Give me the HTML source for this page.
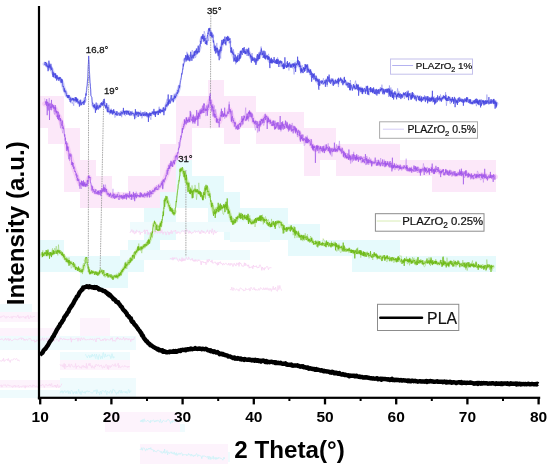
<!DOCTYPE html>
<html><head><meta charset="utf-8"><style>html,body{margin:0;padding:0;background:#fff;width:550px;height:468px;overflow:hidden}svg{display:block}</style></head>
<body><svg width="550" height="468" viewBox="0 0 550 468" font-family="'Liberation Sans', Arial, sans-serif">
<g fill="#fce8f9" opacity="1.0"><rect x="40" y="96" width="8" height="16"/><rect x="40" y="112" width="8" height="16"/><rect x="48" y="96" width="16" height="16"/><rect x="48" y="112" width="16" height="16"/><rect x="48" y="128" width="16" height="16"/><rect x="64" y="128" width="16" height="16"/><rect x="64" y="144" width="16" height="16"/><rect x="64" y="160" width="16" height="16"/><rect x="64" y="176" width="16" height="16"/><rect x="80" y="160" width="16" height="16"/><rect x="80" y="176" width="16" height="16"/><rect x="80" y="192" width="16" height="16"/><rect x="96" y="176" width="16" height="16"/><rect x="96" y="192" width="16" height="16"/><rect x="112" y="192" width="16" height="16"/><rect x="128" y="176" width="16" height="16"/><rect x="128" y="192" width="16" height="16"/><rect x="144" y="176" width="16" height="16"/><rect x="144" y="192" width="16" height="16"/><rect x="160" y="144" width="16" height="16"/><rect x="160" y="160" width="16" height="16"/><rect x="160" y="176" width="16" height="16"/><rect x="176" y="96" width="16" height="16"/><rect x="176" y="112" width="16" height="16"/><rect x="176" y="128" width="16" height="16"/><rect x="176" y="144" width="16" height="16"/><rect x="192" y="96" width="16" height="16"/><rect x="192" y="112" width="16" height="16"/><rect x="208" y="80" width="16" height="16"/><rect x="208" y="96" width="16" height="16"/><rect x="208" y="112" width="16" height="16"/><rect x="224" y="96" width="16" height="16"/><rect x="224" y="112" width="16" height="16"/><rect x="224" y="128" width="16" height="16"/><rect x="240" y="96" width="16" height="16"/><rect x="240" y="112" width="16" height="16"/><rect x="256" y="112" width="16" height="16"/><rect x="256" y="128" width="16" height="16"/><rect x="272" y="112" width="16" height="16"/><rect x="272" y="128" width="16" height="16"/><rect x="288" y="112" width="16" height="16"/><rect x="288" y="128" width="16" height="16"/><rect x="304" y="128" width="16" height="16"/><rect x="304" y="144" width="16" height="16"/><rect x="304" y="160" width="16" height="16"/><rect x="320" y="128" width="16" height="16"/><rect x="320" y="144" width="16" height="16"/><rect x="336" y="144" width="16" height="16"/><rect x="336" y="160" width="16" height="16"/><rect x="352" y="144" width="16" height="16"/><rect x="352" y="160" width="16" height="16"/><rect x="368" y="144" width="16" height="16"/><rect x="368" y="160" width="16" height="16"/><rect x="384" y="144" width="16" height="16"/><rect x="384" y="160" width="16" height="16"/><rect x="400" y="160" width="16" height="16"/><rect x="416" y="160" width="16" height="16"/><rect x="432" y="160" width="16" height="16"/><rect x="432" y="176" width="16" height="16"/><rect x="448" y="160" width="16" height="16"/><rect x="448" y="176" width="16" height="16"/><rect x="464" y="160" width="16" height="16"/><rect x="464" y="176" width="16" height="16"/><rect x="480" y="160" width="16" height="16"/><rect x="480" y="176" width="16" height="16"/></g>
<g fill="#e6fafc" opacity="1.0"><rect x="40" y="240" width="8" height="16"/><rect x="40" y="256" width="8" height="16"/><rect x="48" y="240" width="16" height="16"/><rect x="48" y="256" width="16" height="16"/><rect x="64" y="256" width="16" height="16"/><rect x="80" y="256" width="16" height="16"/><rect x="80" y="272" width="16" height="16"/><rect x="96" y="256" width="16" height="16"/><rect x="96" y="272" width="16" height="16"/><rect x="112" y="256" width="16" height="16"/><rect x="112" y="272" width="16" height="16"/><rect x="128" y="240" width="16" height="16"/><rect x="128" y="256" width="16" height="16"/><rect x="144" y="208" width="16" height="16"/><rect x="144" y="224" width="16" height="16"/><rect x="144" y="240" width="16" height="16"/><rect x="160" y="192" width="16" height="16"/><rect x="160" y="208" width="16" height="16"/><rect x="160" y="224" width="16" height="16"/><rect x="176" y="160" width="16" height="16"/><rect x="176" y="176" width="16" height="16"/><rect x="176" y="192" width="16" height="16"/><rect x="192" y="176" width="16" height="16"/><rect x="192" y="192" width="16" height="16"/><rect x="208" y="176" width="16" height="16"/><rect x="208" y="192" width="16" height="16"/><rect x="208" y="208" width="16" height="16"/><rect x="224" y="192" width="16" height="16"/><rect x="224" y="208" width="16" height="16"/><rect x="224" y="224" width="16" height="16"/><rect x="240" y="208" width="16" height="16"/><rect x="240" y="224" width="16" height="16"/><rect x="256" y="208" width="16" height="16"/><rect x="256" y="224" width="16" height="16"/><rect x="272" y="208" width="16" height="16"/><rect x="272" y="224" width="16" height="16"/><rect x="288" y="224" width="16" height="16"/><rect x="288" y="240" width="16" height="16"/><rect x="304" y="224" width="16" height="16"/><rect x="304" y="240" width="16" height="16"/><rect x="320" y="240" width="16" height="16"/><rect x="336" y="240" width="16" height="16"/><rect x="352" y="240" width="16" height="16"/><rect x="352" y="256" width="16" height="16"/><rect x="368" y="240" width="16" height="16"/><rect x="368" y="256" width="16" height="16"/><rect x="384" y="240" width="16" height="16"/><rect x="384" y="256" width="16" height="16"/><rect x="400" y="256" width="16" height="16"/><rect x="416" y="256" width="16" height="16"/><rect x="432" y="256" width="16" height="16"/><rect x="448" y="256" width="16" height="16"/><rect x="464" y="256" width="16" height="16"/><rect x="480" y="256" width="16" height="16"/></g>
<g fill="#effbfd">
<rect x="0" y="304" width="32" height="14"/>
<rect x="0" y="336" width="136" height="14"/>
<rect x="60" y="352" width="70" height="18"/>
<rect x="60" y="378" width="76" height="20"/>
<rect x="0" y="390" width="60" height="8"/>
<rect x="140" y="424" width="45" height="8"/>
<rect x="140" y="452" width="90" height="10"/>
<rect x="290" y="60" width="8" height="8"/>
</g>
<g fill="#fdf3fc">
<rect x="0" y="312" width="40" height="10"/>
<rect x="0" y="328" width="60" height="8"/>
<rect x="80" y="318" width="30" height="18"/>
<rect x="0" y="380" width="60" height="8"/>
<rect x="105" y="412" width="75" height="20"/>
<rect x="140" y="444" width="88" height="20"/>
<rect x="60" y="360" width="70" height="10"/>
</g>
<path d="M0.0 316.1L0.6 317.6 1.2 317.5 1.8 316.2 2.4 316.3 3.0 316.6 3.6 315.7 4.2 316.2 4.8 316.2 5.4 317.7 6.0 318.3 6.6 316.6 7.2 316.8 7.8 317.2 8.4 316.5 9.0 316.8 9.6 317.8 10.2 317.2 10.8 316.9 11.4 316.5 12.0 318.3 12.6 316.5 13.2 317.1 13.8 316.1 14.4 316.5 15.0 317.1 15.6 316.7 16.2 317.5 16.8 317.1 17.4 315.8 18.0 314.9 18.6 317.9 19.2 316.5 19.8 318.3 20.4 317.0 21.0 316.3 21.6 317.5 22.2 316.8 22.8 317.0 23.4 316.2 24.0 317.6 24.6 318.0 25.2 316.5 25.8 318.6 26.4 316.5 27.0 317.2 27.6 315.5 28.2 315.3 28.8 318.9 29.4 318.3 30.0 318.0 30.6 315.5 31.2 317.2 31.8 317.4 32.4 317.1 33.0 317.3 33.6 316.2 34.2 316.9 34.8 316.0" fill="none" stroke="#f8d8f3" stroke-width="0.8"/>
<path d="M0.0 339.2L0.6 339.9 1.2 338.7 1.8 339.2 2.4 339.1 3.0 339.5 3.6 340.4 4.2 339.7 4.8 339.9 5.4 338.1 6.0 339.1 6.6 340.3 7.2 338.7 7.8 339.1 8.4 338.5 9.0 340.8 9.6 339.1 10.2 338.8 10.8 340.1 11.4 340.6 12.0 340.0 12.6 340.5 13.2 339.7 13.8 339.4 14.4 339.1 15.0 339.0 15.6 338.9 16.2 339.9 16.8 339.4 17.4 339.6 18.0 340.1 18.6 339.5 19.2 338.1 19.8 338.7 20.4 338.4 21.0 337.6 21.6 339.6 22.2 338.3 22.8 338.2 23.4 338.4 24.0 340.4 24.6 339.2 25.2 340.5 25.8 339.4 26.4 339.1 27.0 340.1 27.6 340.1 28.2 339.6 28.8 338.5 29.4 339.0 30.0 338.3 30.6 339.2 31.2 339.6 31.8 341.0 32.4 340.9 33.0 340.2 33.6 340.5 34.2 339.7 34.8 342.3 35.4 341.0 36.0 342.1 36.6 339.9 37.2 339.9 37.8 340.6 38.4 339.7 39.0 339.8 39.6 338.5 40.2 340.4 40.8 339.6 41.4 340.3 42.0 339.3 42.6 337.7 43.2 340.0 43.8 340.7 44.4 338.2 45.0 338.5 45.6 339.2 46.2 339.3 46.8 337.8 47.4 341.3 48.0 340.5 48.6 338.9 49.2 337.7 49.8 339.9 50.4 341.5 51.0 340.3 51.6 340.7 52.2 338.6 52.8 339.7 53.4 338.0 54.0 341.5 54.6 340.1 55.2 337.4 55.8 337.7 56.4 340.0 57.0 339.6 57.6 339.2 58.2 340.1 58.8 341.5 59.4 339.9 60.0 337.7 60.6 339.3 61.2 338.2 61.8 338.7 62.4 339.8 63.0 339.3 63.6 338.4 64.2 339.5 64.8 338.7 65.4 340.0 66.0 339.3 66.6 339.9 67.2 339.2 67.8 340.2 68.4 339.4 69.0 339.5 69.6 338.9 70.2 339.6 70.8 337.7 71.4 342.2 72.0 338.8 72.6 339.6 73.2 339.0 73.8 339.0 74.4 339.9 75.0 339.0 75.6 339.1 76.2 338.1 76.8 338.6 77.4 338.3 78.0 341.3 78.6 338.2 79.2 338.4 79.8 339.7 80.4 340.9 81.0 337.8 81.6 337.9 82.2 339.6 82.8 339.8 83.4 338.1 84.0 337.7 84.6 338.5 85.2 340.2 85.8 339.4 86.4 340.2 87.0 339.4 87.6 339.5 88.2 340.1 88.8 339.4 89.4 339.7 90.0 338.6 90.6 338.9 91.2 340.0 91.8 339.2 92.4 338.7 93.0 340.1 93.6 340.0 94.2 339.5 94.8 338.7 95.4 340.4 96.0 342.0 96.6 338.7 97.2 337.9 97.8 338.7 98.4 338.5 99.0 338.2 99.6 338.3 100.2 340.3 100.8 340.3 101.4 341.0 102.0 340.2 102.6 339.0 103.2 340.6 103.8 338.9 104.4 339.1 105.0 338.3 105.6 340.7 106.2 340.5 106.8 339.0 107.4 339.2 108.0 339.5 108.6 339.7 109.2 340.3 109.8 339.5 110.4 339.9 111.0 338.0 111.6 339.2 112.2 337.7 112.8 341.3 113.4 340.9 114.0 340.2 114.6 340.6 115.2 341.5 115.8 340.4 116.4 337.9 117.0 339.3 117.6 337.1 118.2 338.7 118.8 338.2 119.4 339.5 120.0 339.9 120.6 338.5 121.2 339.2 121.8 339.7 122.4 339.3 123.0 339.3 123.6 337.1 124.2 339.0 124.8 340.3 125.4 339.7 126.0 338.0 126.6 339.2 127.2 339.7 127.8 338.5 128.4 340.1 129.0 338.7 129.6 339.1 130.2 339.4 130.8 341.7 131.4 339.1 132.0 338.9 132.6 340.2 133.2 339.0 133.8 339.7 134.4 337.2" fill="none" stroke="#f7d2f1" stroke-width="0.8"/>
<path d="M0.0 386.2L0.6 385.9 1.2 384.8 1.8 387.2 2.4 385.8 3.0 385.8 3.6 384.8 4.2 384.5 4.8 385.5 5.4 384.6 6.0 386.4 6.6 386.7 7.2 385.4 7.8 384.5 8.4 385.6 9.0 385.0 9.6 386.1 10.2 386.1 10.8 385.6 11.4 386.0 12.0 386.9 12.6 387.5 13.2 385.5 13.8 386.6 14.4 385.8 15.0 385.0 15.6 387.1 16.2 386.3 16.8 386.1 17.4 386.3 18.0 385.8 18.6 385.0 19.2 387.6 19.8 386.8 20.4 386.2 21.0 386.8 21.6 387.1 22.2 385.8 22.8 386.5 23.4 385.7 24.0 386.5 24.6 385.7 25.2 388.2 25.8 385.6 26.4 386.4 27.0 386.4 27.6 385.7 28.2 386.8 28.8 385.9 29.4 385.6 30.0 386.0 30.6 385.3 31.2 387.0 31.8 386.5 32.4 386.8 33.0 384.7 33.6 386.2 34.2 385.3 34.8 386.0 35.4 387.1 36.0 386.2 36.6 385.8 37.2 387.0 37.8 386.9 38.4 387.6 39.0 384.3 39.6 386.3 40.2 385.6 40.8 385.2 41.4 386.1 42.0 384.9 42.6 384.0 43.2 385.2 43.8 385.7 44.4 387.6 45.0 385.3 45.6 384.9 46.2 384.2 46.8 385.6 47.4 385.7 48.0 386.1 48.6 384.7 49.2 385.3 49.8 383.9 50.4 386.1 51.0 384.6 51.6 383.5 52.2 387.0 52.8 386.4 53.4 386.3 54.0 386.3 54.6 385.0 55.2 386.9 55.8 385.0 56.4 387.7 57.0 386.2 57.6 384.3 58.2 386.7 58.8 387.7 59.4 385.7 60.0 386.9 60.6 385.8 61.2 385.4 61.8 383.6" fill="none" stroke="#f8d8f3" stroke-width="0.8"/>
<path d="M60.0 393.4L60.6 391.4 61.2 392.4 61.8 390.6 62.4 390.9 63.0 393.3 63.6 391.5 64.2 391.5 64.8 390.4 65.4 392.2 66.0 392.9 66.6 391.4 67.2 391.7 67.8 390.5 68.4 393.6 69.0 391.2 69.6 391.8 70.2 394.0 70.8 391.7 71.4 390.1 72.0 390.8 72.6 391.5 73.2 394.1 73.8 392.2 74.4 391.7 75.0 393.0 75.6 393.5 76.2 391.0 76.8 393.7 77.4 393.0 78.0 392.5 78.6 389.1 79.2 392.2 79.8 393.6 80.4 391.6 81.0 394.7 81.6 392.1 82.2 390.7 82.8 392.7 83.4 392.3 84.0 393.0 84.6 391.7 85.2 393.5 85.8 391.3 86.4 392.1 87.0 390.5 87.6 391.0 88.2 392.2 88.8 391.2 89.4 391.4 90.0 391.7 90.6 392.3 91.2 392.9 91.8 392.9 92.4 393.2 93.0 392.2 93.6 391.3 94.2 390.1 94.8 391.6 95.4 391.0 96.0 389.8 96.6 394.0 97.2 389.7 97.8 392.4 98.4 392.6 99.0 391.7 99.6 395.1 100.2 392.0 100.8 391.0 101.4 394.1 102.0 391.0 102.6 390.2 103.2 390.8 103.8 391.2 104.4 392.0 105.0 392.4 105.6 390.1 106.2 392.4 106.8 394.7 107.4 391.1 108.0 391.8 108.6 392.8 109.2 393.4 109.8 391.2 110.4 390.8 111.0 390.7 111.6 393.3 112.2 393.1 112.8 389.3 113.4 389.4 114.0 390.5 114.6 390.1 115.2 392.5 115.8 392.2 116.4 394.4 117.0 392.9 117.6 392.1 118.2 393.4 118.8 390.9 119.4 390.3 120.0 392.0 120.6 393.1 121.2 390.0 121.8 393.1 122.4 393.0 123.0 391.4 123.6 392.2 124.2 391.6 124.8 392.1 125.4 393.0 126.0 391.0 126.6 393.2 127.2 393.0 127.8 393.1 128.4 389.6 129.0 389.7 129.6 392.8 130.2 391.3 130.8 391.1 131.4 391.0" fill="none" stroke="#cbf2f7" stroke-width="0.8"/>
<path d="M60.0 364.3L60.6 365.6 61.2 365.1 61.8 365.2 62.4 366.6 63.0 364.5 63.6 367.3 64.2 363.3 64.8 369.0 65.4 364.3 66.0 366.7 66.6 367.1 67.2 366.0 67.8 366.9 68.4 365.8 69.0 363.8 69.6 366.4 70.2 367.4 70.8 365.3 71.4 363.9 72.0 365.2 72.6 366.4 73.2 366.3 73.8 367.3 74.4 366.7 75.0 366.6 75.6 363.5 76.2 368.7 76.8 366.0 77.4 367.0 78.0 365.5 78.6 365.8 79.2 366.0 79.8 367.9 80.4 367.8 81.0 366.7 81.6 368.4 82.2 365.5 82.8 366.6 83.4 365.4 84.0 367.6 84.6 366.0 85.2 367.2 85.8 368.1 86.4 363.4 87.0 368.6 87.6 366.4 88.2 365.6 88.8 363.6 89.4 365.6 90.0 363.2 90.6 366.1 91.2 365.8 91.8 368.2 92.4 365.6 93.0 367.3 93.6 367.4 94.2 368.5 94.8 365.7 95.4 366.9 96.0 364.1 96.6 364.6 97.2 365.7 97.8 366.0 98.4 364.5 99.0 365.5 99.6 366.8 100.2 365.4 100.8 365.8 101.4 364.9 102.0 367.7 102.6 368.2 103.2 366.2 103.8 365.8 104.4 368.0 105.0 366.6 105.6 365.2 106.2 364.3 106.8 365.3 107.4 368.7 108.0 365.3 108.6 369.5 109.2 366.0 109.8 365.7 110.4 367.6 111.0 365.7 111.6 366.5 112.2 364.7 112.8 364.5 113.4 365.1 114.0 366.3 114.6 365.2 115.2 363.6 115.8 366.6 116.4 365.8 117.0 365.7 117.6 365.2 118.2 363.2 118.8 368.0 119.4 365.4 120.0 366.6 120.6 367.7 121.2 367.4 121.8 366.2 122.4 366.0 123.0 366.4 123.6 367.1 124.2 366.7 124.8 365.4 125.4 366.6 126.0 366.5 126.6 366.9 127.2 366.3 127.8 367.7 128.4 366.2 129.0 367.1 129.6 366.1" fill="none" stroke="#f8d8f3" stroke-width="0.8"/>
<path d="M85.0 355.1L85.6 354.5 86.2 355.8 86.8 356.8 87.4 357.9 88.0 355.9 88.6 355.2 89.2 355.2 89.8 358.0 90.4 356.2 91.0 355.2 91.6 357.1 92.2 354.0 92.8 356.2 93.4 355.9 94.0 355.8 94.6 354.2 95.2 357.5 95.8 358.6 96.4 354.0 97.0 356.2 97.6 357.0 98.2 359.5 98.8 355.4 99.4 354.5 100.0 356.0 100.6 359.1 101.2 356.1 101.8 356.4 102.4 358.7 103.0 352.7 103.6 352.7 104.2 357.4 104.8 357.2 105.4 353.9 106.0 356.8 106.6 356.1 107.2 356.3 107.8 354.8 108.4 355.3 109.0 354.7 109.6 356.1 110.2 355.6 110.8 358.6 111.4 357.0 112.0 353.6 112.6 356.6 113.2 358.2 113.8 356.4 114.4 357.7" fill="none" stroke="#cbf2f7" stroke-width="0.8"/>
<path d="M140.0 421.0L140.6 421.7 141.2 420.0 141.8 421.8 142.4 419.6 143.0 422.3 143.6 419.4 144.2 418.8 144.8 421.5 145.4 420.8 146.0 421.1 146.6 421.4 147.2 421.0 147.8 420.1 148.4 421.2 149.0 421.4 149.6 421.5 150.2 423.0 150.8 420.2 151.4 421.1 152.0 421.6 152.6 420.5 153.2 419.8 153.8 420.4 154.4 422.1 155.0 420.7 155.6 421.6 156.2 420.2 156.8 421.5 157.4 420.3 158.0 420.1 158.6 421.1 159.2 421.1 159.8 422.5 160.4 419.3 161.0 421.5 161.6 422.7 162.2 422.4 162.8 420.6 163.4 420.3 164.0 420.5 164.6 421.3 165.2 421.2 165.8 421.4 166.4 421.6 167.0 419.9 167.6 419.8 168.2 419.7 168.8 419.6 169.4 420.9 170.0 421.3 170.6 423.6 171.2 421.5 171.8 421.0 172.4 422.5 173.0 420.2 173.6 421.3 174.2 422.0 174.8 421.8 175.4 421.4 176.0 420.6 176.6 419.7 177.2 420.8 177.8 420.4" fill="none" stroke="#cbf2f7" stroke-width="0.8"/>
<path d="M140.0 449.7L140.6 448.9 141.2 449.7 141.8 447.6 142.4 450.3 143.0 448.5 143.6 447.8 144.2 448.1 144.8 448.9 145.4 450.8 146.0 450.5 146.6 448.6 147.2 450.0 147.8 449.8 148.4 448.4 149.0 449.1 149.6 448.1 150.2 449.3 150.8 447.6 151.4 449.6 152.0 449.5 152.6 449.7 153.2 449.7 153.8 451.8 154.4 450.4 155.0 451.0 155.6 451.6 156.2 451.9 156.8 451.7 157.4 450.5 158.0 450.0 158.6 450.4 159.2 450.8 159.8 451.4 160.4 451.4 161.0 452.6 161.6 451.5 162.2 453.5 162.8 452.8 163.4 451.3 164.0 452.8 164.6 449.0 165.2 453.4 165.8 452.5 166.4 452.6 167.0 450.5 167.6 454.9 168.2 452.1 168.8 452.3 169.4 453.7 170.0 452.4 170.6 451.8 171.2 453.4 171.8 451.8 172.4 453.6 173.0 453.1 173.6 454.2 174.2 451.9 174.8 454.4 175.4 453.5 176.0 455.3 176.6 452.7 177.2 455.4 177.8 454.3 178.4 454.4 179.0 452.9 179.6 454.3 180.2 454.5 180.8 453.0 181.4 452.8 182.0 453.2 182.6 455.6 183.2 454.3 183.8 455.2 184.4 454.6 185.0 454.5 185.6 454.7 186.2 454.1 186.8 455.9 187.4 454.9 188.0 455.0 188.6 453.4 189.2 455.2 189.8 454.3 190.4 454.5 191.0 456.2 191.6 454.1 192.2 455.1 192.8 456.0 193.4 456.6 194.0 454.9 194.6 455.9 195.2 455.9 195.8 454.5 196.4 453.6 197.0 453.9 197.6 456.5 198.2 456.1 198.8 454.7 199.4 455.5 200.0 455.8 200.6 455.9 201.2 456.3 201.8 458.7 202.4 455.7 203.0 456.7 203.6 455.8 204.2 456.1 204.8 455.9 205.4 456.6 206.0 456.4 206.6 457.3 207.2 457.3 207.8 456.2 208.4 459.2 209.0 456.1 209.6 457.7 210.2 459.6 210.8 456.8 211.4 458.9 212.0 459.1 212.6 458.1 213.2 455.9 213.8 459.3 214.4 458.0 215.0 457.4 215.6 459.4 216.2 457.4 216.8 459.3 217.4 457.7 218.0 458.9 218.6 457.3 219.2 458.1 219.8 457.6 220.4 457.9 221.0 458.9 221.6 458.6 222.2 459.1 222.8 460.2 223.4 458.9 224.0 457.2 224.6 458.9" fill="none" stroke="#cbf2f7" stroke-width="0.8"/>
<path d="M0.0 360.1L0.6 361.2 1.2 361.3 1.8 361.2 2.4 359.7 3.0 360.8 3.6 358.2 4.2 361.6 4.8 360.5 5.4 360.6 6.0 359.5 6.6 360.1 7.2 359.2 7.8 360.7 8.4 358.4 9.0 361.2 9.6 360.7 10.2 362.5 10.8 360.0 11.4 359.9 12.0 360.2 12.6 360.0 13.2 359.9 13.8 358.6 14.4 358.6 15.0 359.3 15.6 359.6 16.2 358.5 16.8 358.6 17.4 359.7 18.0 360.9 18.6 359.8 19.2 360.8 19.8 361.2" fill="none" stroke="#f8d8f3" stroke-width="0.8"/>
<g fill="#effbfd"><rect x="130" y="222" width="130" height="10"/><rect x="120" y="250" width="130" height="10"/><rect x="230" y="230" width="40" height="12"/></g>
<path d="M130.0 233.0L130.6 231.4 131.2 231.5 131.8 229.5 132.4 231.1 133.0 232.6 133.6 230.6 134.2 233.8 134.8 233.9 135.4 231.5 136.0 233.2 136.6 230.1 137.2 230.6 137.8 231.5 138.4 232.0 139.0 231.8 139.6 230.9 140.2 234.6 140.8 232.4 141.4 232.4 142.0 232.9 142.6 232.2 143.2 231.7 143.8 231.3 144.4 229.8 145.0 234.0 145.6 230.8 146.2 229.8 146.8 230.9 147.4 229.9 148.0 234.6 148.6 232.5 149.2 233.9 149.8 233.9 150.4 232.8 151.0 232.8 151.6 231.0 152.2 231.9 152.8 231.2 153.4 232.1 154.0 231.1 154.6 233.7 155.2 233.0 155.8 231.9 156.4 229.8 157.0 232.9 157.6 233.2 158.2 231.9 158.8 230.3 159.4 232.6 160.0 233.4 160.6 229.5 161.2 232.8 161.8 229.6 162.4 232.1 163.0 234.3 163.6 232.1 164.2 232.6 164.8 231.6 165.4 232.0 166.0 235.1 166.6 233.8 167.2 231.6 167.8 231.5 168.4 232.0 169.0 234.9 169.6 232.3 170.2 233.5 170.8 231.5 171.4 230.3 172.0 233.8 172.6 231.9 173.2 231.0 173.8 231.1 174.4 231.1 175.0 231.2 175.6 230.0 176.2 233.6 176.8 232.5 177.4 233.3 178.0 231.5 178.6 232.5 179.2 232.2 179.8 233.6 180.4 233.1 181.0 232.5 181.6 231.1 182.2 230.4 182.8 230.9 183.4 231.2 184.0 231.3 184.6 230.4 185.2 234.2 185.8 232.4 186.4 229.3 187.0 230.6 187.6 230.2 188.2 232.3 188.8 233.4 189.4 230.7 190.0 232.8 190.6 231.6 191.2 233.5 191.8 233.8 192.4 232.4 193.0 232.9 193.6 232.0 194.2 231.5 194.8 230.5 195.4 232.4 196.0 231.9 196.6 231.5 197.2 231.9 197.8 231.8 198.4 230.6 199.0 231.3 199.6 233.5 200.2 231.7 200.8 233.8 201.4 230.5 202.0 230.2 202.6 232.2 203.2 233.0 203.8 231.1 204.4 232.8 205.0 233.2 205.6 233.4 206.2 231.9 206.8 231.9 207.4 229.8 208.0 232.0 208.6 232.4 209.2 233.9 209.8 230.3 210.4 230.9 211.0 230.7 211.6 233.2 212.2 228.7 212.8 230.6 213.4 234.7 214.0 232.9 214.6 230.3 215.2 231.9 215.8 233.1 216.4 232.7 217.0 231.7 217.6 231.0" fill="none" stroke="#f8d2f2" stroke-width="0.8"/>
<path d="M170.0 259.1L170.6 258.1 171.2 259.2 171.8 258.7 172.4 257.6 173.0 260.2 173.6 257.7 174.2 259.0 174.8 257.6 175.4 258.2 176.0 258.3 176.6 257.8 177.2 259.0 177.8 260.5 178.4 261.3 179.0 260.8 179.6 258.7 180.2 260.9 180.8 259.6 181.4 261.5 182.0 257.5 182.6 261.2 183.2 258.5 183.8 260.9 184.4 258.8 185.0 260.7 185.6 259.2 186.2 257.2 186.8 258.4 187.4 259.4 188.0 259.8 188.6 256.9 189.2 258.3 189.8 259.0 190.4 259.8 191.0 260.4 191.6 259.1 192.2 258.2 192.8 260.7 193.4 259.9 194.0 261.6 194.6 259.8 195.2 261.4 195.8 259.4 196.4 261.0 197.0 260.8 197.6 261.3 198.2 259.6 198.8 260.7 199.4 259.8 200.0 260.8 200.6 261.9 201.2 265.0 201.8 261.2 202.4 262.2 203.0 261.4 203.6 262.8 204.2 262.0 204.8 262.8 205.4 262.0 206.0 264.7 206.6 263.5 207.2 259.5 207.8 262.2 208.4 261.9 209.0 259.0 209.6 260.8 210.2 261.4 210.8 261.1 211.4 262.3 212.0 259.9 212.6 263.2 213.2 263.3 213.8 262.8 214.4 262.0 215.0 262.5 215.6 262.0 216.2 264.1 216.8 263.3 217.4 265.3 218.0 262.3 218.6 264.8 219.2 262.2 219.8 262.8 220.4 261.7 221.0 263.8 221.6 263.1 222.2 264.0 222.8 265.2 223.4 263.3 224.0 263.9 224.6 264.6 225.2 263.5 225.8 262.9 226.4 264.1 227.0 264.4 227.6 264.8 228.2 264.9 228.8 263.0 229.4 264.5 230.0 265.6 230.6 263.5 231.2 264.6 231.8 263.4 232.4 264.5 233.0 266.6 233.6 264.6 234.2 263.2 234.8 264.9 235.4 264.8 236.0 266.1 236.6 262.9 237.2 263.5 237.8 264.7 238.4 262.8 239.0 266.4 239.6 262.3 240.2 263.9 240.8 263.2 241.4 264.3 242.0 266.3 242.6 266.1 243.2 266.5 243.8 266.2 244.4 262.8 245.0 265.9 245.6 263.2 246.2 265.0 246.8 265.2 247.4 265.0 248.0 266.5 248.6 264.8 249.2 268.2 249.8 266.8 250.4 267.6 251.0 267.1 251.6 267.3 252.2 266.2 252.8 268.8 253.4 265.0 254.0 267.0 254.6 266.5 255.2 266.2 255.8 267.0 256.4 265.7 257.0 267.8 257.6 267.8 258.2 267.0 258.8 267.9 259.4 265.6 260.0 264.7 260.6 266.3 261.2 266.8 261.8 270.4 262.4 267.0 263.0 268.7 263.6 268.5 264.2 270.2 264.8 267.6 265.4 268.4 266.0 267.4 266.6 266.5 267.2 266.4 267.8 266.8 268.4 269.7 269.0 268.3 269.6 267.8 270.2 268.1 270.8 267.4 271.4 268.1" fill="none" stroke="#f8d2f2" stroke-width="0.8"/>
<path d="M230.0 289.0L230.6 289.8 231.2 290.1 231.8 287.0 232.4 289.3 233.0 290.7 233.6 287.8 234.2 288.7 234.8 289.2 235.4 290.3 236.0 289.7 236.6 288.7 237.2 289.6 237.8 290.3 238.4 289.5 239.0 291.2 239.6 289.5 240.2 287.8 240.8 288.1 241.4 288.9 242.0 288.8 242.6 289.8 243.2 289.4 243.8 291.1 244.4 290.0 245.0 290.8 245.6 288.1 246.2 288.5 246.8 289.8 247.4 289.1 248.0 289.8 248.6 289.3 249.2 288.3 249.8 291.1 250.4 290.4 251.0 287.1 251.6 288.3 252.2 289.0 252.8 289.8 253.4 288.9 254.0 287.4 254.6 290.0 255.2 288.8 255.8 290.5 256.4 289.4 257.0 290.2 257.6 290.0 258.2 290.1 258.8 288.4 259.4 290.3 260.0 289.3 260.6 287.5 261.2 288.5 261.8 288.6 262.4 289.6 263.0 289.8 263.6 287.7 264.2 289.9 264.8 288.9 265.4 287.8 266.0 290.0 266.6 288.1 267.2 287.6 267.8 289.9 268.4 290.1 269.0 288.2 269.6 290.3 270.2 290.2 270.8 288.4 271.4 291.4 272.0 289.0 272.6 289.3 273.2 286.2 273.8 289.8 274.4 288.3 275.0 289.6 275.6 287.0 276.2 290.4 276.8 290.8 277.4 291.3 278.0 285.5 278.6 289.7 279.2 289.4 279.8 285.4 280.4 288.2 281.0 288.9 281.6 290.7" fill="none" stroke="#f8d8f3" stroke-width="0.8"/>
<g stroke="#9c9c9c" stroke-width="0.85" stroke-dasharray="1.6 0.8" fill="none">
<line x1="88.6" y1="60" x2="88.3" y2="272"/>
<line x1="103.7" y1="99" x2="100.1" y2="272"/>
<line x1="210.8" y1="15.5" x2="210.4" y2="128.5"/>
<line x1="185.9" y1="170" x2="185.9" y2="256.5"/>
</g>
<path d="M44.4 64.1L45.1 63.9 45.9 63.6 46.6 64.7 47.4 66.2 48.1 66.5 48.9 66.3 49.6 66.3 50.4 67.0 51.1 68.1 51.9 69.6 52.6 72.0 53.4 73.6 54.1 74.4 54.9 75.2 55.6 76.3 56.4 77.1 57.1 77.7 57.9 78.3 58.6 78.6 59.4 78.5 60.1 79.1 60.9 80.0 61.6 81.2 62.4 83.0 63.1 85.7 63.9 88.4 64.7 90.2 65.4 92.1 66.2 94.0 66.9 95.6 67.7 96.5 68.4 96.5 69.2 97.4 69.9 97.8 70.7 98.9 71.4 99.0 72.2 99.3 72.9 99.6 73.7 99.7 74.4 99.5 75.2 99.4 75.9 99.3 76.7 99.9 77.4 100.9 78.2 101.6 78.9 102.9 79.7 102.6 80.4 103.5 81.2 103.1 81.9 103.4 82.7 102.5 83.4 102.2 84.2 101.5 84.9 99.5 M93.2 105.0L93.9 106.3 94.7 107.7 95.4 107.6 96.2 108.1 96.9 106.9 97.7 107.5 98.4 107.1 99.2 106.9 99.9 106.1 100.7 105.1 101.4 104.5 102.2 103.8 102.9 103.6 103.7 103.1 104.4 103.9 105.2 105.1 105.9 106.0 106.7 107.4 107.4 108.3 108.2 110.2 108.9 110.8 109.7 111.6 110.4 111.6 111.2 111.4 111.9 112.0 112.7 112.2 113.4 112.7 114.2 112.3 114.9 112.9 115.7 113.2 116.4 113.7 117.2 113.9 117.9 113.9 118.7 114.2 119.4 113.8 120.2 114.0 120.9 113.4 121.7 113.3 122.4 112.2 123.2 112.2 123.9 112.1 124.7 112.3 125.4 112.0 126.2 112.0 126.9 112.0 127.7 112.1 128.4 112.6 129.2 113.4 129.9 113.5 130.7 113.5 131.4 113.2 132.2 113.7 132.9 113.6 133.7 114.5 134.4 114.1 135.2 113.7 135.9 113.3 136.7 113.4 137.4 114.3 138.2 113.8 138.9 114.0 139.7 113.8 140.4 114.5 141.2 114.5 141.9 114.2 142.7 114.1 143.4 114.0 144.2 114.5 144.9 114.2 145.7 114.4 146.4 114.9 147.2 114.9 147.9 116.0 148.7 115.2 149.4 115.4 150.2 114.4 150.9 114.3 151.7 113.7 152.4 113.0 153.2 112.4 153.9 112.6 154.7 113.0 155.4 113.0 156.2 112.9 156.9 112.3 157.7 112.5 158.4 112.1 159.2 111.5 159.9 111.0 160.7 110.7 161.4 111.0 162.2 110.4 162.9 110.3 163.7 109.7 164.4 109.7 165.2 108.0 165.9 106.9 166.7 104.8 167.4 103.5 168.2 102.2 168.9 101.3 169.7 101.5 170.4 100.4 171.2 100.3 171.9 99.4 172.7 100.3 173.4 99.5 174.2 98.5 174.9 97.1 175.7 95.9 176.4 94.8 177.2 93.0 177.9 91.2 178.7 89.1 179.4 86.6 M184.7 59.9L185.4 58.8 186.2 58.6 186.9 58.5 187.7 57.2 188.4 57.4 189.2 58.3 189.9 57.8 190.7 57.3 191.4 56.4 192.2 57.3 192.9 56.8 193.7 55.5 194.4 54.1 195.2 52.9 195.9 52.4 196.7 52.0 197.4 51.2 198.2 51.2 198.9 49.8 199.7 47.3 M201.2 40.4L201.9 38.3 202.7 37.2 203.4 37.5 204.2 38.6 204.9 40.4 205.7 41.7 206.4 41.5 M208.7 31.3L209.4 30.9 210.2 32.1 210.9 33.8 211.7 34.7 212.4 36.2 M214.7 46.7L215.4 49.2 216.2 50.0 216.9 50.2 217.7 51.1 218.4 52.2 219.2 52.9 219.9 51.6 220.7 49.3 221.4 46.4 222.2 44.5 222.9 42.3 223.7 41.7 224.4 40.9 225.2 41.7 225.9 40.7 226.7 39.9 227.4 38.7 228.2 39.3 228.9 39.4 229.7 41.8 M231.9 51.4L232.7 53.1 233.4 55.5 234.2 57.4 234.9 59.3 235.7 59.5 236.4 60.0 237.2 58.9 237.9 59.1 238.7 58.1 239.4 57.6 240.2 54.7 240.9 53.4 241.7 52.0 242.4 51.1 243.2 50.1 243.9 50.3 244.7 51.4 245.4 52.5 246.2 52.2 246.9 51.8 247.7 51.5 248.4 52.0 249.2 53.1 249.9 54.4 250.7 56.9 251.4 58.1 252.2 59.0 252.9 58.9 253.7 59.3 254.4 59.8 255.2 60.9 255.9 61.2 256.6 59.6 257.4 58.5 258.1 56.9 258.9 56.9 259.6 54.8 260.4 53.4 261.1 52.0 261.9 52.5 262.6 53.6 263.4 54.6 264.1 54.9 264.9 55.8 265.6 56.4 266.4 56.9 267.1 57.1 267.9 57.6 268.6 59.0 269.4 60.8 270.1 61.7 270.9 61.6 271.6 61.0 272.4 61.1 273.1 60.9 273.9 61.2 274.6 61.3 275.4 61.9 276.1 61.5 276.9 61.5 277.6 61.4 278.4 62.3 279.1 62.6 279.9 62.7 280.6 62.4 281.4 62.9 282.1 64.4 282.9 65.8 283.6 66.8 284.4 65.5 285.1 65.3 285.9 65.0 286.6 65.9 287.4 65.5 288.1 64.8 288.9 64.4 289.6 64.9 290.4 65.4 291.1 66.1 291.9 65.6 292.6 65.2 293.4 64.9 294.1 65.3 294.9 66.2 295.6 65.9 296.4 65.3 297.1 62.8 297.9 62.9 298.6 63.0 299.4 64.9 300.1 66.8 300.9 68.7 301.6 70.2 302.4 70.5 303.1 69.8 303.9 69.8 304.6 68.4 305.4 67.7 306.1 67.2 306.9 67.5 307.6 68.7 308.4 69.7 309.1 70.6 309.9 71.3 310.6 72.8 311.4 74.8 312.1 76.0 312.9 76.2 313.6 75.9 314.4 76.9 315.1 77.4 315.9 78.8 316.6 79.2 317.4 80.1 318.1 82.1 318.9 83.4 319.6 83.7 320.4 82.5 321.1 81.8 321.9 81.8 322.6 82.4 323.4 82.8 324.1 82.7 324.9 82.4 325.6 81.7 326.4 81.5 327.1 79.6 327.9 79.7 328.6 78.8 329.4 80.1 330.1 80.5 330.9 81.1 331.6 80.8 332.4 81.1 333.1 81.5 333.9 82.6 334.6 81.9 335.4 82.1 336.1 81.9 336.9 81.8 337.6 81.2 338.4 80.6 339.1 80.6 339.9 80.2 340.6 79.9 341.4 80.3 342.1 81.6 342.9 82.3 343.6 82.0 344.4 81.2 345.1 81.7 345.9 82.8 346.6 83.8 347.4 84.8 348.1 84.5 348.9 85.3 349.6 85.5 350.4 86.2 351.1 86.4 351.9 87.2 352.6 87.5 353.4 87.5 354.1 86.8 354.9 87.6 355.6 87.5 356.4 87.2 357.1 87.3 357.9 88.1 358.6 88.9 359.4 89.0 360.1 89.1 360.9 89.3 361.6 90.3 362.4 90.3 363.1 90.8 363.9 89.7 364.6 90.1 365.4 90.1 366.1 89.4 366.9 89.1 367.6 89.7 368.4 90.4 369.1 90.0 369.9 89.3 370.6 89.8 371.4 90.2 372.1 90.8 372.9 90.6 373.6 91.3 374.4 91.3 375.1 92.2 375.9 92.1 376.6 92.5 377.4 92.0 378.1 91.9 378.9 91.3 379.6 91.1 380.4 90.2 381.1 89.3 381.9 90.1 382.6 90.4 383.4 91.5 384.1 90.6 384.9 90.8 385.6 90.7 386.4 91.2 387.1 91.1 387.9 90.6 388.6 90.9 389.4 91.9 390.1 93.8 390.9 93.9 391.6 94.1 392.4 94.0 393.1 95.4 393.9 94.9 394.6 94.3 395.4 93.9 396.1 95.3 396.9 95.9 397.6 95.3 398.4 94.9 399.1 94.8 399.9 95.7 400.6 95.7 401.4 96.2 402.1 95.8 402.9 95.2 403.6 94.4 404.4 94.1 405.1 94.1 405.9 94.8 406.6 95.1 407.4 95.3 408.1 95.5 408.9 95.1 409.6 95.4 410.4 96.1 411.1 96.2 411.9 95.9 412.6 95.2 413.4 95.7 414.1 96.7 414.9 96.9 415.6 98.2 416.4 97.9 417.1 97.8 417.9 97.1 418.6 97.5 419.4 98.5 420.1 99.0 420.9 99.5 421.6 99.5 422.4 99.4 423.1 98.7 423.9 98.4 424.6 98.6 425.4 99.1 426.1 98.9 426.9 99.0 427.6 99.3 428.4 99.5 429.1 99.4 429.9 99.5 430.6 99.3 431.4 98.4 432.1 98.0 432.9 98.1 433.6 99.8 434.4 100.0 435.1 100.7 435.9 99.6 436.6 99.6 437.4 98.9 438.1 98.9 438.9 98.5 439.6 98.5 440.4 98.9 441.1 99.4 441.9 99.0 442.6 98.1 443.4 97.6 444.1 97.6 444.9 97.6 445.6 98.2 446.4 98.4 447.1 99.3 447.9 98.8 448.6 98.2 449.4 98.2 450.1 99.0 450.9 100.1 451.6 99.9 452.4 100.0 453.1 100.2 453.9 99.9 454.6 100.6 455.4 100.4 456.1 101.4 456.9 101.5 457.6 101.2 458.4 100.6 459.1 99.8 459.9 99.9 460.6 100.2 461.4 100.0 462.1 100.4 462.9 101.1 463.6 101.2 464.4 101.0 465.1 100.0 465.9 100.0 466.6 99.7 467.4 100.3 468.1 100.7 468.9 101.2 469.6 101.2 470.4 101.7 471.1 102.5 471.9 103.1 472.6 102.7 473.4 102.2 474.1 102.0 474.9 101.9 475.6 101.5 476.4 101.4 477.1 101.6 477.9 102.1 478.6 101.9 479.4 102.0 480.1 102.2 480.9 102.9 481.6 103.0 482.4 102.4 483.1 102.0 483.9 102.3 484.6 102.5 485.4 102.3 486.1 102.0 486.9 101.9 487.6 102.2 488.4 101.8 489.1 102.1 489.9 101.7 490.6 101.8 491.4 101.2 492.1 101.4 492.9 101.2 493.6 101.7 494.4 102.3 495.1 103.7 495.9 104.1 496.6 103.6" fill="none" stroke="#a09ef4" stroke-width="3.8" stroke-linejoin="round" stroke-linecap="round" opacity="0.45"/>
<path d="M44.7 103.9L45.5 103.6 46.2 104.1 47.0 104.2 47.7 105.3 48.5 106.5 49.2 106.9 50.0 107.4 50.7 105.9 51.5 106.3 52.2 105.8 53.0 106.7 53.7 107.3 54.5 108.0 55.2 108.9 56.0 110.2 56.7 113.0 57.5 114.5 58.2 116.1 59.0 116.2 59.7 118.0 60.5 120.1 61.2 122.7 62.0 124.4 62.7 126.4 M66.5 144.3L67.2 146.7 68.0 149.5 68.7 152.4 69.5 154.7 70.2 155.6 71.0 158.2 71.7 161.0 72.5 163.8 73.2 165.6 74.0 168.4 74.7 170.6 75.5 172.7 76.2 174.7 77.0 177.3 77.7 179.2 78.5 180.5 79.2 182.2 80.0 183.4 80.7 183.9 81.5 183.2 82.2 183.8 83.0 184.0 83.7 184.4 84.5 184.3 85.2 184.7 86.0 184.7 86.7 184.0 87.5 181.7 88.2 179.3 89.0 177.5 89.7 178.3 M92.0 188.2L92.7 189.8 93.5 190.2 94.2 191.3 95.0 192.1 95.7 192.3 96.5 192.7 97.2 192.6 98.0 192.4 98.7 192.5 99.5 192.5 100.2 192.8 101.0 191.9 101.7 191.4 102.5 190.5 103.2 189.7 104.0 189.6 104.7 189.4 105.5 190.4 106.2 191.0 107.0 192.4 107.7 193.4 108.5 194.4 109.2 194.7 110.0 194.9 110.7 195.6 111.5 195.7 112.2 196.3 113.0 195.3 113.7 195.5 114.5 195.5 115.2 196.4 116.0 196.6 116.7 196.1 117.5 195.9 118.2 196.6 119.0 197.0 119.7 197.0 120.5 196.3 121.2 196.7 122.0 196.8 122.7 196.9 123.5 196.5 124.2 196.8 125.0 196.5 125.7 196.6 126.5 196.0 127.2 196.1 128.0 195.9 128.7 195.6 129.4 195.3 130.2 195.5 130.9 196.3 131.7 196.2 132.4 195.8 133.2 195.1 133.9 195.7 134.7 196.0 135.4 196.1 136.2 195.7 136.9 195.6 137.7 195.6 138.4 195.7 139.2 195.4 139.9 195.5 140.7 194.9 141.4 195.0 142.2 194.9 142.9 195.4 143.7 195.1 144.4 195.0 145.2 194.8 145.9 195.1 146.7 194.9 147.4 194.3 148.2 194.2 148.9 194.4 149.7 193.8 150.4 193.7 151.2 192.8 151.9 192.3 152.7 191.5 153.4 190.9 154.2 190.2 154.9 189.5 155.7 188.5 156.4 188.8 157.2 188.5 157.9 187.9 158.7 187.1 159.4 186.2 160.2 185.9 160.9 185.0 161.7 184.5 162.4 183.2 163.2 182.0 163.9 180.5 164.7 179.4 165.4 177.8 166.2 175.5 166.9 174.1 167.7 171.8 168.4 169.7 169.2 167.4 169.9 165.8 170.7 165.2 171.4 164.6 172.2 164.5 172.9 163.4 173.7 162.6 174.4 161.1 175.2 159.2 175.9 157.2 176.7 156.1 177.4 154.6 M183.4 126.6L184.2 123.8 184.9 122.5 185.7 121.1 186.4 120.8 187.2 120.4 187.9 120.6 188.7 120.3 189.4 118.7 190.2 118.2 190.9 118.0 191.7 118.3 192.4 118.8 193.2 118.8 193.9 119.9 194.7 119.7 195.4 119.3 196.2 117.5 196.9 117.8 197.7 116.6 198.4 116.4 199.2 113.5 199.9 112.8 200.7 111.6 201.4 111.6 202.2 110.3 202.9 109.1 203.7 107.1 204.4 107.4 205.2 108.2 205.9 109.5 206.7 109.9 207.4 108.5 208.2 106.9 208.9 102.7 209.7 101.0 210.4 101.1 211.2 104.2 211.9 106.5 212.7 109.3 213.4 111.1 214.2 113.7 214.9 114.8 215.7 117.1 216.4 118.8 217.2 120.2 217.9 121.0 218.7 121.8 219.4 121.9 220.2 119.9 220.9 116.7 221.7 114.6 222.4 114.0 223.2 114.5 223.9 113.9 224.7 114.1 225.4 114.4 226.2 115.1 226.9 114.2 227.7 113.4 228.4 111.2 229.2 110.5 229.9 109.8 230.7 112.9 231.4 115.1 232.2 118.2 232.9 119.5 233.7 122.2 234.4 123.1 235.2 125.2 235.9 125.9 236.7 126.7 237.4 126.7 238.2 126.4 238.9 125.9 239.7 124.9 240.4 123.6 241.2 122.2 241.9 121.1 242.7 120.0 243.4 118.9 244.2 117.8 244.9 118.3 245.7 118.9 246.4 118.2 247.2 117.5 247.9 116.1 248.7 114.8 249.4 113.7 250.2 113.7 250.9 114.9 251.7 116.3 252.4 118.5 253.2 120.6 253.9 121.9 254.7 122.3 255.4 122.5 256.2 123.6 256.9 124.5 257.7 125.5 258.4 125.8 259.2 125.4 259.9 124.6 260.7 122.2 261.4 121.5 262.2 120.6 262.9 120.6 263.7 119.2 264.4 117.9 265.2 116.8 265.9 116.6 266.7 119.0 267.4 119.6 268.2 121.2 268.9 120.1 269.7 121.3 270.4 121.9 271.2 123.2 271.9 123.9 272.7 123.8 273.4 123.9 274.2 124.4 274.9 126.1 275.7 125.7 276.4 125.9 277.2 124.7 277.9 125.9 278.7 126.2 279.4 125.8 280.2 125.5 280.9 125.2 281.7 125.5 282.4 125.5 283.2 125.8 283.9 126.8 284.7 125.6 285.4 125.5 286.2 124.9 286.9 126.3 287.7 126.9 288.4 127.4 289.2 127.3 289.9 127.0 290.7 128.0 291.4 128.5 292.2 129.8 292.9 129.3 293.7 129.4 294.4 129.1 295.2 129.5 295.9 130.2 296.7 131.0 297.4 131.5 298.2 132.2 298.9 132.5 299.7 134.4 300.4 135.7 301.2 136.8 301.9 137.8 302.7 138.5 303.4 139.5 304.2 139.5 304.9 140.2 305.7 140.3 306.4 140.4 307.2 140.2 307.9 140.2 308.7 140.6 309.4 141.1 310.2 142.0 310.9 143.4 311.7 144.9 312.4 146.4 313.2 147.3 313.9 147.3 314.7 149.5 315.4 149.6 316.2 149.5 316.9 147.8 317.7 147.5 318.4 147.9 319.2 147.8 319.9 148.1 320.7 148.7 321.4 149.4 322.2 149.4 322.9 149.1 323.7 149.1 324.4 149.7 325.2 149.8 325.9 148.5 326.7 147.8 327.4 148.1 328.2 148.8 328.9 149.7 329.7 149.8 330.4 150.1 331.2 149.6 331.9 149.7 332.7 149.8 333.4 149.4 334.2 149.3 334.9 149.2 335.7 150.0 336.4 150.0 337.2 149.6 337.9 149.1 338.7 148.3 339.4 148.5 340.2 149.1 340.9 150.3 341.7 150.6 342.4 152.1 343.2 152.8 343.9 154.0 344.7 154.2 345.4 155.3 346.2 156.5 346.9 156.7 347.7 157.3 348.4 156.5 349.2 156.9 349.9 156.7 350.7 158.0 351.4 157.6 352.2 157.9 352.9 157.0 353.7 157.7 354.4 157.2 355.2 157.8 355.9 157.5 356.7 157.9 357.4 158.3 358.2 158.5 358.9 158.5 359.7 158.5 360.4 158.5 361.2 158.2 361.9 158.7 362.7 159.6 363.4 160.9 364.2 160.7 364.9 159.6 365.7 159.0 366.4 159.9 367.2 161.2 367.9 161.6 368.7 161.3 369.4 161.8 370.2 161.9 370.9 162.4 371.7 162.4 372.4 162.6 373.2 162.5 373.9 162.8 374.7 162.1 375.4 162.3 376.2 162.2 376.9 163.3 377.7 163.1 378.4 163.1 379.2 163.2 379.9 163.9 380.7 164.0 381.4 163.7 382.2 162.9 382.9 163.1 383.7 163.2 384.4 164.0 385.2 163.9 385.9 164.2 386.7 163.4 387.4 163.8 388.2 164.3 388.9 164.1 389.7 164.4 390.4 164.2 391.2 165.7 391.9 165.3 392.7 165.7 393.4 165.2 394.2 166.2 394.9 166.4 395.7 167.0 396.4 166.8 397.2 166.8 397.9 166.6 398.7 167.0 399.4 167.0 400.2 167.5 400.9 167.5 401.7 167.7 402.4 167.6 403.2 167.5 403.9 167.6 404.7 167.4 405.4 167.7 406.2 168.0 406.9 168.2 407.7 168.6 408.4 169.2 409.2 169.7 409.9 169.8 410.7 169.9 411.4 169.8 412.2 170.2 412.9 169.9 413.7 169.7 414.4 169.3 415.2 169.3 415.9 169.3 416.7 169.7 417.4 169.2 418.2 169.7 418.9 169.8 419.7 170.9 420.4 171.2 421.2 170.7 421.9 170.2 422.7 169.7 423.4 169.8 424.2 169.7 424.9 169.9 425.7 169.9 426.4 170.5 427.2 170.9 427.9 170.9 428.7 171.0 429.4 170.5 430.2 170.6 430.9 170.1 431.7 168.9 432.4 169.1 433.2 169.8 433.9 171.4 434.7 171.4 435.4 170.2 436.2 169.5 436.9 169.4 437.7 169.8 438.4 170.4 439.2 170.9 439.9 172.5 440.7 172.6 441.4 172.5 442.2 171.3 442.9 171.7 443.7 172.4 444.4 173.4 445.2 172.9 445.9 172.1 446.7 171.9 447.4 172.5 448.2 173.1 448.9 172.5 449.7 172.8 450.4 173.0 451.2 173.4 451.9 173.7 452.7 173.3 453.4 173.8 454.2 173.5 454.9 173.8 455.7 174.1 456.4 174.5 457.2 174.3 457.9 173.8 458.7 173.3 459.4 173.4 460.2 173.6 460.9 173.3 461.7 173.4 462.4 174.3 463.2 174.5 463.9 174.6 464.7 173.5 465.4 173.2 466.2 173.5 466.9 174.2 467.7 175.3 468.4 175.2 469.2 175.1 469.9 175.2 470.7 175.6 471.4 175.9 472.2 176.4 472.9 176.2 473.7 175.7 474.4 175.8 475.2 176.2 475.9 176.7 476.7 176.1 477.4 175.8 478.2 176.0 478.9 175.7 479.7 175.6 480.4 175.0 481.2 175.3 481.9 175.9 482.7 176.1 483.4 176.4 484.2 174.9 484.9 175.2 485.7 175.4 486.4 177.3 487.2 177.6 487.9 177.1 488.7 176.8 489.4 176.4 490.2 176.3 490.9 176.4 491.7 176.5 492.4 177.0 493.2 176.5 493.9 177.2 494.7 176.7 495.4 176.7" fill="none" stroke="#f0a4f0" stroke-width="5.0" stroke-linejoin="round" stroke-linecap="round" opacity="0.4"/>
<path d="M42.0 254.8L42.8 254.8 43.5 254.6 44.2 254.0 45.0 253.5 45.8 253.4 46.5 253.4 47.2 253.2 48.0 253.3 48.8 254.2 49.5 254.3 50.2 254.2 51.0 253.6 51.8 253.7 52.5 253.3 53.2 252.8 54.0 252.2 54.8 252.2 55.5 252.2 56.2 252.1 57.0 251.9 57.8 251.3 58.5 251.3 59.2 251.7 60.0 252.1 60.8 252.8 61.5 253.3 62.2 254.2 63.0 255.1 63.8 256.5 64.5 257.8 65.2 258.6 66.0 259.4 66.8 260.2 67.5 260.9 68.2 261.8 69.0 262.3 69.8 262.6 70.5 262.7 71.2 262.9 72.0 263.7 72.8 263.9 73.5 264.7 74.2 265.5 75.0 267.0 75.8 267.9 76.5 268.4 77.2 268.8 78.0 268.9 78.8 269.0 79.5 269.6 80.2 270.6 81.0 271.0 81.8 271.0 82.5 270.2 83.2 268.6 84.0 266.3 M85.5 260.2L86.2 259.1 87.0 261.2 M89.2 270.7L90.0 272.3 90.8 272.5 91.5 272.0 92.2 271.9 93.0 272.2 93.8 272.8 94.5 272.9 95.2 273.1 96.0 273.2 96.8 273.5 97.5 273.8 98.2 273.5 99.0 273.0 99.8 272.4 100.5 271.9 101.2 271.6 102.0 272.0 102.8 272.0 103.5 273.3 104.2 273.7 105.0 274.8 105.8 274.6 106.5 274.6 107.2 274.9 108.0 275.2 108.8 275.7 109.5 276.0 110.2 276.0 111.0 276.4 111.8 276.6 112.5 277.4 113.2 277.2 114.0 276.7 114.8 276.4 115.5 276.5 116.2 276.7 117.0 276.4 117.8 276.2 118.5 275.8 119.2 275.1 120.0 274.4 120.8 273.1 121.5 272.1 122.2 270.6 123.0 269.7 123.8 268.4 124.5 267.4 125.2 266.2 126.0 265.5 126.8 264.9 127.5 264.0 128.2 263.3 129.0 262.2 129.8 261.4 130.5 260.3 131.2 259.7 132.0 258.3 132.8 257.1 133.5 256.1 134.2 255.2 135.0 254.2 135.8 252.6 136.5 251.5 137.2 250.2 138.0 249.1 138.8 248.9 139.5 248.3 140.2 248.5 141.0 248.1 141.8 248.4 142.5 247.5 143.2 247.0 144.0 246.0 144.8 245.5 145.5 245.2 146.2 244.6 147.0 243.8 147.8 242.6 148.5 241.9 149.2 240.9 150.0 239.5 150.8 237.4 151.5 235.0 M153.8 224.7L154.5 223.3 155.2 224.2 156.0 225.2 156.8 227.5 157.5 228.5 158.2 229.3 159.0 228.9 159.8 226.8 160.5 225.5 161.2 223.0 M165.8 199.0L166.5 198.5 167.2 200.3 168.0 202.8 168.8 204.7 169.5 206.9 170.2 208.0 171.0 209.3 171.8 210.1 172.5 211.5 173.2 212.9 174.0 213.5 174.8 211.6 M180.8 170.5L181.5 169.1 182.2 169.5 183.0 170.7 183.8 173.0 184.5 175.1 185.2 176.9 186.0 178.8 186.8 181.3 187.5 184.4 188.2 186.8 189.0 189.1 189.8 190.0 190.5 191.4 191.2 192.5 192.0 193.5 192.8 193.1 193.5 191.9 194.2 190.4 195.0 190.4 195.8 190.5 196.5 190.8 197.2 191.1 198.0 191.5 198.8 192.3 199.5 193.0 200.2 193.6 201.0 194.3 201.8 195.4 202.5 196.8 203.2 196.3 204.0 195.0 204.8 192.1 205.5 190.0 206.2 187.8 207.0 188.1 207.8 189.4 208.5 192.4 209.2 194.1 M211.5 203.5L212.2 206.3 213.0 208.9 213.8 211.5 214.5 212.8 215.2 212.6 216.0 211.9 216.8 210.5 217.5 208.4 218.2 207.9 219.0 207.8 219.8 208.4 220.5 207.5 221.2 207.5 222.0 207.4 222.8 207.4 223.5 206.9 224.2 206.8 225.0 207.1 225.8 206.5 226.5 205.8 227.2 206.6 228.0 208.7 228.8 211.2 229.5 213.7 230.2 215.7 231.0 218.7 231.8 220.6 232.5 221.8 233.2 222.2 234.0 221.7 234.8 221.8 235.5 220.5 236.2 219.5 237.0 218.1 237.8 217.5 238.5 216.7 239.2 216.4 240.0 215.9 240.8 216.6 241.5 216.4 242.2 217.2 243.0 216.7 243.8 216.9 244.5 216.9 245.2 217.5 246.0 217.9 246.8 217.9 247.5 218.4 248.2 219.3 249.0 220.1 249.8 220.8 250.5 221.6 251.2 222.7 252.0 222.9 252.8 222.8 253.5 222.2 254.2 221.9 255.0 220.8 255.8 220.5 256.5 219.6 257.2 219.3 258.0 218.7 258.8 218.6 259.5 218.3 260.2 218.1 261.0 218.0 261.8 218.0 262.5 218.4 263.2 219.4 264.0 220.2 264.8 220.5 265.5 220.1 266.2 221.0 267.0 222.2 267.8 223.7 268.5 223.7 269.2 224.2 270.0 224.5 270.8 225.4 271.5 225.0 272.2 224.2 273.0 223.7 273.8 224.0 274.5 224.5 275.2 224.1 276.0 223.4 276.8 222.8 277.5 222.5 278.2 222.3 279.0 222.0 279.8 222.2 280.5 222.6 281.2 223.6 282.0 224.5 282.8 226.5 283.5 227.4 284.2 228.5 285.0 228.5 285.8 229.0 286.5 229.2 287.2 228.7 288.0 228.5 288.8 228.1 289.5 228.5 290.2 228.3 291.0 228.5 291.8 228.3 292.5 228.9 293.2 229.5 294.0 230.0 294.8 231.0 295.5 231.7 296.2 232.9 297.0 233.3 297.8 233.7 298.5 234.4 299.2 235.2 300.0 236.4 300.8 236.5 301.5 236.7 302.2 236.9 303.0 237.4 303.8 237.6 304.5 237.3 305.2 238.0 306.0 238.2 306.8 238.5 307.5 238.9 308.2 239.3 309.0 240.1 309.8 240.5 310.5 240.3 311.2 240.4 312.0 240.6 312.8 241.9 313.5 242.7 314.2 243.2 315.0 242.9 315.8 242.9 316.5 243.1 317.2 243.7 318.0 244.1 318.8 243.7 319.5 243.7 320.2 243.6 321.0 244.3 321.8 244.2 322.5 244.0 323.2 243.9 324.0 244.5 324.8 244.9 325.5 244.5 326.2 243.8 327.0 243.4 327.8 244.1 328.5 244.6 329.2 244.5 330.0 245.0 330.8 244.8 331.5 245.1 332.2 244.7 333.0 244.7 333.8 244.8 334.5 245.1 335.2 245.1 336.0 245.4 336.8 245.6 337.5 246.5 338.2 246.6 339.0 247.1 339.8 247.3 340.5 247.5 341.2 247.7 342.0 248.4 342.8 248.3 343.5 248.3 344.2 248.4 345.0 249.7 345.8 250.3 346.5 250.2 347.2 249.9 348.0 249.8 348.8 249.8 349.5 250.1 350.2 250.4 351.0 251.0 351.8 251.2 352.5 251.3 353.2 251.4 354.0 252.5 354.8 252.4 355.5 252.7 356.2 251.3 357.0 252.1 357.8 252.0 358.5 252.6 359.2 252.3 360.0 252.6 360.8 252.8 361.5 253.5 362.2 253.7 363.0 253.8 363.8 253.6 364.5 253.5 365.2 254.5 366.0 254.7 366.8 255.0 367.5 254.1 368.2 254.5 369.0 254.7 369.8 254.9 370.5 255.1 371.2 255.6 372.0 255.9 372.8 256.1 373.5 255.4 374.2 255.3 375.0 254.8 375.8 255.3 376.5 256.0 377.2 256.8 378.0 257.0 378.8 257.2 379.5 256.7 380.2 256.8 381.0 257.2 381.8 257.8 382.5 257.8 383.2 257.0 384.0 257.3 384.8 257.7 385.5 258.2 386.2 257.8 387.0 257.6 387.8 257.9 388.5 258.1 389.2 258.9 390.0 259.1 390.8 259.4 391.5 258.8 392.2 258.8 393.0 258.8 393.8 259.2 394.5 259.3 395.2 259.7 396.0 259.7 396.8 259.8 397.5 259.5 398.2 259.1 399.0 259.1 399.8 259.8 400.5 260.4 401.2 261.4 402.0 261.5 402.8 261.7 403.5 261.4 404.2 260.7 405.0 260.6 405.8 260.1 406.5 260.3 407.2 260.3 408.0 260.7 408.8 260.4 409.5 260.5 410.2 260.7 411.0 261.7 411.8 261.9 412.5 261.8 413.2 261.2 414.0 261.3 414.8 261.6 415.5 262.5 416.2 262.5 417.0 262.0 417.8 261.7 418.5 261.8 419.2 261.9 420.0 261.7 420.8 261.4 421.5 262.1 422.2 262.3 423.0 263.0 423.8 263.1 424.5 262.9 425.2 262.6 426.0 261.8 426.8 262.1 427.5 262.2 428.2 262.2 429.0 262.2 429.8 261.8 430.5 261.5 431.2 261.6 432.0 261.9 432.8 262.8 433.5 262.6 434.2 262.5 435.0 262.3 435.8 262.2 436.5 262.9 437.2 263.2 438.0 263.7 438.8 263.6 439.5 263.5 440.2 263.0 441.0 263.1 441.8 263.7 442.5 263.6 443.2 262.9 444.0 262.3 444.8 262.8 445.5 263.7 446.2 263.9 447.0 264.3 447.8 264.3 448.5 264.3 449.2 263.7 450.0 262.8 450.8 262.8 451.5 263.0 452.2 263.8 453.0 264.4 453.8 264.5 454.5 263.8 455.2 263.2 456.0 263.1 456.8 263.7 457.5 263.2 458.2 263.5 459.0 263.8 459.8 264.4 460.5 264.6 461.2 264.6 462.0 264.8 462.8 264.6 463.5 264.7 464.2 264.8 465.0 265.5 465.8 265.1 466.5 265.4 467.2 264.7 468.0 264.8 468.8 264.9 469.5 265.5 470.2 265.6 471.0 265.1 471.8 265.0 472.5 264.7 473.2 265.2 474.0 265.3 474.8 265.8 475.5 265.0 476.2 265.2 477.0 265.4 477.8 266.6 478.5 266.4 479.2 266.5 480.0 266.2 480.8 266.2 481.5 266.7 482.2 267.0 483.0 267.2 483.8 267.0 484.5 266.7 485.2 266.6 486.0 266.7 486.8 267.0 487.5 266.6 488.2 266.3 489.0 266.3 489.8 266.5 490.5 267.3 491.2 267.5 492.0 267.3 492.8 266.8" fill="none" stroke="#b8e47c" stroke-width="3.8" stroke-linejoin="round" stroke-linecap="round" opacity="0.5"/>
<path d="M44.4 61.6L45.1 64.8 45.9 64.3 46.6 66.4 47.4 64.3 48.1 68.8 48.9 69.9 49.6 62.7 50.4 70.6 51.1 66.4 51.9 69.5 52.6 75.0 53.4 73.4 54.1 76.3 54.9 77.9 55.6 78.0 56.4 75.5 57.1 75.2 57.9 80.2 58.6 80.5 59.4 80.1 60.1 79.0 60.9 82.5 61.6 81.7 62.4 80.1 63.1 86.5 63.9 89.2 64.7 92.4 65.4 90.0 66.2 91.9 66.9 96.1 67.7 95.0 68.4 96.9 69.2 99.9 69.9 99.0 70.7 103.1 71.4 99.9 72.2 103.6 72.9 102.3 73.7 105.8 74.4 99.6 75.2 99.5 75.9 102.9 76.7 99.1 77.4 99.9 78.2 102.5 78.9 103.2 79.7 99.9 80.4 103.9 81.2 102.7 81.9 102.9 82.7 103.5 83.4 101.8 84.2 103.4 84.9 100.0 85.7 94.9 86.4 89.6 87.2 84.1 87.9 78.3 88.7 78.1 89.4 75.8 90.2 81.6 90.9 95.2 91.7 96.9 92.4 105.4 93.2 105.9 93.9 105.6 94.7 104.1 95.4 109.1 96.2 106.1 96.9 106.4 97.7 103.4 98.4 110.0 99.2 107.0 99.9 106.3 100.7 106.4 101.4 105.4 102.2 104.5 102.9 104.9 103.7 103.4 104.4 98.6 105.2 106.7 105.9 107.4 106.7 107.8 107.4 112.3 108.2 106.7 108.9 104.8 109.7 114.5 110.4 112.6 111.2 108.6 111.9 111.3 112.7 113.7 113.4 110.0 114.2 114.2 114.9 117.6 115.7 116.4 116.4 113.7 117.2 114.7 117.9 112.2 118.7 114.4 119.4 113.5 120.2 111.8 120.9 110.9 121.7 117.2 122.4 113.1 123.2 110.4 123.9 111.5 124.7 115.4 125.4 116.0 126.2 110.9 126.9 112.6 127.7 114.6 128.4 112.4 129.2 110.5 129.9 111.5 130.7 113.8 131.4 112.1 132.2 110.9 132.9 113.9 133.7 116.0 134.4 115.4 135.2 113.7 135.9 118.0 136.7 112.2 137.4 113.8 138.2 111.3 138.9 115.8 139.7 114.3 140.4 110.7 141.2 112.6 141.9 118.4 142.7 115.9 143.4 114.6 144.2 116.2 144.9 111.2 145.7 113.1 146.4 112.2 147.2 113.7 147.9 114.7 148.7 116.6 149.4 117.3 150.2 117.2 150.9 119.8 151.7 112.8 152.4 113.3 153.2 114.1 153.9 111.2 154.7 112.4 155.4 113.9 156.2 111.1 156.9 113.9 157.7 115.1 158.4 109.6 159.2 106.7 159.9 111.7 160.7 108.9 161.4 111.1 162.2 109.8 162.9 111.1 163.7 112.6 164.4 110.8 165.2 107.5 165.9 104.1 166.7 99.6 167.4 98.7 168.2 100.9 168.9 102.3 169.7 99.5 170.4 99.4 171.2 96.5 171.9 96.5 172.7 95.4 173.4 100.7 174.2 93.7 174.9 99.2 175.7 93.7 176.4 96.0 177.2 93.8 177.9 93.1 178.7 92.2 179.4 84.2 180.2 80.3 180.9 78.2 181.7 73.1 182.4 73.2 183.2 66.7 183.9 63.5 184.7 62.6 185.4 58.1 186.2 62.0 186.9 51.8 187.7 58.9 188.4 59.8 189.2 54.9 189.9 55.1 190.7 60.7 191.4 56.3 192.2 50.1 192.9 51.7 193.7 58.8 194.4 51.4 195.2 57.8 195.9 57.2 196.7 51.1 197.4 53.4 198.2 47.8 198.9 47.4 199.7 44.2 200.4 46.3 201.2 36.3 201.9 38.6 202.7 38.4 203.4 39.8 204.2 31.2 204.9 33.6 205.7 37.1 206.4 38.8 207.2 38.3 207.9 35.7 208.7 41.0 209.4 34.7 210.2 34.4 210.9 31.5 211.7 38.1 212.4 39.6 213.2 42.5 213.9 42.4 214.7 47.9 215.4 53.7 216.2 46.7 216.9 42.9 217.7 54.4 218.4 54.3 219.2 50.5 219.9 49.5 220.7 58.6 221.4 45.1 222.2 40.3 222.9 41.3 223.7 43.5 224.4 39.6 225.2 39.3 225.9 41.4 226.7 38.4 227.4 40.2 228.2 38.7 228.9 36.7 229.7 43.1 230.4 41.1 231.2 51.2 231.9 47.8 232.7 52.7 233.4 49.2 234.2 55.5 234.9 54.3 235.7 64.4 236.4 58.6 237.2 61.1 237.9 53.0 238.7 53.8 239.4 55.7 240.2 50.9 240.9 57.5 241.7 50.6 242.4 51.4 243.2 52.0 243.9 50.3 244.7 53.9 245.4 49.3 246.2 53.1 246.9 56.0 247.7 52.7 248.4 52.6 249.2 52.1 249.9 55.2 250.7 58.4 251.4 56.7 252.2 53.0 252.9 59.6 253.7 58.7 254.4 61.7 255.2 60.5 255.9 64.8 256.6 55.7 257.4 55.5 258.1 59.5 258.9 52.4 259.6 56.0 260.4 53.4 261.1 46.5 261.9 55.1 262.6 58.0 263.4 54.8 264.1 50.4 264.9 58.3 265.6 52.6 266.4 56.2 267.1 58.7 267.9 55.4 268.6 53.8 269.4 59.7 270.1 60.6 270.9 58.6 271.6 59.0 272.4 63.2 273.1 60.7 273.9 59.8 274.6 59.4 275.4 61.7 276.1 61.9 276.9 60.9 277.6 57.4 278.4 60.8 279.1 60.1 279.9 62.5 280.6 66.6 281.4 66.4 282.1 66.3 282.9 65.7 283.6 64.3 284.4 66.7 285.1 64.3 285.9 64.3 286.6 62.3 287.4 65.1 288.1 64.6 288.9 70.5 289.6 66.7 290.4 64.0 291.1 67.7 291.9 64.0 292.6 68.3 293.4 67.6 294.1 74.5 294.9 62.0 295.6 65.0 296.4 64.0 297.1 64.9 297.9 65.6 298.6 60.7 299.4 62.6 300.1 67.8 300.9 71.0 301.6 66.0 302.4 65.2 303.1 73.3 303.9 71.7 304.6 71.6 305.4 65.0 306.1 67.2 306.9 68.4 307.6 70.0 308.4 69.2 309.1 70.0 309.9 74.8 310.6 71.9 311.4 72.4 312.1 74.0 312.9 74.5 313.6 76.8 314.4 76.2 315.1 76.3 315.9 82.2 316.6 80.1 317.4 79.8 318.1 85.2 318.9 80.8 319.6 82.8 320.4 82.6 321.1 80.5 321.9 81.1 322.6 82.5 323.4 78.3 324.1 81.5 324.9 82.9 325.6 82.4 326.4 81.4 327.1 86.8 327.9 81.3 328.6 79.2 329.4 79.5 330.1 80.4 330.9 81.4 331.6 80.4 332.4 85.4 333.1 78.5 333.9 83.3 334.6 83.4 335.4 78.9 336.1 83.4 336.9 82.8 337.6 79.5 338.4 87.1 339.1 82.2 339.9 79.2 340.6 79.0 341.4 78.8 342.1 81.8 342.9 81.6 343.6 77.8 344.4 79.2 345.1 80.2 345.9 81.5 346.6 82.7 347.4 82.3 348.1 86.4 348.9 87.7 349.6 85.7 350.4 80.0 351.1 86.5 351.9 88.3 352.6 86.7 353.4 88.0 354.1 87.7 354.9 83.2 355.6 80.6 356.4 88.9 357.1 86.5 357.9 88.9 358.6 87.5 359.4 88.5 360.1 92.5 360.9 86.6 361.6 89.8 362.4 87.4 363.1 90.1 363.9 91.5 364.6 91.6 365.4 89.7 366.1 85.8 366.9 90.6 367.6 91.8 368.4 91.8 369.1 95.3 369.9 91.4 370.6 87.0 371.4 88.9 372.1 90.5 372.9 93.4 373.6 88.2 374.4 93.7 375.1 93.2 375.9 90.1 376.6 93.4 377.4 90.1 378.1 91.7 378.9 90.5 379.6 91.2 380.4 87.2 381.1 91.5 381.9 84.6 382.6 89.4 383.4 89.0 384.1 94.9 384.9 92.1 385.6 89.7 386.4 88.5 387.1 90.8 387.9 89.4 388.6 97.0 389.4 85.4 390.1 92.8 390.9 87.5 391.6 96.7 392.4 92.8 393.1 98.1 393.9 93.0 394.6 97.3 395.4 95.5 396.1 97.5 396.9 94.9 397.6 88.3 398.4 93.4 399.1 91.4 399.9 97.5 400.6 97.0 401.4 95.6 402.1 96.6 402.9 95.4 403.6 93.3 404.4 99.0 405.1 94.9 405.9 94.2 406.6 91.2 407.4 93.6 408.1 95.3 408.9 94.7 409.6 94.6 410.4 95.7 411.1 92.7 411.9 95.8 412.6 92.2 413.4 93.8 414.1 94.4 414.9 99.4 415.6 98.6 416.4 97.7 417.1 94.9 417.9 96.9 418.6 99.6 419.4 101.1 420.1 95.4 420.9 98.1 421.6 99.6 422.4 99.7 423.1 98.8 423.9 100.3 424.6 95.2 425.4 102.2 426.1 96.3 426.9 99.3 427.6 100.3 428.4 101.9 429.1 101.6 429.9 101.3 430.6 101.6 431.4 98.2 432.1 100.2 432.9 102.5 433.6 97.2 434.4 96.6 435.1 97.6 435.9 103.1 436.6 102.2 437.4 98.4 438.1 99.1 438.9 99.8 439.6 101.3 440.4 94.4 441.1 97.4 441.9 98.0 442.6 99.0 443.4 98.1 444.1 96.8 444.9 98.4 445.6 92.1 446.4 105.8 447.1 100.4 447.9 100.6 448.6 97.1 449.4 99.8 450.1 103.8 450.9 103.6 451.6 100.0 452.4 97.3 453.1 100.3 453.9 99.5 454.6 102.4 455.4 97.8 456.1 100.6 456.9 101.8 457.6 99.7 458.4 103.0 459.1 97.7 459.9 97.1 460.6 99.1 461.4 102.1 462.1 100.0 462.9 99.4 463.6 102.5 464.4 101.2 465.1 99.3 465.9 100.1 466.6 99.6 467.4 101.8 468.1 100.8 468.9 99.0 469.6 100.5 470.4 100.9 471.1 103.1 471.9 103.3 472.6 100.6 473.4 102.0 474.1 102.8 474.9 104.0 475.6 102.2 476.4 106.2 477.1 101.6 477.9 103.4 478.6 101.2 479.4 99.8 480.1 102.8 480.9 103.6 481.6 103.1 482.4 102.8 483.1 101.8 483.9 100.2 484.6 101.4 485.4 103.4 486.1 104.2 486.9 94.5 487.6 103.3 488.4 104.4 489.1 104.8 489.9 102.7 490.6 102.9 491.4 100.6 492.1 101.0 492.9 102.6 493.6 99.4 494.4 100.9 495.1 103.5 495.9 100.4 496.6 103.5" fill="none" stroke="#4444e0" stroke-width="0.6" stroke-linejoin="round" opacity="0.5"/>
<path d="M44.7 98.3L45.5 104.8 46.2 104.0 47.0 102.3 47.7 102.2 48.5 104.1 49.2 98.1 50.0 105.3 50.7 106.9 51.5 110.4 52.2 104.7 53.0 105.8 53.7 112.3 54.5 114.5 55.2 107.3 56.0 114.8 56.7 116.7 57.5 115.8 58.2 111.9 59.0 113.8 59.7 120.2 60.5 128.3 61.2 121.5 62.0 129.5 62.7 133.2 63.5 125.8 64.2 131.1 65.0 141.8 65.7 143.6 66.5 145.1 67.2 147.0 68.0 151.6 68.7 149.8 69.5 160.8 70.2 153.5 71.0 153.6 71.7 161.0 72.5 167.0 73.2 164.9 74.0 167.9 74.7 167.7 75.5 172.5 76.2 172.7 77.0 174.4 77.7 175.2 78.5 179.5 79.2 186.2 80.0 182.5 80.7 183.6 81.5 189.0 82.2 182.2 83.0 181.6 83.7 185.4 84.5 181.8 85.2 185.1 86.0 186.8 86.7 180.5 87.5 180.1 88.2 183.8 89.0 176.7 89.7 178.1 90.5 182.7 91.2 183.8 92.0 185.2 92.7 192.8 93.5 189.3 94.2 191.7 95.0 190.9 95.7 191.8 96.5 189.5 97.2 194.4 98.0 191.6 98.7 195.2 99.5 190.1 100.2 191.1 101.0 192.9 101.7 191.6 102.5 189.0 103.2 189.7 104.0 187.0 104.7 190.0 105.5 184.6 106.2 191.8 107.0 195.0 107.7 195.1 108.5 195.8 109.2 193.6 110.0 196.2 110.7 194.5 111.5 195.4 112.2 195.3 113.0 188.8 113.7 197.5 114.5 196.9 115.2 197.7 116.0 194.1 116.7 197.6 117.5 197.5 118.2 191.9 119.0 192.8 119.7 196.8 120.5 195.6 121.2 196.5 122.0 195.3 122.7 199.7 123.5 192.9 124.2 193.7 125.0 194.5 125.7 193.5 126.5 195.1 127.2 195.9 128.0 193.0 128.7 196.3 129.4 198.3 130.2 198.1 130.9 199.8 131.7 198.1 132.4 195.7 133.2 199.5 133.9 197.0 134.7 199.5 135.4 195.4 136.2 191.6 136.9 193.2 137.7 196.0 138.4 196.6 139.2 195.1 139.9 197.3 140.7 192.7 141.4 193.6 142.2 197.3 142.9 195.0 143.7 195.2 144.4 198.1 145.2 197.2 145.9 193.1 146.7 195.2 147.4 191.0 148.2 194.4 148.9 194.8 149.7 190.2 150.4 196.8 151.2 197.1 151.9 193.1 152.7 193.7 153.4 193.9 154.2 189.8 154.9 191.7 155.7 189.9 156.4 185.4 157.2 186.2 157.9 186.4 158.7 189.7 159.4 186.6 160.2 187.7 160.9 184.2 161.7 181.2 162.4 187.7 163.2 188.3 163.9 181.6 164.7 178.5 165.4 180.2 166.2 173.3 166.9 173.2 167.7 168.0 168.4 171.0 169.2 168.6 169.9 165.2 170.7 163.8 171.4 160.9 172.2 161.7 172.9 166.8 173.7 161.4 174.4 164.0 175.2 156.8 175.9 157.7 176.7 154.5 177.4 152.9 178.2 153.6 178.9 142.0 179.7 146.3 180.4 142.3 181.2 136.5 181.9 133.1 182.7 128.8 183.4 129.0 184.2 125.0 184.9 119.7 185.7 122.0 186.4 124.4 187.2 121.8 187.9 120.3 188.7 120.5 189.4 117.3 190.2 117.1 190.9 111.9 191.7 117.5 192.4 122.2 193.2 118.1 193.9 116.0 194.7 122.4 195.4 119.2 196.2 119.1 196.9 119.0 197.7 119.1 198.4 114.9 199.2 111.6 199.9 119.1 200.7 112.3 201.4 108.1 202.2 111.0 202.9 113.0 203.7 103.3 204.4 113.0 205.2 107.7 205.9 116.1 206.7 111.5 207.4 107.5 208.2 110.2 208.9 108.7 209.7 101.3 210.4 103.8 211.2 101.8 211.9 110.0 212.7 104.0 213.4 110.6 214.2 105.4 214.9 117.5 215.7 109.3 216.4 114.8 217.2 120.7 217.9 120.0 218.7 119.8 219.4 117.2 220.2 117.4 220.9 111.4 221.7 116.9 222.4 117.4 223.2 116.5 223.9 114.1 224.7 118.8 225.4 116.2 226.2 117.5 226.9 115.6 227.7 112.9 228.4 109.1 229.2 101.6 229.9 114.3 230.7 112.4 231.4 122.1 232.2 110.5 232.9 123.1 233.7 118.1 234.4 123.4 235.2 121.9 235.9 126.8 236.7 126.0 237.4 129.6 238.2 126.5 238.9 127.2 239.7 129.1 240.4 125.1 241.2 122.0 241.9 125.6 242.7 119.3 243.4 120.4 244.2 117.9 244.9 116.1 245.7 107.6 246.4 120.6 247.2 113.4 247.9 118.3 248.7 121.4 249.4 110.0 250.2 117.3 250.9 114.8 251.7 118.4 252.4 114.2 253.2 120.2 253.9 121.9 254.7 126.9 255.4 130.3 256.2 124.8 256.9 123.0 257.7 132.6 258.4 125.1 259.2 124.7 259.9 124.2 260.7 124.6 261.4 124.1 262.2 119.0 262.9 119.4 263.7 125.6 264.4 123.6 265.2 119.0 265.9 119.2 266.7 117.6 267.4 122.9 268.2 118.5 268.9 121.7 269.7 119.5 270.4 120.3 271.2 123.0 271.9 123.3 272.7 122.0 273.4 124.2 274.2 125.3 274.9 123.5 275.7 123.5 276.4 125.0 277.2 128.3 277.9 129.3 278.7 126.1 279.4 124.9 280.2 125.9 280.9 131.5 281.7 128.4 282.4 123.0 283.2 125.8 283.9 123.8 284.7 124.9 285.4 120.1 286.2 125.9 286.9 121.7 287.7 124.8 288.4 131.9 289.2 130.6 289.9 125.0 290.7 124.6 291.4 125.8 292.2 122.9 292.9 126.2 293.7 128.6 294.4 126.2 295.2 132.0 295.9 130.3 296.7 129.2 297.4 137.1 298.2 134.5 298.9 133.6 299.7 140.1 300.4 139.5 301.2 134.6 301.9 138.9 302.7 137.1 303.4 134.6 304.2 145.7 304.9 144.6 305.7 136.3 306.4 141.9 307.2 135.5 307.9 143.6 308.7 140.7 309.4 140.6 310.2 146.0 310.9 143.7 311.7 144.2 312.4 148.6 313.2 146.0 313.9 151.1 314.7 148.8 315.4 151.1 316.2 150.7 316.9 151.1 317.7 144.8 318.4 153.3 319.2 147.6 319.9 153.4 320.7 147.2 321.4 148.1 322.2 148.3 322.9 152.9 323.7 148.3 324.4 150.5 325.2 144.5 325.9 147.3 326.7 149.3 327.4 148.2 328.2 143.3 328.9 150.9 329.7 147.1 330.4 155.2 331.2 149.5 331.9 156.5 332.7 151.3 333.4 150.9 334.2 148.4 334.9 149.2 335.7 151.0 336.4 144.3 337.2 152.2 337.9 145.7 338.7 148.3 339.4 140.9 340.2 150.8 340.9 152.1 341.7 151.9 342.4 153.0 343.2 151.8 343.9 153.9 344.7 158.3 345.4 154.3 346.2 157.2 346.9 158.9 347.7 156.1 348.4 157.5 349.2 157.6 349.9 156.2 350.7 163.7 351.4 156.7 352.2 162.3 352.9 160.5 353.7 151.8 354.4 158.4 355.2 160.2 355.9 160.2 356.7 155.6 357.4 158.8 358.2 155.1 358.9 155.8 359.7 157.8 360.4 158.8 361.2 163.2 361.9 160.1 362.7 162.6 363.4 156.9 364.2 156.8 364.9 158.6 365.7 165.1 366.4 156.5 367.2 156.2 367.9 161.1 368.7 165.0 369.4 157.3 370.2 161.4 370.9 158.7 371.7 166.3 372.4 164.3 373.2 163.6 373.9 162.1 374.7 161.8 375.4 163.0 376.2 161.0 376.9 160.2 377.7 160.2 378.4 163.3 379.2 161.5 379.9 165.9 380.7 158.0 381.4 165.1 382.2 165.0 382.9 166.4 383.7 162.9 384.4 159.6 385.2 161.5 385.9 166.8 386.7 163.2 387.4 163.0 388.2 162.4 388.9 163.9 389.7 163.9 390.4 161.0 391.2 163.1 391.9 168.1 392.7 169.4 393.4 165.6 394.2 164.5 394.9 170.1 395.7 166.1 396.4 163.7 397.2 166.5 397.9 168.7 398.7 170.9 399.4 165.9 400.2 168.8 400.9 166.6 401.7 170.5 402.4 168.4 403.2 168.2 403.9 165.0 404.7 166.9 405.4 166.9 406.2 158.6 406.9 170.5 407.7 168.8 408.4 168.6 409.2 168.5 409.9 169.9 410.7 170.5 411.4 166.7 412.2 170.3 412.9 170.1 413.7 169.7 414.4 165.8 415.2 168.9 415.9 166.2 416.7 170.3 417.4 172.9 418.2 172.1 418.9 169.4 419.7 169.1 420.4 169.3 421.2 171.5 421.9 168.7 422.7 168.7 423.4 163.4 424.2 167.7 424.9 167.9 425.7 168.8 426.4 173.6 427.2 167.2 427.9 167.5 428.7 172.4 429.4 168.2 430.2 169.9 430.9 170.1 431.7 169.6 432.4 167.9 433.2 172.4 433.9 174.2 434.7 168.1 435.4 169.7 436.2 172.6 436.9 169.2 437.7 167.2 438.4 169.5 439.2 173.6 439.9 169.2 440.7 172.8 441.4 173.0 442.2 170.6 442.9 173.5 443.7 174.2 444.4 174.9 445.2 174.9 445.9 168.9 446.7 174.7 447.4 173.8 448.2 174.9 448.9 170.7 449.7 175.3 450.4 173.9 451.2 170.4 451.9 176.7 452.7 171.7 453.4 171.0 454.2 174.7 454.9 172.4 455.7 175.1 456.4 173.5 457.2 174.8 457.9 176.0 458.7 173.5 459.4 175.7 460.2 175.5 460.9 171.3 461.7 176.2 462.4 175.6 463.2 174.3 463.9 177.0 464.7 178.0 465.4 175.4 466.2 170.5 466.9 175.4 467.7 174.2 468.4 174.6 469.2 176.2 469.9 174.5 470.7 179.5 471.4 176.7 472.2 176.1 472.9 177.7 473.7 178.1 474.4 179.1 475.2 177.6 475.9 176.0 476.7 176.6 477.4 170.9 478.2 172.3 478.9 178.2 479.7 174.7 480.4 180.0 481.2 180.0 481.9 172.7 482.7 176.8 483.4 182.5 484.2 173.7 484.9 176.7 485.7 175.7 486.4 175.7 487.2 176.4 487.9 177.2 488.7 178.7 489.4 174.5 490.2 177.8 490.9 174.8 491.7 177.9 492.4 177.4 493.2 175.2 493.9 177.1 494.7 175.0 495.4 174.4" fill="none" stroke="#9a4ee8" stroke-width="0.6" stroke-linejoin="round" opacity="0.5"/>
<path d="M42.0 257.8L42.8 250.3 43.5 255.7 44.2 255.9 45.0 252.4 45.8 256.1 46.5 255.5 47.2 250.3 48.0 255.2 48.8 255.0 49.5 252.1 50.2 255.5 51.0 256.0 51.8 251.6 52.5 248.4 53.2 253.9 54.0 250.7 54.8 248.1 55.5 251.3 56.2 246.1 57.0 250.9 57.8 255.4 58.5 244.6 59.2 252.9 60.0 250.0 60.8 251.8 61.5 251.3 62.2 255.8 63.0 255.4 63.8 254.6 64.5 254.4 65.2 257.6 66.0 262.2 66.8 257.4 67.5 261.9 68.2 262.5 69.0 257.5 69.8 265.0 70.5 262.8 71.2 268.3 72.0 267.4 72.8 263.6 73.5 264.6 74.2 263.7 75.0 263.6 75.8 269.4 76.5 267.8 77.2 267.8 78.0 268.5 78.8 270.9 79.5 272.0 80.2 270.2 81.0 270.3 81.8 270.9 82.5 274.1 83.2 263.6 84.0 263.3 84.8 264.2 85.5 261.8 86.2 264.2 87.0 265.1 87.8 269.0 88.5 265.9 89.2 271.4 90.0 270.8 90.8 274.2 91.5 272.8 92.2 274.1 93.0 270.8 93.8 273.0 94.5 271.8 95.2 272.6 96.0 272.4 96.8 271.2 97.5 276.0 98.2 274.0 99.0 275.3 99.8 270.5 100.5 267.9 101.2 270.6 102.0 271.7 102.8 274.3 103.5 275.4 104.2 276.5 105.0 277.4 105.8 276.2 106.5 275.1 107.2 273.5 108.0 276.7 108.8 274.6 109.5 274.2 110.2 277.4 111.0 277.0 111.8 278.7 112.5 275.4 113.2 279.3 114.0 277.7 114.8 276.4 115.5 275.0 116.2 274.3 117.0 273.7 117.8 279.1 118.5 272.7 119.2 276.4 120.0 273.6 120.8 272.0 121.5 271.0 122.2 270.7 123.0 271.6 123.8 269.8 124.5 267.4 125.2 263.5 126.0 261.7 126.8 269.0 127.5 261.8 128.2 259.7 129.0 264.9 129.8 257.8 130.5 262.4 131.2 261.5 132.0 258.8 132.8 259.8 133.5 253.0 134.2 252.0 135.0 253.6 135.8 252.9 136.5 251.2 137.2 251.6 138.0 247.9 138.8 243.5 139.5 249.7 140.2 247.9 141.0 250.4 141.8 253.2 142.5 247.9 143.2 248.3 144.0 244.0 144.8 248.1 145.5 246.0 146.2 245.1 147.0 246.1 147.8 240.0 148.5 243.3 149.2 241.9 150.0 243.3 150.8 232.4 151.5 234.2 152.2 237.5 153.0 227.2 153.8 224.7 154.5 230.1 155.2 231.9 156.0 226.0 156.8 225.1 157.5 226.4 158.2 227.4 159.0 225.8 159.8 224.6 160.5 225.7 161.2 223.0 162.0 221.0 162.8 215.7 163.5 207.5 164.2 208.8 165.0 203.5 165.8 198.5 166.5 199.1 167.2 201.8 168.0 202.9 168.8 204.3 169.5 208.9 170.2 211.5 171.0 208.1 171.8 210.4 172.5 208.2 173.2 211.9 174.0 213.4 174.8 212.9 175.5 207.4 176.2 201.5 177.0 193.6 177.8 191.2 178.5 180.5 179.2 179.5 180.0 175.2 180.8 168.4 181.5 171.4 182.2 169.5 183.0 173.7 183.8 171.0 184.5 176.8 185.2 182.8 186.0 179.9 186.8 184.7 187.5 181.8 188.2 185.3 189.0 181.9 189.8 189.6 190.5 187.5 191.2 193.0 192.0 185.4 192.8 189.6 193.5 192.3 194.2 192.6 195.0 184.9 195.8 189.2 196.5 199.7 197.2 194.1 198.0 192.4 198.8 182.8 199.5 189.8 200.2 195.5 201.0 195.5 201.8 197.2 202.5 198.9 203.2 195.9 204.0 197.3 204.8 186.2 205.5 198.8 206.2 188.4 207.0 186.7 207.8 195.5 208.5 194.0 209.2 198.0 210.0 195.6 210.8 201.3 211.5 205.4 212.2 202.9 213.0 208.2 213.8 209.7 214.5 211.1 215.2 210.0 216.0 207.4 216.8 211.5 217.5 210.1 218.2 212.2 219.0 207.8 219.8 205.3 220.5 203.4 221.2 208.0 222.0 206.2 222.8 213.6 223.5 214.6 224.2 212.0 225.0 203.7 225.8 201.9 226.5 206.1 227.2 204.9 228.0 213.3 228.8 211.5 229.5 212.4 230.2 216.0 231.0 222.0 231.8 217.2 232.5 222.6 233.2 217.9 234.0 221.3 234.8 219.1 235.5 221.4 236.2 219.9 237.0 222.2 237.8 219.5 238.5 215.1 239.2 212.4 240.0 214.0 240.8 215.0 241.5 216.1 242.2 214.4 243.0 220.2 243.8 219.8 244.5 216.5 245.2 215.8 246.0 216.9 246.8 218.1 247.5 218.7 248.2 214.3 249.0 218.7 249.8 215.4 250.5 221.9 251.2 224.2 252.0 219.5 252.8 223.1 253.5 220.5 254.2 219.4 255.0 227.0 255.8 223.1 256.5 221.2 257.2 218.0 258.0 220.3 258.8 217.8 259.5 219.7 260.2 215.6 261.0 217.8 261.8 217.0 262.5 214.7 263.2 224.4 264.0 222.2 264.8 217.8 265.5 216.5 266.2 219.3 267.0 219.8 267.8 221.0 268.5 219.5 269.2 222.0 270.0 224.9 270.8 225.9 271.5 218.9 272.2 224.4 273.0 221.5 273.8 221.1 274.5 222.9 275.2 221.8 276.0 225.6 276.8 225.0 277.5 221.7 278.2 220.4 279.0 227.6 279.8 228.0 280.5 224.2 281.2 223.1 282.0 228.0 282.8 230.3 283.5 225.6 284.2 233.2 285.0 228.4 285.8 231.9 286.5 227.3 287.2 229.0 288.0 227.2 288.8 228.6 289.5 231.2 290.2 225.8 291.0 227.5 291.8 230.3 292.5 227.7 293.2 235.2 294.0 226.1 294.8 238.2 295.5 230.0 296.2 235.2 297.0 237.8 297.8 235.3 298.5 230.7 299.2 234.4 300.0 236.0 300.8 238.0 301.5 239.6 302.2 240.1 303.0 241.2 303.8 234.8 304.5 240.5 305.2 233.2 306.0 238.5 306.8 235.6 307.5 234.3 308.2 241.9 309.0 239.8 309.8 242.8 310.5 236.0 311.2 237.4 312.0 241.0 312.8 239.9 313.5 242.6 314.2 241.1 315.0 242.1 315.8 240.1 316.5 246.7 317.2 242.8 318.0 240.4 318.8 245.6 319.5 245.2 320.2 244.5 321.0 244.4 321.8 243.1 322.5 243.7 323.2 238.6 324.0 240.3 324.8 241.0 325.5 245.0 326.2 247.3 327.0 243.6 327.8 243.3 328.5 247.1 329.2 243.7 330.0 246.6 330.8 245.9 331.5 241.3 332.2 245.8 333.0 245.2 333.8 241.9 334.5 242.3 335.2 241.8 336.0 249.1 336.8 251.5 337.5 247.9 338.2 250.8 339.0 243.6 339.8 250.9 340.5 252.5 341.2 252.3 342.0 245.5 342.8 250.9 343.5 248.3 344.2 251.9 345.0 247.6 345.8 249.8 346.5 248.6 347.2 251.3 348.0 249.6 348.8 252.8 349.5 252.3 350.2 251.6 351.0 250.7 351.8 250.3 352.5 251.3 353.2 254.0 354.0 252.3 354.8 253.0 355.5 252.0 356.2 252.1 357.0 250.2 357.8 247.5 358.5 253.5 359.2 254.1 360.0 250.2 360.8 257.7 361.5 250.4 362.2 256.0 363.0 254.2 363.8 254.5 364.5 256.9 365.2 256.5 366.0 254.5 366.8 251.8 367.5 251.8 368.2 255.1 369.0 258.4 369.8 257.1 370.5 255.4 371.2 256.2 372.0 257.4 372.8 260.0 373.5 253.6 374.2 257.0 375.0 256.1 375.8 253.6 376.5 253.6 377.2 259.6 378.0 257.7 378.8 256.4 379.5 257.2 380.2 259.5 381.0 257.6 381.8 261.2 382.5 256.7 383.2 255.7 384.0 257.3 384.8 255.3 385.5 256.8 386.2 260.9 387.0 262.1 387.8 259.4 388.5 258.9 389.2 256.5 390.0 256.6 390.8 259.8 391.5 259.6 392.2 257.5 393.0 257.9 393.8 262.8 394.5 261.8 395.2 259.7 396.0 260.2 396.8 262.6 397.5 260.3 398.2 259.9 399.0 255.9 399.8 255.8 400.5 256.0 401.2 255.8 402.0 261.4 402.8 262.2 403.5 259.2 404.2 262.0 405.0 261.7 405.8 260.3 406.5 256.7 407.2 264.0 408.0 263.6 408.8 259.1 409.5 265.4 410.2 261.3 411.0 259.4 411.8 260.7 412.5 257.2 413.2 260.7 414.0 257.8 414.8 264.6 415.5 262.8 416.2 258.8 417.0 263.5 417.8 258.1 418.5 262.1 419.2 262.8 420.0 262.0 420.8 259.3 421.5 261.7 422.2 262.0 423.0 262.9 423.8 266.3 424.5 266.7 425.2 266.2 426.0 260.8 426.8 260.5 427.5 262.1 428.2 263.1 429.0 257.4 429.8 260.2 430.5 265.9 431.2 259.1 432.0 260.3 432.8 260.6 433.5 263.8 434.2 262.3 435.0 261.6 435.8 259.1 436.5 264.2 437.2 263.1 438.0 261.9 438.8 263.7 439.5 265.0 440.2 260.0 441.0 260.0 441.8 260.8 442.5 261.0 443.2 256.1 444.0 261.5 444.8 265.6 445.5 262.6 446.2 266.1 447.0 257.6 447.8 264.0 448.5 267.0 449.2 267.2 450.0 262.2 450.8 261.1 451.5 264.2 452.2 261.1 453.0 263.1 453.8 259.9 454.5 264.2 455.2 263.6 456.0 267.2 456.8 264.1 457.5 261.9 458.2 263.5 459.0 261.0 459.8 264.0 460.5 264.0 461.2 265.8 462.0 266.6 462.8 260.1 463.5 265.6 464.2 266.7 465.0 262.1 465.8 269.7 466.5 263.3 467.2 270.6 468.0 266.8 468.8 267.5 469.5 265.7 470.2 267.6 471.0 263.0 471.8 263.1 472.5 260.5 473.2 266.5 474.0 263.8 474.8 266.7 475.5 266.9 476.2 262.5 477.0 267.4 477.8 266.5 478.5 266.9 479.2 267.3 480.0 266.3 480.8 266.6 481.5 269.0 482.2 264.6 483.0 264.3 483.8 265.1 484.5 269.1 485.2 266.1 486.0 271.1 486.8 259.5 487.5 265.0 488.2 265.5 489.0 267.1 489.8 269.9 490.5 266.6 491.2 264.7 492.0 269.1 492.8 270.7" fill="none" stroke="#6ab812" stroke-width="0.6" stroke-linejoin="round" opacity="0.5"/>
<path d="M44.4 64.6L44.6 64.9 44.9 63.6 45.1 62.3 45.4 63.0 45.6 62.0 45.9 63.9 46.1 66.3 46.4 62.9 46.6 63.0 46.9 65.7 47.1 66.3 47.4 66.9 47.6 65.6 47.9 68.0 48.1 71.2 48.4 66.0 48.6 67.6 48.9 60.7 49.1 65.8 49.4 64.7 49.6 67.5 49.9 65.5 50.1 68.3 50.4 68.5 50.6 67.7 50.9 63.8 51.1 67.8 51.4 69.2 51.6 70.0 51.9 67.7 52.1 70.2 52.4 69.9 52.6 70.8 52.9 76.9 53.1 71.8 53.4 73.5 53.6 77.3 53.9 73.2 54.1 74.3 54.4 75.0 54.6 75.2 54.9 73.3 55.1 75.8 55.4 78.3 55.6 73.5 55.9 77.9 56.1 76.8 56.4 75.7 56.6 80.5 56.9 78.5 57.1 75.3 57.4 77.8 57.6 78.6 57.9 77.4 58.1 79.0 58.4 77.9 58.6 79.2 58.9 80.6 59.1 77.1 59.4 79.2 59.6 77.8 59.9 79.0 60.1 77.0 60.4 78.4 60.6 79.4 60.9 81.6 61.1 82.5 61.4 78.8 61.6 80.2 61.9 83.1 62.1 79.3 62.4 82.4 62.6 83.5 62.9 86.7 63.1 86.7 63.4 86.0 63.6 86.8 63.9 87.9 64.2 91.6 64.4 88.4 64.7 90.1 64.9 91.8 65.2 91.7 65.4 92.2 65.7 91.3 65.9 93.5 66.2 93.3 66.4 96.2 66.7 95.8 66.9 95.2 67.2 96.6 67.4 95.4 67.7 97.9 67.9 96.6 68.2 97.8 68.4 95.3 68.7 98.0 68.9 95.3 69.2 95.0 69.4 97.2 69.7 97.1 69.9 98.8 70.2 102.0 70.4 97.6 70.7 98.0 70.9 99.7 71.2 99.8 71.4 98.9 71.7 98.6 71.9 100.4 72.2 100.2 72.4 98.0 72.7 99.5 72.9 99.7 73.2 98.2 73.4 100.2 73.7 98.6 73.9 101.3 74.2 100.2 74.4 100.1 74.7 99.2 74.9 99.7 75.2 97.2 75.4 98.5 75.7 100.7 75.9 97.1 76.2 101.5 76.4 97.8 76.7 101.5 76.9 99.2 77.2 101.6 77.4 100.8 77.7 98.7 77.9 102.9 78.2 103.5 78.4 101.7 78.7 101.8 78.9 102.3 79.2 101.5 79.4 106.6 79.7 102.6 79.9 103.5 80.2 102.6 80.4 102.8 80.7 99.7 80.9 105.4 81.2 103.4 81.4 105.0 81.7 103.6 81.9 102.5 82.2 103.0 82.4 102.6 82.7 103.3 82.9 102.1 83.2 102.7 83.4 101.1 83.7 101.8 83.9 105.0 84.2 101.3 84.4 100.2 84.7 101.5 84.9 102.3 85.2 97.3 85.4 97.9 85.7 96.6 85.9 93.5 86.2 95.5 86.4 92.4 86.7 90.6 86.9 86.8 87.2 86.1 87.4 81.2 87.7 78.2 87.9 72.1 88.2 65.2 88.4 63.2 88.7 55.9 88.9 59.2 89.2 64.5 89.4 70.8 89.7 74.9 89.9 83.0 90.2 83.6 90.4 86.7 90.7 89.5 90.9 95.8 91.2 96.3 91.4 96.6 91.7 97.1 91.9 97.6 92.2 102.3 92.4 103.4 92.7 102.7 92.9 104.3 93.2 106.6 93.4 105.9 93.7 106.6 93.9 105.1 94.2 108.1 94.4 104.6 94.7 107.7 94.9 107.4 95.2 108.1 95.4 112.8 95.7 109.3 95.9 105.9 96.2 102.6 96.4 110.2 96.7 106.5 96.9 108.0 97.2 109.2 97.4 105.9 97.7 105.3 97.9 108.5 98.2 108.3 98.4 107.8 98.7 108.2 98.9 106.7 99.2 105.7 99.4 107.3 99.7 106.0 99.9 104.9 100.2 107.5 100.4 106.5 100.7 106.9 100.9 103.1 101.2 104.9 101.4 104.1 101.7 102.3 101.9 105.2 102.2 103.0 102.4 104.1 102.7 103.7 102.9 105.8 103.2 100.7 103.4 103.9 103.7 102.6 103.9 103.1 104.2 99.1 104.4 103.5 104.7 105.8 104.9 105.2 105.2 105.9 105.4 105.9 105.7 108.4 105.9 107.4 106.2 105.0 106.4 107.6 106.7 103.2 106.9 105.1 107.2 108.2 107.4 111.8 107.7 110.2 107.9 106.9 108.2 109.3 108.4 112.2 108.7 111.3 108.9 111.0 109.2 111.0 109.4 111.2 109.7 112.4 109.9 112.1 110.2 111.8 110.4 110.2 110.7 113.2 110.9 109.8 111.2 113.3 111.4 110.3 111.7 111.8 111.9 112.1 112.2 110.4 112.4 114.5 112.7 114.2 112.9 111.7 113.2 113.4 113.4 113.0 113.7 109.2 113.9 112.9 114.2 112.5 114.4 113.0 114.7 111.4 114.9 112.6 115.2 112.7 115.4 114.6 115.7 113.5 115.9 113.1 116.2 115.2 116.4 112.6 116.7 112.8 116.9 111.0 117.2 115.5 117.4 114.7 117.7 114.7 117.9 114.4 118.2 113.7 118.4 113.9 118.7 113.3 118.9 113.4 119.2 113.8 119.4 115.6 119.7 114.4 119.9 113.6 120.2 112.9 120.4 112.8 120.7 115.6 120.9 114.1 121.2 113.5 121.4 112.9 121.7 111.8 121.9 113.0 122.2 114.1 122.4 112.4 122.7 112.5 122.9 112.4 123.2 112.7 123.4 107.9 123.7 112.1 123.9 111.2 124.2 114.7 124.4 111.1 124.7 112.8 124.9 114.0 125.2 111.1 125.4 111.2 125.7 112.3 125.9 112.0 126.2 110.7 126.4 112.7 126.7 114.7 126.9 111.4 127.2 111.6 127.4 110.9 127.7 112.7 127.9 110.8 128.2 111.0 128.4 114.2 128.7 111.4 128.9 114.1 129.2 114.8 129.4 113.2 129.7 113.7 129.9 115.6 130.2 112.8 130.4 112.4 130.7 111.5 130.9 113.4 131.2 115.3 131.4 114.7 131.7 112.3 131.9 112.5 132.2 113.0 132.4 114.0 132.7 113.4 132.9 114.0 133.2 114.1 133.4 113.4 133.7 113.7 133.9 114.4 134.2 113.7 134.4 114.5 134.7 119.2 134.9 114.7 135.2 114.0 135.4 109.2 135.7 114.5 135.9 111.5 136.2 112.2 136.4 115.1 136.7 114.9 136.9 113.9 137.2 111.9 137.4 113.6 137.7 113.2 137.9 114.9 138.2 117.0 138.4 114.4 138.7 112.0 138.9 112.7 139.2 114.1 139.4 114.0 139.7 112.7 139.9 114.4 140.2 112.8 140.4 115.7 140.7 115.6 140.9 115.7 141.2 113.7 141.4 115.8 141.7 114.2 141.9 113.9 142.2 113.4 142.4 112.7 142.7 112.6 142.9 115.5 143.2 114.2 143.4 114.8 143.7 115.8 143.9 112.3 144.2 113.6 144.4 114.8 144.7 115.1 144.9 114.1 145.2 115.9 145.4 114.9 145.7 113.1 145.9 113.5 146.2 115.7 146.4 115.3 146.7 112.3 146.9 116.5 147.2 116.4 147.4 116.5 147.7 113.7 147.9 114.4 148.2 113.4 148.4 121.9 148.7 114.6 148.9 116.8 149.2 114.0 149.4 115.2 149.7 112.6 149.9 114.2 150.2 115.9 150.4 113.0 150.7 115.9 150.9 115.4 151.2 113.1 151.4 113.7 151.7 113.6 151.9 114.1 152.2 112.5 152.4 111.6 152.7 113.4 152.9 112.4 153.2 111.9 153.4 113.4 153.7 114.5 153.9 108.9 154.2 113.2 154.4 112.2 154.7 111.7 154.9 115.3 155.2 112.1 155.4 117.0 155.7 111.7 155.9 113.1 156.2 112.3 156.4 111.6 156.7 113.3 156.9 112.2 157.2 113.2 157.4 112.3 157.7 110.9 157.9 112.2 158.2 112.3 158.4 115.0 158.7 111.0 158.9 112.1 159.2 109.9 159.4 112.9 159.7 108.9 159.9 109.6 160.2 111.8 160.4 113.3 160.7 109.8 160.9 110.3 161.2 110.7 161.4 110.1 161.7 112.0 161.9 110.3 162.2 110.3 162.4 111.8 162.7 109.9 162.9 111.3 163.2 107.6 163.4 108.6 163.7 107.5 163.9 115.2 164.2 109.0 164.4 109.5 164.7 108.9 164.9 109.1 165.2 108.4 165.4 110.5 165.7 106.1 165.9 105.0 166.2 105.3 166.4 104.4 166.7 106.8 166.9 106.4 167.2 103.5 167.4 102.5 167.7 103.5 167.9 105.6 168.2 94.5 168.4 104.6 168.7 101.1 168.9 103.9 169.2 100.7 169.4 101.6 169.7 99.7 169.9 100.3 170.2 103.5 170.4 102.5 170.7 100.6 170.9 99.8 171.2 95.0 171.4 100.3 171.7 100.6 171.9 100.4 172.2 100.3 172.4 98.6 172.7 99.9 172.9 99.8 173.2 101.6 173.4 102.2 173.7 99.1 173.9 97.9 174.2 98.6 174.4 97.5 174.7 95.7 174.9 97.7 175.2 95.9 175.4 97.9 175.7 96.3 175.9 96.6 176.2 95.5 176.4 94.2 176.7 93.4 176.9 93.6 177.2 92.0 177.4 93.7 177.7 92.8 177.9 90.1 178.2 91.7 178.4 88.8 178.7 89.2 178.9 89.0 179.2 85.3 179.4 87.9 179.7 87.0 179.9 85.5 180.2 84.0 180.4 82.9 180.7 80.5 180.9 80.1 181.2 78.0 181.4 77.4 181.7 73.5 181.9 74.5 182.2 73.2 182.4 70.9 182.7 68.8 182.9 69.2 183.2 63.7 183.4 66.4 183.7 64.7 183.9 63.3 184.2 62.1 184.4 58.7 184.7 58.4 184.9 59.4 185.2 58.8 185.4 58.4 185.7 55.1 185.9 59.2 186.2 60.5 186.4 60.3 186.7 58.9 186.9 55.5 187.2 60.4 187.4 58.3 187.7 53.7 187.9 59.3 188.2 55.6 188.4 55.9 188.7 57.1 188.9 60.7 189.2 57.4 189.4 58.5 189.7 61.3 189.9 60.8 190.2 57.4 190.4 56.9 190.7 51.8 190.9 55.7 191.2 57.7 191.4 57.5 191.7 56.8 191.9 60.8 192.2 54.8 192.4 56.0 192.7 57.4 192.9 57.0 193.2 57.7 193.4 57.2 193.7 54.7 193.9 55.8 194.2 52.9 194.4 51.4 194.7 55.7 194.9 54.2 195.2 54.7 195.4 50.5 195.7 52.9 195.9 52.3 196.2 51.5 196.4 48.5 196.7 52.1 196.9 54.4 197.2 53.2 197.4 51.0 197.7 51.9 197.9 53.2 198.2 45.7 198.4 50.7 198.7 51.6 198.9 51.1 199.2 52.3 199.4 50.0 199.7 47.1 199.9 46.5 200.2 45.4 200.4 41.2 200.7 40.9 200.9 44.0 201.2 42.8 201.4 37.2 201.7 36.6 201.9 36.5 202.2 38.7 202.4 35.6 202.7 39.1 202.9 34.0 203.2 36.2 203.4 36.7 203.7 41.5 203.9 40.6 204.2 35.7 204.4 37.7 204.7 41.0 204.9 39.5 205.2 38.1 205.4 44.1 205.7 43.2 205.9 43.3 206.2 41.2 206.4 44.0 206.7 40.5 206.9 45.1 207.2 36.6 207.4 35.3 207.7 36.2 207.9 32.7 208.2 34.4 208.4 32.2 208.7 28.4 208.9 29.9 209.2 28.5 209.4 31.3 209.7 27.9 209.9 28.6 210.2 36.1 210.4 35.6 210.7 35.7 210.9 31.9 211.2 33.0 211.4 36.7 211.7 33.8 211.9 32.7 212.2 36.0 212.4 37.5 212.7 35.5 212.9 34.7 213.2 36.4 213.4 42.3 213.7 40.6 213.9 43.4 214.2 45.6 214.4 47.8 214.7 47.1 214.9 51.2 215.2 45.9 215.4 49.8 215.7 48.8 215.9 53.3 216.2 50.9 216.4 47.7 216.7 50.3 216.9 50.5 217.2 52.4 217.4 47.8 217.7 48.9 217.9 50.2 218.2 56.2 218.4 52.9 218.7 50.8 218.9 52.4 219.2 60.2 219.4 50.3 219.7 49.6 219.9 52.4 220.2 51.5 220.4 49.9 220.7 46.7 220.9 51.0 221.2 49.8 221.4 46.7 221.7 46.3 221.9 39.9 222.2 45.1 222.4 42.5 222.7 44.1 222.9 44.4 223.2 42.0 223.4 38.9 223.7 43.1 223.9 40.5 224.2 41.3 224.4 40.5 224.7 40.9 224.9 36.6 225.2 44.0 225.4 41.8 225.7 43.6 225.9 45.3 226.2 41.0 226.4 36.9 226.7 38.8 226.9 38.0 227.2 39.4 227.4 40.5 227.7 35.9 227.9 40.9 228.2 36.8 228.4 40.7 228.7 39.8 228.9 39.3 229.2 39.9 229.4 39.2 229.7 39.7 229.9 38.2 230.2 42.7 230.4 47.8 230.7 49.3 230.9 52.4 231.2 49.1 231.4 47.4 231.7 52.9 231.9 50.9 232.2 51.7 232.4 52.0 232.7 53.8 232.9 52.2 233.2 54.8 233.4 53.6 233.7 55.7 233.9 61.6 234.2 57.7 234.4 57.9 234.7 59.9 234.9 60.7 235.2 54.8 235.4 59.3 235.7 61.5 235.9 60.2 236.2 59.9 236.4 62.6 236.7 56.6 236.9 59.6 237.2 58.3 237.4 62.1 237.7 55.4 237.9 57.7 238.2 57.9 238.4 60.1 238.7 59.8 238.9 61.2 239.2 55.1 239.4 59.3 239.7 56.8 239.9 53.9 240.2 58.6 240.4 53.8 240.7 50.9 240.9 53.6 241.2 50.8 241.4 51.9 241.7 53.4 241.9 53.5 242.2 54.9 242.4 51.0 242.7 48.0 242.9 49.5 243.2 49.1 243.4 48.5 243.7 53.0 243.9 49.7 244.2 47.1 244.4 52.5 244.7 50.9 244.9 51.9 245.2 51.5 245.4 54.1 245.7 51.5 245.9 54.0 246.2 53.4 246.4 52.4 246.7 52.5 246.9 48.8 247.2 51.5 247.4 51.4 247.7 52.5 247.9 49.5 248.2 55.8 248.4 53.3 248.7 47.8 248.9 50.1 249.2 53.4 249.4 54.0 249.7 53.4 249.9 55.4 250.2 54.4 250.4 57.2 250.7 55.0 250.9 56.7 251.2 61.4 251.4 62.6 251.7 56.0 251.9 56.4 252.2 57.2 252.4 60.8 252.7 57.4 252.9 59.1 253.2 60.4 253.4 58.9 253.7 59.3 253.9 60.5 254.2 57.6 254.4 59.0 254.7 61.1 254.9 62.3 255.2 61.2 255.4 58.5 255.7 59.8 255.9 64.8 256.1 63.5 256.4 60.7 256.6 58.7 256.9 61.2 257.1 57.0 257.4 54.0 257.6 56.9 257.9 60.7 258.1 57.8 258.4 59.1 258.6 55.3 258.9 57.5 259.1 53.9 259.4 53.9 259.6 59.1 259.9 55.2 260.1 52.2 260.4 52.7 260.6 53.2 260.9 54.8 261.1 51.1 261.4 48.5 261.6 51.4 261.9 52.1 262.1 52.4 262.4 55.0 262.6 53.1 262.9 54.4 263.1 50.8 263.4 55.0 263.6 57.8 263.9 55.5 264.1 54.8 264.4 54.9 264.6 58.5 264.9 51.2 265.1 55.4 265.4 56.8 265.6 59.4 265.9 55.6 266.1 57.2 266.4 56.3 266.6 57.3 266.9 57.0 267.1 55.2 267.4 57.6 267.6 59.5 267.9 56.1 268.1 57.8 268.4 59.7 268.6 56.5 268.9 59.1 269.1 56.9 269.4 61.3 269.6 63.8 269.9 68.1 270.1 58.7 270.4 62.9 270.6 60.2 270.9 60.5 271.1 63.2 271.4 57.8 271.6 62.5 271.9 60.5 272.1 63.4 272.4 61.5 272.6 59.5 272.9 61.4 273.1 62.4 273.4 61.1 273.6 62.0 273.9 60.1 274.1 57.1 274.4 62.9 274.6 62.6 274.9 61.6 275.1 61.4 275.4 63.3 275.6 60.5 275.9 60.1 276.1 61.1 276.4 63.8 276.6 58.9 276.9 63.8 277.1 60.4 277.4 59.5 277.6 64.1 277.9 61.6 278.1 59.3 278.4 61.2 278.6 63.7 278.9 67.0 279.1 61.2 279.4 62.9 279.6 63.6 279.9 61.2 280.1 63.2 280.4 62.6 280.6 60.6 280.9 62.1 281.1 63.3 281.4 63.5 281.6 61.2 281.9 62.0 282.1 66.1 282.4 64.6 282.6 66.0 282.9 66.8 283.1 65.8 283.4 69.1 283.6 63.4 283.9 68.4 284.1 64.6 284.4 68.7 284.6 68.4 284.9 57.3 285.1 63.5 285.4 66.5 285.6 66.8 285.9 66.7 286.1 65.2 286.4 66.1 286.6 68.0 286.9 65.2 287.1 67.2 287.4 61.1 287.6 66.5 287.9 63.4 288.1 67.1 288.4 64.9 288.6 63.6 288.9 66.0 289.1 63.6 289.4 63.6 289.6 62.4 289.9 65.3 290.1 67.3 290.4 67.2 290.6 64.7 290.9 67.3 291.1 65.3 291.4 65.1 291.6 66.4 291.9 67.3 292.1 63.9 292.4 64.8 292.6 64.9 292.9 65.3 293.1 63.4 293.4 67.0 293.6 64.3 293.9 65.8 294.1 63.4 294.4 65.5 294.6 65.5 294.9 63.9 295.1 68.4 295.4 65.3 295.6 71.9 295.9 66.3 296.1 63.2 296.4 63.7 296.6 65.1 296.9 64.5 297.1 64.3 297.4 63.7 297.6 56.7 297.9 63.8 298.1 60.1 298.4 65.1 298.6 63.5 298.9 64.0 299.1 65.5 299.4 67.1 299.6 61.5 299.9 64.8 300.1 66.8 300.4 65.6 300.6 68.1 300.9 73.2 301.1 68.7 301.4 71.9 301.6 68.2 301.9 71.1 302.1 69.2 302.4 70.2 302.6 71.1 302.9 73.0 303.1 70.3 303.4 69.5 303.6 67.2 303.9 69.8 304.1 68.0 304.4 71.6 304.6 67.9 304.9 71.0 305.1 64.0 305.4 67.0 305.6 69.1 305.9 66.9 306.1 64.4 306.4 67.2 306.6 65.3 306.9 68.3 307.1 72.8 307.4 70.7 307.6 64.4 307.9 67.6 308.1 68.8 308.4 71.7 308.6 68.8 308.9 69.5 309.1 72.7 309.4 73.0 309.6 70.4 309.9 70.3 310.1 69.9 310.4 71.8 310.6 69.4 310.9 75.0 311.1 71.5 311.4 75.1 311.6 81.7 311.9 79.3 312.1 73.0 312.4 76.9 312.6 77.7 312.9 74.6 313.1 74.6 313.4 76.3 313.6 74.0 313.9 79.6 314.1 73.2 314.4 75.7 314.6 77.4 314.9 77.8 315.1 78.7 315.4 79.1 315.6 78.1 315.9 81.1 316.1 75.7 316.4 79.6 316.6 78.6 316.9 80.2 317.1 81.0 317.4 78.8 317.6 79.4 317.9 81.9 318.1 81.3 318.4 79.8 318.6 88.6 318.9 89.7 319.1 78.9 319.4 82.0 319.6 85.8 319.9 83.0 320.1 82.7 320.4 81.6 320.6 81.2 320.9 81.4 321.1 81.4 321.4 83.6 321.6 81.8 321.9 81.8 322.1 80.6 322.4 82.4 322.6 81.2 322.9 82.4 323.1 84.4 323.4 83.3 323.6 83.5 323.9 83.2 324.1 82.6 324.4 81.9 324.6 81.8 324.9 83.4 325.1 80.2 325.4 86.8 325.6 81.7 325.9 80.3 326.1 79.5 326.4 80.0 326.6 81.5 326.9 79.6 327.1 84.8 327.4 79.1 327.6 76.4 327.9 78.9 328.1 76.6 328.4 79.8 328.6 81.5 328.9 80.7 329.1 74.6 329.4 78.2 329.6 82.5 329.9 80.1 330.1 79.6 330.4 83.6 330.6 83.9 330.9 82.1 331.1 80.3 331.4 80.8 331.6 81.5 331.9 78.4 332.1 79.1 332.4 81.1 332.6 79.7 332.9 81.4 333.1 81.9 333.4 85.8 333.6 80.7 333.9 82.0 334.1 82.1 334.4 83.2 334.6 84.3 334.9 81.9 335.1 81.3 335.4 80.0 335.6 81.1 335.9 83.5 336.1 82.7 336.4 80.8 336.6 81.8 336.9 82.4 337.1 83.1 337.4 81.1 337.6 81.6 337.9 78.8 338.1 79.8 338.4 84.3 338.6 77.8 338.9 80.1 339.1 81.6 339.4 80.5 339.6 79.7 339.9 80.8 340.1 80.8 340.4 80.6 340.6 77.5 340.9 80.3 341.1 79.1 341.4 79.6 341.6 80.9 341.9 82.9 342.1 82.1 342.4 79.8 342.6 82.3 342.9 85.2 343.1 82.9 343.4 83.4 343.6 81.0 343.9 81.2 344.1 83.0 344.4 76.9 344.6 82.4 344.9 81.4 345.1 81.9 345.4 79.9 345.6 81.5 345.9 83.2 346.1 84.9 346.4 85.3 346.6 83.8 346.9 83.4 347.1 82.9 347.4 85.1 347.6 84.2 347.9 85.8 348.1 87.8 348.4 85.0 348.6 82.7 348.9 83.8 349.1 83.0 349.4 83.5 349.6 90.2 349.9 86.0 350.1 83.2 350.4 86.8 350.6 90.3 350.9 85.3 351.1 84.9 351.4 85.5 351.6 86.6 351.9 87.2 352.1 88.2 352.4 90.6 352.6 88.3 352.9 88.6 353.1 87.6 353.4 84.1 353.6 86.4 353.9 87.2 354.1 86.2 354.4 88.3 354.6 86.4 354.9 85.5 355.1 89.4 355.4 88.3 355.6 87.7 355.9 88.9 356.1 89.2 356.4 88.2 356.6 83.8 356.9 86.8 357.1 87.3 357.4 84.7 357.6 88.5 357.9 90.2 358.1 86.7 358.4 84.6 358.6 95.7 358.9 88.0 359.1 86.9 359.4 89.3 359.6 89.7 359.9 88.0 360.1 90.4 360.4 88.4 360.6 87.8 360.9 89.6 361.1 92.0 361.4 88.3 361.6 89.8 361.9 89.1 362.1 93.7 362.4 88.1 362.6 94.1 362.9 89.1 363.1 89.0 363.4 91.7 363.6 90.6 363.9 91.1 364.1 89.6 364.4 88.1 364.6 88.2 364.9 89.8 365.1 89.9 365.4 93.8 365.6 89.6 365.9 90.6 366.1 91.3 366.4 89.1 366.6 86.5 366.9 87.0 367.1 86.5 367.4 94.4 367.6 85.8 367.9 90.8 368.1 90.9 368.4 94.8 368.6 90.5 368.9 88.8 369.1 88.4 369.4 89.3 369.6 89.5 369.9 88.6 370.1 89.5 370.4 92.2 370.6 87.1 370.9 90.4 371.1 88.7 371.4 90.6 371.6 91.7 371.9 90.5 372.1 91.9 372.4 88.4 372.6 92.7 372.9 90.2 373.1 92.2 373.4 91.6 373.6 87.4 373.9 90.3 374.1 91.8 374.4 93.9 374.6 91.9 374.9 91.9 375.1 89.3 375.4 93.7 375.6 94.3 375.9 91.5 376.1 91.1 376.4 88.9 376.6 92.7 376.9 95.5 377.1 92.4 377.4 93.3 377.6 93.1 377.9 89.7 378.1 93.3 378.4 89.3 378.6 90.4 378.9 91.6 379.1 94.1 379.4 91.7 379.6 91.7 379.9 89.9 380.1 89.0 380.4 91.2 380.6 89.9 380.9 89.0 381.1 89.0 381.4 90.2 381.6 88.1 381.9 88.9 382.1 88.5 382.4 91.3 382.6 91.7 382.9 94.2 383.1 88.7 383.4 90.0 383.6 92.5 383.9 90.8 384.1 90.6 384.4 93.8 384.6 90.6 384.9 89.4 385.1 89.2 385.4 91.8 385.6 91.7 385.9 89.2 386.1 89.8 386.4 92.2 386.6 92.3 386.9 89.2 387.1 92.4 387.4 92.4 387.6 88.7 387.9 91.1 388.1 92.3 388.4 89.7 388.6 88.4 388.9 91.4 389.1 93.1 389.4 94.5 389.6 88.8 389.9 96.3 390.1 90.7 390.4 94.1 390.6 96.9 390.9 96.2 391.1 93.2 391.4 91.4 391.6 94.2 391.9 92.3 392.1 89.7 392.4 98.0 392.6 94.9 392.9 96.7 393.1 92.6 393.4 96.3 393.6 99.5 393.9 96.6 394.1 94.3 394.4 92.6 394.6 94.2 394.9 91.2 395.1 92.0 395.4 94.8 395.6 93.2 395.9 94.5 396.1 94.7 396.4 97.8 396.6 99.3 396.9 94.8 397.1 96.9 397.4 93.9 397.6 94.6 397.9 96.6 398.1 93.4 398.4 94.9 398.6 93.3 398.9 95.5 399.1 97.8 399.4 94.3 399.6 95.8 399.9 94.1 400.1 93.7 400.4 93.6 400.6 97.7 400.9 99.1 401.1 96.2 401.4 94.4 401.6 96.5 401.9 94.4 402.1 98.1 402.4 95.8 402.6 95.8 402.9 96.2 403.1 94.4 403.4 94.6 403.6 92.6 403.9 94.5 404.1 93.0 404.4 94.9 404.6 93.6 404.9 95.2 405.1 95.6 405.4 92.8 405.6 92.2 405.9 93.4 406.1 96.0 406.4 97.4 406.6 96.1 406.9 94.3 407.1 97.0 407.4 92.5 407.6 97.1 407.9 93.9 408.1 90.7 408.4 98.9 408.6 100.2 408.9 93.5 409.1 95.4 409.4 94.8 409.6 95.4 409.9 93.1 410.1 94.4 410.4 96.2 410.6 95.9 410.9 99.6 411.1 95.9 411.4 99.4 411.6 94.9 411.9 96.4 412.1 93.3 412.4 92.1 412.6 98.3 412.9 93.3 413.1 97.3 413.4 96.5 413.6 95.1 413.9 96.2 414.1 96.0 414.4 96.1 414.6 98.0 414.9 99.1 415.1 96.2 415.4 95.7 415.6 97.6 415.9 97.0 416.1 100.6 416.4 101.2 416.6 98.6 416.9 97.3 417.1 97.2 417.4 96.2 417.6 96.2 417.9 96.1 418.1 97.0 418.4 97.0 418.6 100.1 418.9 97.1 419.1 97.5 419.4 96.0 419.6 100.3 419.9 98.7 420.1 100.6 420.4 99.2 420.6 100.2 420.9 97.7 421.1 100.4 421.4 102.1 421.6 96.4 421.9 99.9 422.1 100.7 422.4 98.9 422.6 99.4 422.9 100.2 423.1 97.4 423.4 99.0 423.6 97.1 423.9 97.5 424.1 97.6 424.4 98.3 424.6 99.0 424.9 99.3 425.1 96.5 425.4 101.6 425.6 100.4 425.9 99.8 426.1 98.2 426.4 98.6 426.6 99.6 426.9 99.4 427.1 96.3 427.4 100.0 427.6 103.3 427.9 96.1 428.1 100.4 428.4 99.5 428.6 98.8 428.9 101.1 429.1 97.3 429.4 99.3 429.6 101.3 429.9 98.8 430.1 97.8 430.4 99.5 430.6 98.5 430.9 101.5 431.1 97.9 431.4 100.6 431.6 97.4 431.9 100.3 432.1 99.0 432.4 90.8 432.6 99.3 432.9 97.7 433.1 98.7 433.4 101.7 433.6 97.7 433.9 97.8 434.1 101.6 434.4 99.6 434.6 104.5 434.9 99.9 435.1 98.1 435.4 99.3 435.6 103.4 435.9 100.8 436.1 99.3 436.4 99.4 436.6 99.1 436.9 97.3 437.1 102.1 437.4 99.2 437.6 95.4 437.9 97.5 438.1 100.1 438.4 100.0 438.6 98.8 438.9 97.9 439.1 99.0 439.4 96.3 439.6 96.8 439.9 99.9 440.1 98.0 440.4 99.2 440.6 100.4 440.9 99.6 441.1 98.6 441.4 101.7 441.6 99.5 441.9 97.9 442.1 99.5 442.4 99.0 442.6 97.1 442.9 98.5 443.1 98.2 443.4 95.4 443.6 98.2 443.9 98.0 444.1 97.8 444.4 96.0 444.6 97.4 444.9 98.5 445.1 98.8 445.4 97.0 445.6 99.7 445.9 94.8 446.1 98.5 446.4 100.9 446.6 98.0 446.9 98.3 447.1 100.8 447.4 97.9 447.6 98.8 447.9 99.7 448.1 101.0 448.4 96.2 448.6 98.3 448.9 98.1 449.1 98.1 449.4 96.9 449.6 97.0 449.9 100.3 450.1 98.6 450.4 100.1 450.6 100.6 450.9 98.9 451.1 100.2 451.4 102.5 451.6 100.5 451.9 99.1 452.1 100.0 452.4 97.1 452.6 100.5 452.9 101.4 453.1 99.0 453.4 99.9 453.6 103.8 453.9 99.5 454.1 100.5 454.4 96.9 454.6 99.0 454.9 99.5 455.1 107.2 455.4 99.7 455.6 99.5 455.9 99.5 456.1 100.1 456.4 102.4 456.6 100.6 456.9 103.3 457.1 100.7 457.4 105.0 457.6 100.8 457.9 101.3 458.1 98.3 458.4 100.2 458.6 100.3 458.9 100.1 459.1 97.4 459.4 101.8 459.6 99.9 459.9 99.9 460.1 100.2 460.4 99.8 460.6 101.2 460.9 98.8 461.1 99.3 461.4 101.6 461.6 100.9 461.9 99.5 462.1 99.9 462.4 99.6 462.6 100.7 462.9 102.5 463.1 99.4 463.4 105.7 463.6 102.2 463.9 100.4 464.1 102.2 464.4 99.0 464.6 98.7 464.9 99.3 465.1 100.7 465.4 100.8 465.6 99.7 465.9 101.5 466.1 98.4 466.4 102.2 466.6 97.1 466.9 100.6 467.1 100.3 467.4 100.0 467.6 97.4 467.9 100.3 468.1 101.8 468.4 102.7 468.6 102.6 468.9 100.4 469.1 100.8 469.4 100.6 469.6 102.6 469.9 99.1 470.1 103.7 470.4 101.3 470.6 99.5 470.9 102.5 471.1 103.5 471.4 102.5 471.6 103.5 471.9 102.2 472.1 103.8 472.4 103.8 472.6 101.9 472.9 104.1 473.1 102.2 473.4 102.1 473.6 100.7 473.9 101.6 474.1 103.1 474.4 100.1 474.6 102.9 474.9 103.1 475.1 102.4 475.4 98.9 475.6 101.9 475.9 102.9 476.1 100.9 476.4 102.1 476.6 98.6 476.9 103.0 477.1 101.1 477.4 103.2 477.6 99.4 477.9 104.2 478.1 101.7 478.4 104.5 478.6 100.7 478.9 101.1 479.1 105.2 479.4 100.8 479.6 99.8 479.9 101.6 480.1 100.5 480.4 103.7 480.6 107.4 480.9 101.0 481.1 99.5 481.4 105.7 481.6 103.6 481.9 103.2 482.1 103.7 482.4 100.8 482.6 101.8 482.9 100.0 483.1 100.0 483.4 103.4 483.6 101.0 483.9 105.3 484.1 102.1 484.4 101.1 484.6 103.1 484.9 104.6 485.1 102.7 485.4 100.3 485.6 102.5 485.9 104.0 486.1 101.3 486.4 100.9 486.6 103.5 486.9 102.2 487.1 100.4 487.4 101.5 487.6 100.9 487.9 102.4 488.1 102.2 488.4 103.6 488.6 103.0 488.9 97.1 489.1 102.6 489.4 103.3 489.6 102.7 489.9 103.5 490.1 101.3 490.4 100.7 490.6 103.4 490.9 100.6 491.1 99.1 491.4 103.6 491.6 101.2 491.9 101.8 492.1 100.3 492.4 100.4 492.6 100.7 492.9 101.9 493.1 103.6 493.4 99.3 493.6 103.6 493.9 98.9 494.1 101.2 494.4 103.7 494.6 102.7 494.9 100.7 495.1 108.7 495.4 101.8 495.6 103.4 495.9 103.4 496.1 107.6 496.4 102.6 496.6 106.4 496.9 102.3" fill="none" stroke="#4444e0" stroke-width="0.8" stroke-linejoin="round" opacity="0.88"/>
<path d="M44.7 104.3L45.0 104.0 45.2 104.1 45.5 103.5 45.7 101.6 46.0 102.8 46.2 101.5 46.5 105.8 46.7 99.2 47.0 103.4 47.2 115.2 47.5 103.4 47.7 101.8 48.0 104.3 48.2 110.6 48.5 103.9 48.7 106.1 49.0 105.2 49.2 103.4 49.5 120.0 49.7 105.6 50.0 104.4 50.2 103.4 50.5 107.7 50.7 106.9 51.0 109.8 51.2 107.1 51.5 99.9 51.7 107.9 52.0 106.3 52.2 106.6 52.5 104.3 52.7 106.4 53.0 106.3 53.2 107.9 53.5 105.2 53.7 108.6 54.0 109.0 54.2 106.7 54.5 108.0 54.7 107.8 55.0 111.8 55.2 105.0 55.5 109.8 55.7 107.5 56.0 110.4 56.2 113.4 56.5 110.7 56.7 112.7 57.0 111.0 57.2 117.1 57.5 115.4 57.7 119.0 58.0 111.7 58.2 112.6 58.5 120.1 58.7 115.4 59.0 115.7 59.2 117.4 59.5 114.8 59.7 119.4 60.0 118.4 60.2 121.1 60.5 118.2 60.7 121.2 61.0 119.5 61.2 123.5 61.5 124.6 61.7 125.0 62.0 125.0 62.2 126.1 62.5 120.6 62.7 128.3 63.0 127.1 63.2 128.8 63.5 128.4 63.7 128.0 64.0 130.6 64.2 134.0 64.5 136.6 64.7 134.2 65.0 135.0 65.2 140.5 65.5 137.7 65.7 144.1 66.0 141.7 66.2 141.1 66.5 145.3 66.7 150.9 67.0 142.9 67.2 148.8 67.5 146.5 67.7 150.3 68.0 147.9 68.2 146.6 68.5 150.9 68.7 152.4 69.0 159.2 69.2 155.3 69.5 155.7 69.7 153.7 70.0 154.1 70.2 155.3 70.5 155.3 70.7 156.6 71.0 154.4 71.2 159.6 71.5 160.1 71.7 165.0 72.0 163.1 72.2 162.0 72.5 165.5 72.7 162.5 73.0 164.3 73.2 163.2 73.5 168.9 73.7 168.5 74.0 166.6 74.2 169.1 74.5 171.3 74.7 171.4 75.0 172.0 75.2 170.9 75.5 172.0 75.7 173.7 76.0 175.5 76.2 173.6 76.5 173.8 76.7 177.6 77.0 175.2 77.2 180.4 77.5 178.0 77.7 180.9 78.0 181.1 78.2 180.1 78.5 180.7 78.7 178.9 79.0 179.6 79.2 181.8 79.5 183.4 79.7 183.5 80.0 188.8 80.2 182.7 80.5 182.9 80.7 184.3 81.0 183.3 81.2 183.4 81.5 180.7 81.7 185.4 82.0 181.2 82.2 185.1 82.5 182.8 82.7 186.2 83.0 183.5 83.2 186.1 83.5 180.4 83.7 183.8 84.0 186.7 84.2 182.9 84.5 185.5 84.7 184.7 85.0 182.4 85.2 185.8 85.5 186.7 85.7 184.0 86.0 186.2 86.2 184.5 86.5 184.1 86.7 185.0 87.0 183.3 87.2 186.3 87.5 180.2 87.7 182.3 88.0 181.8 88.2 176.6 88.5 175.8 88.7 177.9 89.0 175.6 89.2 177.2 89.5 178.0 89.7 177.0 90.0 177.5 90.2 177.0 90.5 182.5 90.7 182.2 91.0 185.2 91.2 186.3 91.5 185.5 91.7 190.4 92.0 190.3 92.2 190.4 92.5 186.4 92.7 189.5 93.0 189.7 93.2 190.1 93.5 189.5 93.7 191.8 94.0 191.8 94.2 192.2 94.5 191.3 94.7 193.7 95.0 192.5 95.2 189.1 95.5 191.8 95.7 192.6 96.0 194.0 96.2 192.5 96.5 192.6 96.7 192.2 97.0 193.8 97.2 192.4 97.5 192.2 97.7 190.9 98.0 194.4 98.2 192.1 98.5 190.7 98.7 193.4 99.0 191.7 99.2 192.9 99.5 192.8 99.7 193.7 100.0 194.9 100.2 191.2 100.5 191.6 100.7 190.0 101.0 196.1 101.2 191.9 101.5 192.9 101.7 190.5 102.0 188.1 102.2 192.3 102.5 190.2 102.7 190.0 103.0 189.6 103.2 191.2 103.5 189.9 103.7 184.6 104.0 192.1 104.2 187.6 104.5 188.6 104.7 191.7 105.0 191.0 105.2 189.8 105.5 188.3 105.7 191.3 106.0 192.3 106.2 191.9 106.5 189.0 106.7 191.8 107.0 191.4 107.2 193.4 107.5 194.3 107.7 194.7 108.0 192.7 108.2 194.4 108.5 194.5 108.7 193.4 109.0 194.0 109.2 196.9 109.5 194.6 109.7 195.6 110.0 194.1 110.2 194.8 110.5 192.8 110.7 194.9 111.0 196.5 111.2 197.7 111.5 196.7 111.7 197.1 112.0 195.5 112.2 194.7 112.5 195.4 112.7 196.4 113.0 194.7 113.2 198.2 113.5 194.6 113.7 193.7 114.0 194.7 114.2 193.9 114.5 194.3 114.7 199.0 115.0 195.8 115.2 196.3 115.5 197.4 115.7 197.6 116.0 195.5 116.2 197.7 116.5 196.6 116.7 196.1 117.0 196.7 117.2 194.4 117.5 194.1 117.7 196.0 118.0 196.9 118.2 195.8 118.5 196.1 118.7 197.4 119.0 200.0 119.2 198.3 119.5 197.8 119.7 195.2 120.0 195.9 120.2 196.7 120.5 195.9 120.7 195.7 121.0 198.3 121.2 196.1 121.5 195.2 121.7 196.9 122.0 198.6 122.2 196.5 122.5 197.8 122.7 195.9 123.0 195.8 123.2 195.6 123.5 196.2 123.7 198.6 124.0 195.0 124.2 198.4 124.5 195.2 124.7 196.1 125.0 198.6 125.2 197.2 125.5 196.7 125.7 194.4 126.0 196.8 126.2 193.7 126.5 199.5 126.7 196.1 127.0 196.6 127.2 194.9 127.5 195.7 127.7 194.7 128.0 197.5 128.2 195.9 128.4 196.9 128.7 195.4 128.9 195.6 129.2 197.7 129.4 195.0 129.7 191.3 129.9 196.6 130.2 194.7 130.4 194.9 130.7 197.1 130.9 195.0 131.2 197.0 131.4 194.1 131.7 199.9 131.9 197.5 132.2 195.3 132.4 195.6 132.7 194.8 132.9 196.0 133.2 197.1 133.4 191.9 133.7 196.8 133.9 194.1 134.2 194.6 134.4 193.5 134.7 201.2 134.9 195.8 135.2 196.2 135.4 194.8 135.7 196.8 135.9 193.0 136.2 195.6 136.4 198.2 136.7 195.0 136.9 195.5 137.2 196.3 137.4 194.5 137.7 195.5 137.9 196.6 138.2 195.9 138.4 195.9 138.7 195.0 138.9 195.8 139.2 195.5 139.4 197.1 139.7 196.2 139.9 195.1 140.2 192.4 140.4 197.2 140.7 196.2 140.9 194.2 141.2 192.9 141.4 193.9 141.7 196.4 141.9 194.0 142.2 194.7 142.4 195.5 142.7 196.7 142.9 195.2 143.2 195.0 143.4 194.5 143.7 197.1 143.9 196.4 144.2 194.8 144.4 193.4 144.7 192.9 144.9 195.7 145.2 194.1 145.4 196.0 145.7 195.9 145.9 195.2 146.2 195.6 146.4 195.3 146.7 193.6 146.9 194.2 147.2 197.4 147.4 193.0 147.7 193.8 147.9 195.6 148.2 194.0 148.4 191.9 148.7 192.4 148.9 194.6 149.2 195.1 149.4 197.5 149.7 193.7 149.9 194.8 150.2 190.6 150.4 193.5 150.7 192.3 150.9 193.5 151.2 193.8 151.4 194.1 151.7 191.4 151.9 194.0 152.2 191.7 152.4 190.8 152.7 191.7 152.9 189.9 153.2 191.5 153.4 191.6 153.7 190.8 153.9 191.5 154.2 189.8 154.4 190.4 154.7 188.4 154.9 190.1 155.2 187.5 155.4 189.1 155.7 189.4 155.9 189.6 156.2 187.0 156.4 187.0 156.7 188.4 156.9 190.0 157.2 188.9 157.4 189.4 157.7 189.8 157.9 188.5 158.2 187.7 158.4 186.2 158.7 184.6 158.9 186.4 159.2 187.2 159.4 186.8 159.7 186.3 159.9 185.8 160.2 186.6 160.4 185.7 160.7 185.6 160.9 185.3 161.2 183.8 161.4 182.9 161.7 185.3 161.9 184.1 162.2 182.9 162.4 181.6 162.7 189.2 162.9 179.8 163.2 181.0 163.4 181.6 163.7 179.3 163.9 180.5 164.2 182.3 164.4 180.7 164.7 179.7 164.9 179.2 165.2 177.9 165.4 178.6 165.7 176.5 165.9 175.5 166.2 175.7 166.4 176.2 166.7 174.6 166.9 174.4 167.2 169.8 167.4 173.7 167.7 174.6 167.9 172.4 168.2 169.3 168.4 167.9 168.7 169.0 168.9 164.9 169.2 168.7 169.4 166.5 169.7 168.4 169.9 168.6 170.2 163.2 170.4 166.4 170.7 164.7 170.9 160.8 171.2 164.3 171.4 164.6 171.7 166.2 171.9 162.1 172.2 165.7 172.4 166.9 172.7 164.4 172.9 163.9 173.2 162.7 173.4 160.4 173.7 162.6 173.9 161.9 174.2 162.0 174.4 164.4 174.7 161.0 174.9 160.0 175.2 161.2 175.4 156.1 175.7 155.8 175.9 156.5 176.2 155.5 176.4 157.1 176.7 154.9 176.9 157.7 177.2 159.7 177.4 154.9 177.7 152.3 177.9 153.2 178.2 152.6 178.4 148.4 178.7 149.6 178.9 148.9 179.2 146.7 179.4 147.6 179.7 145.7 179.9 140.8 180.2 141.2 180.4 138.2 180.7 139.5 180.9 135.6 181.2 137.6 181.4 135.4 181.7 135.2 181.9 132.0 182.2 128.3 182.4 133.0 182.7 128.0 182.9 129.6 183.2 126.6 183.4 125.9 183.7 127.3 183.9 123.8 184.2 125.4 184.4 119.4 184.7 123.7 184.9 121.3 185.2 121.3 185.4 121.3 185.7 121.8 185.9 124.3 186.2 117.3 186.4 120.9 186.7 117.6 186.9 123.0 187.2 119.8 187.4 121.4 187.7 119.7 187.9 121.7 188.2 122.4 188.4 119.5 188.7 120.4 188.9 117.4 189.2 120.8 189.4 121.8 189.7 119.0 189.9 122.2 190.2 110.9 190.4 116.2 190.7 113.8 190.9 118.8 191.2 119.8 191.4 119.5 191.7 119.5 191.9 121.0 192.2 118.6 192.4 117.0 192.7 116.9 192.9 123.5 193.2 114.6 193.4 118.8 193.7 122.0 193.9 120.0 194.2 117.3 194.4 118.8 194.7 120.3 194.9 123.7 195.2 116.4 195.4 121.2 195.7 118.1 195.9 119.6 196.2 119.9 196.4 116.1 196.7 110.1 196.9 117.0 197.2 119.5 197.4 117.0 197.7 115.8 197.9 125.8 198.2 112.7 198.4 118.6 198.7 113.2 198.9 114.2 199.2 114.0 199.4 116.7 199.7 111.4 199.9 110.7 200.2 109.6 200.4 113.6 200.7 111.4 200.9 114.0 201.2 109.5 201.4 110.6 201.7 113.1 201.9 110.2 202.2 111.4 202.4 110.8 202.7 108.5 202.9 105.6 203.2 113.1 203.4 108.6 203.7 110.1 203.9 103.8 204.2 104.6 204.4 103.6 204.7 106.4 204.9 110.7 205.2 109.9 205.4 108.9 205.7 109.5 205.9 111.0 206.2 109.0 206.4 110.6 206.7 110.2 206.9 105.5 207.2 109.1 207.4 115.7 207.7 108.1 207.9 107.8 208.2 104.4 208.4 105.2 208.7 107.6 208.9 103.0 209.2 101.2 209.4 96.0 209.7 101.0 209.9 97.8 210.2 93.4 210.4 104.2 210.7 104.6 210.9 99.8 211.2 106.6 211.4 106.8 211.7 105.3 211.9 111.5 212.2 105.8 212.4 107.7 212.7 108.1 212.9 106.8 213.2 116.5 213.4 110.4 213.7 111.3 213.9 109.9 214.2 115.1 214.4 113.7 214.7 117.5 214.9 114.8 215.2 114.1 215.4 114.9 215.7 117.6 215.9 116.1 216.2 118.9 216.4 122.4 216.7 118.0 216.9 119.7 217.2 122.8 217.4 119.2 217.7 119.2 217.9 119.1 218.2 122.3 218.4 122.8 218.7 121.6 218.9 122.1 219.2 127.3 219.4 123.3 219.7 118.4 219.9 120.6 220.2 120.2 220.4 120.7 220.7 117.5 220.9 115.0 221.2 116.3 221.4 108.7 221.7 116.2 221.9 114.8 222.2 116.8 222.4 111.1 222.7 114.8 222.9 113.6 223.2 113.4 223.4 116.9 223.7 114.5 223.9 116.3 224.2 113.1 224.4 115.5 224.7 107.7 224.9 114.3 225.2 114.2 225.4 116.3 225.7 115.4 225.9 114.6 226.2 116.5 226.4 115.0 226.7 115.4 226.9 115.5 227.2 113.5 227.4 112.6 227.7 113.4 227.9 111.4 228.2 112.6 228.4 113.7 228.7 112.8 228.9 109.9 229.2 104.4 229.4 110.0 229.7 109.7 229.9 112.2 230.2 109.2 230.4 109.9 230.7 112.5 230.9 110.8 231.2 112.4 231.4 121.3 231.7 117.9 231.9 117.2 232.2 117.6 232.4 116.2 232.7 120.1 232.9 119.9 233.2 120.9 233.4 120.1 233.7 121.7 233.9 122.1 234.2 123.7 234.4 126.6 234.7 125.1 234.9 121.9 235.2 123.8 235.4 123.1 235.7 125.1 235.9 129.3 236.2 128.2 236.4 126.5 236.7 128.3 236.9 126.5 237.2 125.2 237.4 125.1 237.7 125.9 237.9 129.9 238.2 124.3 238.4 128.8 238.7 128.6 238.9 124.7 239.2 124.7 239.4 123.3 239.7 123.8 239.9 124.8 240.2 123.1 240.4 126.8 240.7 124.6 240.9 122.6 241.2 122.3 241.4 121.1 241.7 121.9 241.9 116.1 242.2 121.6 242.4 121.0 242.7 118.7 242.9 124.4 243.2 118.1 243.4 118.1 243.7 120.2 243.9 115.6 244.2 117.7 244.4 116.1 244.7 117.0 244.9 118.5 245.2 119.2 245.4 120.6 245.7 119.8 245.9 120.3 246.2 118.9 246.4 116.5 246.7 119.4 246.9 115.9 247.2 113.7 247.4 119.2 247.7 119.2 247.9 116.0 248.2 118.4 248.4 116.7 248.7 111.9 248.9 113.8 249.2 111.8 249.4 114.3 249.7 110.8 249.9 116.7 250.2 115.0 250.4 112.5 250.7 114.4 250.9 112.4 251.2 115.4 251.4 117.0 251.7 117.1 251.9 113.3 252.2 117.2 252.4 119.6 252.7 119.9 252.9 122.2 253.2 118.0 253.4 122.1 253.7 120.2 253.9 122.2 254.2 123.7 254.4 123.7 254.7 121.5 254.9 123.3 255.2 120.9 255.4 120.7 255.7 124.7 255.9 123.8 256.2 121.0 256.4 122.6 256.7 124.5 256.9 127.6 257.2 126.7 257.4 128.1 257.7 121.4 257.9 124.7 258.2 125.8 258.4 125.5 258.7 125.4 258.9 123.8 259.2 131.3 259.4 126.5 259.7 123.1 259.9 120.9 260.2 126.4 260.4 120.9 260.7 123.9 260.9 124.9 261.2 118.9 261.4 121.0 261.7 119.5 261.9 120.9 262.2 120.4 262.4 123.4 262.7 120.6 262.9 119.2 263.2 121.3 263.4 118.3 263.7 118.0 263.9 123.0 264.2 116.8 264.4 117.3 264.7 118.3 264.9 116.0 265.2 113.8 265.4 120.0 265.7 116.3 265.9 115.4 266.2 117.2 266.4 116.0 266.7 116.0 266.9 118.7 267.2 129.0 267.4 120.3 267.7 122.3 267.9 116.6 268.2 119.9 268.4 118.0 268.7 122.2 268.9 120.6 269.2 121.5 269.4 121.7 269.7 121.1 269.9 119.6 270.2 123.9 270.4 120.4 270.7 121.0 270.9 122.8 271.2 122.2 271.4 124.2 271.7 125.8 271.9 124.4 272.2 124.4 272.4 124.2 272.7 125.9 272.9 120.8 273.2 125.9 273.4 120.5 273.7 122.4 273.9 124.8 274.2 124.2 274.4 126.1 274.7 129.6 274.9 120.7 275.2 125.1 275.4 129.1 275.7 127.0 275.9 128.2 276.2 125.7 276.4 122.8 276.7 123.4 276.9 126.9 277.2 127.4 277.4 122.4 277.7 125.1 277.9 126.1 278.2 122.2 278.4 124.9 278.7 128.7 278.9 129.8 279.2 125.4 279.4 129.1 279.7 124.6 279.9 124.0 280.2 116.0 280.4 129.5 280.7 124.9 280.9 130.1 281.2 126.2 281.4 125.9 281.7 122.1 281.9 128.5 282.2 124.9 282.4 125.3 282.7 121.4 282.9 127.4 283.2 129.6 283.4 124.4 283.7 125.8 283.9 126.3 284.2 127.4 284.4 125.8 284.7 128.9 284.9 125.2 285.2 124.6 285.4 124.9 285.7 121.0 285.9 124.4 286.2 127.9 286.4 126.6 286.7 124.6 286.9 127.6 287.2 122.5 287.4 126.0 287.7 128.7 287.9 128.1 288.2 125.4 288.4 128.7 288.7 130.6 288.9 126.4 289.2 128.7 289.4 124.5 289.7 123.8 289.9 130.1 290.2 127.9 290.4 128.3 290.7 125.4 290.9 127.5 291.2 129.7 291.4 131.5 291.7 128.0 291.9 125.4 292.2 131.0 292.4 129.8 292.7 130.1 292.9 129.2 293.2 133.4 293.4 129.3 293.7 130.2 293.9 125.8 294.2 128.3 294.4 128.3 294.7 129.6 294.9 130.5 295.2 126.7 295.4 133.3 295.7 128.2 295.9 129.5 296.2 131.0 296.4 128.4 296.7 131.9 296.9 132.2 297.2 130.7 297.4 135.1 297.7 132.0 297.9 132.7 298.2 130.8 298.4 129.9 298.7 132.2 298.9 133.2 299.2 133.4 299.4 136.1 299.7 130.8 299.9 133.5 300.2 132.7 300.4 141.6 300.7 135.7 300.9 136.1 301.2 135.4 301.4 139.2 301.7 137.0 301.9 138.7 302.2 134.5 302.4 140.4 302.7 139.1 302.9 139.5 303.2 140.9 303.4 138.4 303.7 138.1 303.9 140.3 304.2 139.9 304.4 138.8 304.7 139.4 304.9 138.5 305.2 140.8 305.4 141.3 305.7 139.7 305.9 143.2 306.2 137.2 306.4 139.6 306.7 143.2 306.9 138.5 307.2 137.6 307.4 143.0 307.7 141.7 307.9 138.8 308.2 142.4 308.4 139.5 308.7 139.1 308.9 141.5 309.2 141.1 309.4 140.3 309.7 141.0 309.9 141.1 310.2 143.3 310.4 143.4 310.7 145.1 310.9 143.3 311.2 139.2 311.4 142.4 311.7 144.6 311.9 148.0 312.2 147.1 312.4 144.8 312.7 149.6 312.9 144.4 313.2 150.4 313.4 146.2 313.7 148.3 313.9 148.2 314.2 146.8 314.4 148.0 314.7 145.7 314.9 147.4 315.2 149.4 315.4 162.9 315.7 148.9 315.9 147.9 316.2 146.1 316.4 149.7 316.7 145.1 316.9 146.6 317.2 148.6 317.4 146.0 317.7 150.7 317.9 150.0 318.2 147.2 318.4 147.2 318.7 146.0 318.9 145.9 319.2 149.0 319.4 149.4 319.7 148.9 319.9 148.8 320.2 147.4 320.4 149.0 320.7 146.0 320.9 148.5 321.2 151.0 321.4 150.8 321.7 147.9 321.9 148.1 322.2 151.1 322.4 151.8 322.7 146.3 322.9 148.1 323.2 149.3 323.4 151.0 323.7 145.8 323.9 150.1 324.2 148.6 324.4 153.1 324.7 149.9 324.9 149.0 325.2 148.7 325.4 151.0 325.7 150.5 325.9 147.5 326.2 149.8 326.4 144.4 326.7 148.2 326.9 147.3 327.2 147.3 327.4 147.0 327.7 148.0 327.9 150.6 328.2 151.1 328.4 149.4 328.7 148.0 328.9 151.2 329.2 146.5 329.4 146.8 329.7 152.6 329.9 151.2 330.2 153.7 330.4 149.9 330.7 148.2 330.9 148.4 331.2 151.3 331.4 149.1 331.7 149.3 331.9 148.2 332.2 148.6 332.4 152.0 332.7 151.4 332.9 148.7 333.2 148.9 333.4 149.8 333.7 151.6 333.9 148.8 334.2 150.4 334.4 142.7 334.7 148.6 334.9 151.3 335.2 152.0 335.4 148.5 335.7 149.0 335.9 151.5 336.2 149.4 336.4 149.0 336.7 150.6 336.9 149.9 337.2 151.3 337.4 150.6 337.7 148.2 337.9 148.8 338.2 148.8 338.4 146.5 338.7 147.0 338.9 150.3 339.2 145.9 339.4 150.2 339.7 149.0 339.9 148.4 340.2 149.6 340.4 149.7 340.7 151.2 340.9 148.8 341.2 149.4 341.4 149.7 341.7 153.6 341.9 152.5 342.2 147.8 342.4 151.2 342.7 151.0 342.9 152.6 343.2 153.3 343.4 157.2 343.7 150.8 343.9 155.8 344.2 155.1 344.4 152.1 344.7 154.7 344.9 154.3 345.2 155.3 345.4 157.0 345.7 153.0 345.9 157.7 346.2 155.1 346.4 158.3 346.7 156.6 346.9 158.0 347.2 157.0 347.4 158.0 347.7 156.4 347.9 153.4 348.2 158.8 348.4 157.7 348.7 160.0 348.9 149.5 349.2 156.0 349.4 158.5 349.7 154.9 349.9 156.6 350.2 160.4 350.4 159.4 350.7 155.7 350.9 159.5 351.2 159.2 351.4 158.6 351.7 158.0 351.9 157.8 352.2 154.4 352.4 155.7 352.7 158.7 352.9 157.8 353.2 160.6 353.4 156.5 353.7 153.9 353.9 157.3 354.2 158.3 354.4 158.5 354.7 158.0 354.9 155.0 355.2 160.4 355.4 157.0 355.7 159.2 355.9 157.7 356.2 156.2 356.4 160.4 356.7 154.2 356.9 156.9 357.2 159.0 357.4 157.8 357.7 159.6 357.9 158.3 358.2 156.8 358.4 161.9 358.7 158.2 358.9 158.0 359.2 156.9 359.4 157.5 359.7 159.7 359.9 159.6 360.2 158.8 360.4 157.7 360.7 159.9 360.9 156.2 361.2 158.4 361.4 158.5 361.7 157.6 361.9 159.2 362.2 158.0 362.4 157.8 362.7 162.0 362.9 160.3 363.2 161.1 363.4 159.3 363.7 160.8 363.9 162.0 364.2 161.3 364.4 163.2 364.7 159.1 364.9 159.9 365.2 159.5 365.4 154.1 365.7 157.5 365.9 159.9 366.2 160.9 366.4 158.0 366.7 161.9 366.9 164.6 367.2 159.6 367.4 162.6 367.7 163.2 367.9 161.3 368.2 159.1 368.4 163.1 368.7 160.6 368.9 160.4 369.2 161.2 369.4 160.3 369.7 162.9 369.9 162.5 370.2 163.3 370.4 162.4 370.7 160.3 370.9 161.4 371.2 163.0 371.4 161.1 371.7 166.3 371.9 161.5 372.2 161.0 372.4 163.7 372.7 163.1 372.9 162.0 373.2 161.7 373.4 162.8 373.7 163.5 373.9 163.4 374.2 161.8 374.4 162.9 374.7 163.6 374.9 163.5 375.2 157.6 375.4 161.1 375.7 161.3 375.9 162.1 376.2 162.8 376.4 165.7 376.7 163.6 376.9 162.5 377.2 162.7 377.4 165.5 377.7 161.8 377.9 163.3 378.2 165.3 378.4 163.4 378.7 159.8 378.9 163.6 379.2 162.4 379.4 162.9 379.7 164.7 379.9 163.9 380.2 162.8 380.4 166.3 380.7 164.8 380.9 163.7 381.2 163.8 381.4 163.8 381.7 162.3 381.9 162.8 382.2 163.6 382.4 162.1 382.7 159.4 382.9 165.7 383.2 162.9 383.4 163.7 383.7 163.6 383.9 163.9 384.2 163.9 384.4 164.0 384.7 161.3 384.9 167.2 385.2 163.0 385.4 165.7 385.7 161.2 385.9 162.6 386.2 165.8 386.4 164.1 386.7 163.3 386.9 165.0 387.2 162.9 387.4 164.6 387.7 161.2 387.9 163.9 388.2 163.7 388.4 165.5 388.7 166.1 388.9 163.5 389.2 167.3 389.4 164.0 389.7 161.8 389.9 161.4 390.2 167.4 390.4 164.8 390.7 163.0 390.9 164.1 391.2 163.6 391.4 167.4 391.7 165.2 391.9 171.4 392.2 164.8 392.4 157.7 392.7 168.4 392.9 165.1 393.2 165.3 393.4 168.1 393.7 165.4 393.9 167.6 394.2 165.9 394.4 163.4 394.7 166.7 394.9 165.1 395.2 167.9 395.4 167.6 395.7 166.3 395.9 167.2 396.2 168.2 396.4 165.9 396.7 167.7 396.9 166.1 397.2 167.4 397.4 165.1 397.7 166.8 397.9 168.0 398.2 165.5 398.4 166.1 398.7 166.0 398.9 168.0 399.2 165.8 399.4 167.6 399.7 169.3 399.9 167.6 400.2 164.7 400.4 167.4 400.7 168.8 400.9 166.9 401.2 169.0 401.4 168.4 401.7 168.1 401.9 166.7 402.2 166.8 402.4 166.8 402.7 167.8 402.9 168.6 403.2 168.5 403.4 166.9 403.7 168.0 403.9 168.6 404.2 165.6 404.4 167.0 404.7 167.0 404.9 167.9 405.2 167.9 405.4 167.9 405.7 167.1 405.9 169.4 406.2 168.9 406.4 166.1 406.7 168.6 406.9 165.0 407.2 171.2 407.4 167.2 407.7 168.1 407.9 168.9 408.2 168.5 408.4 168.8 408.7 171.2 408.9 169.3 409.2 170.2 409.4 170.6 409.7 167.6 409.9 171.5 410.2 170.1 410.4 170.5 410.7 167.9 410.9 170.4 411.2 169.8 411.4 168.4 411.7 172.6 411.9 170.1 412.2 169.0 412.4 169.6 412.7 170.7 412.9 171.1 413.2 170.3 413.4 171.2 413.7 171.6 413.9 165.5 414.2 168.8 414.4 168.2 414.7 169.7 414.9 171.7 415.2 170.6 415.4 166.3 415.7 169.2 415.9 171.2 416.2 168.0 416.4 169.5 416.7 170.2 416.9 167.1 417.2 170.9 417.4 170.3 417.7 170.7 417.9 166.7 418.2 168.7 418.4 169.0 418.7 170.3 418.9 170.0 419.2 170.4 419.4 172.6 419.7 171.9 419.9 168.9 420.2 169.1 420.4 175.6 420.7 169.1 420.9 172.1 421.2 172.4 421.4 169.3 421.7 169.7 421.9 170.2 422.2 168.9 422.4 168.7 422.7 169.6 422.9 171.4 423.2 169.5 423.4 169.9 423.7 169.5 423.9 168.2 424.2 175.0 424.4 166.8 424.7 169.3 424.9 171.1 425.2 168.2 425.4 171.1 425.7 172.1 425.9 167.5 426.2 170.6 426.4 168.7 426.7 171.0 426.9 170.4 427.2 170.6 427.4 172.3 427.7 171.0 427.9 172.3 428.2 171.3 428.4 168.6 428.7 170.8 428.9 171.1 429.2 168.3 429.4 174.7 429.7 170.5 429.9 171.0 430.2 169.1 430.4 170.6 430.7 170.9 430.9 169.5 431.2 170.8 431.4 167.4 431.7 172.5 431.9 168.9 432.2 163.6 432.4 167.5 432.7 169.4 432.9 172.4 433.2 169.3 433.4 171.1 433.7 169.3 433.9 173.9 434.2 171.5 434.4 173.6 434.7 169.3 434.9 171.8 435.2 169.4 435.4 171.7 435.7 171.9 435.9 165.8 436.2 169.3 436.4 169.3 436.7 168.8 436.9 170.0 437.2 169.7 437.4 169.0 437.7 171.3 437.9 172.0 438.2 167.0 438.4 169.5 438.7 171.3 438.9 170.9 439.2 170.3 439.4 172.5 439.7 172.6 439.9 172.4 440.2 171.1 440.4 174.4 440.7 177.1 440.9 171.0 441.2 171.4 441.4 173.3 441.7 170.5 441.9 172.3 442.2 171.8 442.4 170.7 442.7 171.4 442.9 169.5 443.2 171.1 443.4 169.0 443.7 175.2 443.9 174.1 444.2 173.8 444.4 172.4 444.7 175.2 444.9 173.9 445.2 173.6 445.4 173.5 445.7 169.3 445.9 172.8 446.2 171.5 446.4 170.6 446.7 170.7 446.9 173.0 447.2 173.9 447.4 170.5 447.7 175.0 447.9 174.6 448.2 172.0 448.4 171.9 448.7 172.4 448.9 175.8 449.2 171.5 449.4 171.1 449.7 173.3 449.9 169.8 450.2 173.0 450.4 174.5 450.7 173.3 450.9 174.1 451.2 173.7 451.4 174.1 451.7 173.3 451.9 171.9 452.2 172.8 452.4 173.0 452.7 175.0 452.9 175.5 453.2 173.8 453.4 172.2 453.7 172.3 453.9 173.1 454.2 175.4 454.4 173.9 454.7 173.3 454.9 171.0 455.2 176.3 455.4 173.9 455.7 173.5 455.9 173.7 456.2 176.0 456.4 173.4 456.7 176.1 456.9 175.4 457.2 173.8 457.4 175.0 457.7 173.6 457.9 172.6 458.2 173.4 458.4 172.5 458.7 174.6 458.9 173.9 459.2 174.7 459.4 175.1 459.7 169.5 459.9 174.4 460.2 171.4 460.4 174.2 460.7 172.8 460.9 174.2 461.2 176.0 461.4 168.7 461.7 174.4 461.9 174.0 462.2 171.4 462.4 175.1 462.7 174.2 462.9 173.5 463.2 173.2 463.4 184.3 463.7 173.7 463.9 171.7 464.2 173.0 464.4 173.8 464.7 173.8 464.9 174.3 465.2 171.1 465.4 176.1 465.7 173.8 465.9 170.2 466.2 172.0 466.4 173.3 466.7 175.8 466.9 175.3 467.2 174.1 467.4 174.7 467.7 175.0 467.9 177.6 468.2 172.8 468.4 175.4 468.7 177.0 468.9 173.5 469.2 175.1 469.4 175.4 469.7 174.2 469.9 175.7 470.2 176.4 470.4 176.6 470.7 174.7 470.9 175.3 471.2 178.4 471.4 173.5 471.7 175.4 471.9 176.4 472.2 175.4 472.4 177.2 472.7 175.5 472.9 176.3 473.2 179.3 473.4 175.0 473.7 175.6 473.9 175.3 474.2 174.8 474.4 175.4 474.7 173.8 474.9 176.5 475.2 177.9 475.4 177.9 475.7 177.3 475.9 174.2 476.2 177.7 476.4 174.6 476.7 175.6 476.9 178.3 477.2 174.2 477.4 176.9 477.7 176.1 477.9 175.6 478.2 174.6 478.4 176.4 478.7 175.2 478.9 177.4 479.2 177.6 479.4 174.0 479.7 175.3 479.9 175.6 480.2 174.4 480.4 174.5 480.7 176.2 480.9 175.8 481.2 173.9 481.4 175.4 481.7 177.8 481.9 174.6 482.2 175.0 482.4 178.6 482.7 178.2 482.9 174.1 483.2 174.5 483.4 177.0 483.7 174.8 483.9 176.2 484.2 175.9 484.4 178.3 484.7 168.8 484.9 173.5 485.2 174.9 485.4 178.1 485.7 176.5 485.9 174.3 486.2 177.4 486.4 178.9 486.7 176.4 486.9 176.3 487.2 177.4 487.4 180.5 487.7 177.0 487.9 177.5 488.2 176.6 488.4 176.3 488.7 175.5 488.9 177.2 489.2 176.4 489.4 176.5 489.7 178.1 489.9 177.5 490.2 178.0 490.4 171.9 490.7 177.6 490.9 175.0 491.2 175.7 491.4 175.6 491.7 178.5 491.9 178.0 492.2 175.8 492.4 175.2 492.7 176.8 492.9 176.2 493.2 181.9 493.4 174.8 493.7 174.2 493.9 176.4 494.2 176.8 494.4 177.0 494.7 177.9 494.9 179.7 495.2 175.7 495.4 176.0" fill="none" stroke="#9a4ee8" stroke-width="0.75" stroke-linejoin="round" opacity="0.78"/>
<path d="M42.0 255.2L42.2 252.0 42.5 257.0 42.8 253.5 43.0 255.3 43.2 254.1 43.5 255.0 43.8 255.7 44.0 253.3 44.2 254.1 44.5 253.8 44.8 254.2 45.0 252.1 45.2 253.8 45.5 253.7 45.8 253.0 46.0 253.7 46.2 250.0 46.5 255.6 46.8 254.5 47.0 256.2 47.2 251.7 47.5 252.6 47.8 254.6 48.0 249.6 48.2 254.2 48.5 253.1 48.8 253.6 49.0 254.3 49.2 254.0 49.5 258.7 49.8 255.5 50.0 252.5 50.2 255.1 50.5 252.4 50.8 254.0 51.0 252.4 51.2 252.9 51.5 257.1 51.8 253.1 52.0 252.9 52.2 252.9 52.5 253.1 52.8 255.1 53.0 251.9 53.2 250.0 53.5 253.8 53.8 251.2 54.0 252.5 54.2 254.2 54.5 252.7 54.8 251.4 55.0 251.8 55.2 251.4 55.5 251.7 55.8 252.5 56.0 253.7 56.2 253.3 56.5 251.5 56.8 251.2 57.0 253.8 57.2 249.9 57.5 251.5 57.8 251.6 58.0 250.6 58.2 250.8 58.5 252.4 58.8 250.1 59.0 251.0 59.2 251.4 59.5 252.4 59.8 250.8 60.0 253.8 60.2 252.3 60.5 252.6 60.8 252.0 61.0 252.4 61.2 252.2 61.5 254.9 61.8 254.0 62.0 253.8 62.2 255.3 62.5 252.5 62.8 255.5 63.0 255.1 63.2 254.5 63.5 256.8 63.8 254.7 64.0 257.6 64.2 256.3 64.5 258.2 64.8 259.7 65.0 259.2 65.2 258.3 65.5 259.3 65.8 259.2 66.0 258.6 66.2 258.9 66.5 260.4 66.8 261.8 67.0 258.8 67.2 260.9 67.5 261.7 67.8 261.4 68.0 260.4 68.2 262.8 68.5 260.4 68.8 262.6 69.0 265.8 69.2 260.0 69.5 262.6 69.8 262.8 70.0 263.1 70.2 261.9 70.5 262.6 70.8 261.5 71.0 263.4 71.2 264.0 71.5 262.8 71.8 262.7 72.0 263.4 72.2 264.0 72.5 264.4 72.8 264.4 73.0 264.8 73.2 263.5 73.5 262.2 73.8 266.0 74.0 267.1 74.2 264.3 74.5 265.3 74.8 266.6 75.0 267.5 75.2 267.4 75.5 269.8 75.8 266.9 76.0 267.8 76.2 268.0 76.5 267.3 76.8 269.3 77.0 268.9 77.2 269.4 77.5 268.2 77.8 271.0 78.0 267.8 78.2 269.5 78.5 266.5 78.8 268.3 79.0 270.3 79.2 269.3 79.5 270.1 79.8 268.4 80.0 271.8 80.2 271.0 80.5 270.5 80.8 271.0 81.0 271.3 81.2 272.2 81.5 271.1 81.8 269.4 82.0 270.6 82.2 272.1 82.5 271.7 82.8 269.6 83.0 270.1 83.2 268.8 83.5 268.6 83.8 265.4 84.0 265.3 84.2 266.1 84.5 264.3 84.8 264.0 85.0 264.1 85.2 260.1 85.5 259.4 85.8 257.6 86.0 257.2 86.2 258.1 86.5 257.2 86.8 257.5 87.0 262.5 87.2 262.0 87.5 264.9 87.8 265.0 88.0 266.1 88.2 267.5 88.5 268.5 88.8 267.4 89.0 272.3 89.2 269.4 89.5 271.3 89.8 274.3 90.0 272.0 90.2 273.7 90.5 271.8 90.8 273.5 91.0 272.3 91.2 272.8 91.5 270.4 91.8 271.5 92.0 272.9 92.2 271.0 92.5 271.8 92.8 273.3 93.0 272.1 93.2 271.8 93.5 271.7 93.8 273.0 94.0 272.5 94.2 273.1 94.5 272.8 94.8 275.0 95.0 272.8 95.2 271.3 95.5 273.5 95.8 273.4 96.0 273.7 96.2 272.0 96.5 274.8 96.8 273.7 97.0 273.7 97.2 272.2 97.5 274.3 97.8 273.8 98.0 275.3 98.2 273.5 98.5 272.6 98.8 273.8 99.0 272.6 99.2 273.8 99.5 270.6 99.8 272.8 100.0 272.5 100.2 272.5 100.5 271.8 100.8 271.4 101.0 271.8 101.2 271.4 101.5 272.1 101.8 271.6 102.0 269.7 102.2 272.0 102.5 273.6 102.8 272.6 103.0 273.1 103.2 273.2 103.5 272.4 103.8 270.1 104.0 274.2 104.2 275.8 104.5 274.4 104.8 274.5 105.0 274.7 105.2 274.3 105.5 274.9 105.8 274.8 106.0 275.2 106.2 274.1 106.5 273.6 106.8 275.8 107.0 274.4 107.2 273.0 107.5 275.6 107.8 273.3 108.0 277.5 108.2 276.5 108.5 276.5 108.8 275.3 109.0 274.9 109.2 275.5 109.5 276.2 109.8 275.5 110.0 276.5 110.2 277.0 110.5 276.9 110.8 275.4 111.0 274.3 111.2 276.5 111.5 275.8 111.8 276.9 112.0 278.1 112.2 278.1 112.5 276.8 112.8 277.6 113.0 279.9 113.2 276.5 113.5 276.7 113.8 277.3 114.0 276.4 114.2 275.3 114.5 275.7 114.8 276.4 115.0 275.8 115.2 277.1 115.5 276.0 115.8 277.7 116.0 277.4 116.2 275.0 116.5 277.2 116.8 275.7 117.0 277.4 117.2 276.6 117.5 276.0 117.8 277.3 118.0 275.4 118.2 276.2 118.5 276.1 118.8 275.4 119.0 276.0 119.2 274.0 119.5 275.8 119.8 273.1 120.0 275.2 120.2 274.0 120.5 273.9 120.8 272.2 121.0 275.4 121.2 271.8 121.5 271.8 121.8 270.5 122.0 272.4 122.2 270.1 122.5 271.3 122.8 269.0 123.0 270.0 123.2 268.5 123.5 270.0 123.8 268.5 124.0 267.6 124.2 268.6 124.5 266.6 124.8 266.5 125.0 268.0 125.2 262.6 125.5 268.2 125.8 265.8 126.0 263.8 126.2 265.9 126.5 266.0 126.8 264.4 127.0 264.5 127.2 265.3 127.5 264.9 127.8 263.8 128.0 262.7 128.2 262.2 128.5 262.3 128.8 263.3 129.0 262.9 129.2 262.3 129.5 263.1 129.8 261.0 130.0 260.0 130.2 260.2 130.5 262.3 130.8 257.7 131.0 259.8 131.2 259.6 131.5 258.8 131.8 260.9 132.0 259.2 132.2 258.4 132.5 255.0 132.8 257.3 133.0 256.0 133.2 256.1 133.5 255.9 133.8 254.8 134.0 255.7 134.2 258.6 134.5 255.4 134.8 254.4 135.0 251.4 135.2 254.4 135.5 254.1 135.8 252.3 136.0 251.6 136.2 252.6 136.5 250.6 136.8 252.1 137.0 249.7 137.2 249.6 137.5 250.4 137.8 246.5 138.0 250.0 138.2 250.4 138.5 246.3 138.8 250.5 139.0 248.7 139.2 249.8 139.5 249.3 139.8 248.4 140.0 248.2 140.2 246.8 140.5 246.9 140.8 247.6 141.0 250.3 141.2 249.5 141.5 246.6 141.8 249.0 142.0 248.2 142.2 247.4 142.5 248.2 142.8 248.4 143.0 245.9 143.2 246.9 143.5 247.2 143.8 245.7 144.0 246.8 144.2 246.3 144.5 244.4 144.8 244.9 145.0 246.0 145.2 246.4 145.5 245.5 145.8 243.8 146.0 245.4 146.2 244.5 146.5 245.5 146.8 245.1 147.0 242.4 147.2 243.0 147.5 242.2 147.8 241.5 148.0 244.7 148.2 243.1 148.5 239.6 148.8 242.0 149.0 239.7 149.2 243.8 149.5 240.5 149.8 239.8 150.0 239.7 150.2 239.6 150.5 238.5 150.8 237.2 151.0 236.8 151.2 236.7 151.5 233.8 151.8 234.2 152.0 233.0 152.2 231.6 152.5 233.2 152.8 228.1 153.0 227.2 153.2 225.7 153.5 226.1 153.8 223.5 154.0 223.4 154.2 223.4 154.5 220.8 154.8 223.6 155.0 222.3 155.2 223.2 155.5 223.7 155.8 225.2 156.0 225.5 156.2 230.0 156.5 225.6 156.8 224.7 157.0 226.2 157.2 229.5 157.5 230.6 157.8 230.2 158.0 229.0 158.2 230.3 158.5 230.7 158.8 229.8 159.0 228.4 159.2 225.6 159.5 227.6 159.8 230.7 160.0 227.6 160.2 223.5 160.5 225.8 160.8 222.7 161.0 226.9 161.2 224.1 161.5 221.1 161.8 222.8 162.0 219.6 162.2 220.3 162.5 218.4 162.8 215.3 163.0 216.1 163.2 211.5 163.5 215.5 163.8 209.5 164.0 206.0 164.2 199.9 164.5 206.4 164.8 207.0 165.0 198.6 165.2 201.2 165.5 197.7 165.8 195.9 166.0 196.4 166.2 196.4 166.5 199.5 166.8 198.4 167.0 196.3 167.2 203.2 167.5 202.5 167.8 200.6 168.0 202.7 168.2 202.7 168.5 204.8 168.8 205.8 169.0 206.5 169.2 205.4 169.5 205.5 169.8 208.3 170.0 207.3 170.2 211.1 170.5 207.1 170.8 209.7 171.0 209.1 171.2 208.3 171.5 211.6 171.8 210.2 172.0 209.2 172.2 210.4 172.5 212.7 172.8 210.0 173.0 214.0 173.2 213.3 173.5 212.2 173.8 214.6 174.0 215.2 174.2 213.4 174.5 212.6 174.8 213.9 175.0 212.5 175.2 208.0 175.5 207.9 175.8 206.6 176.0 203.9 176.2 201.0 176.5 202.1 176.8 198.4 177.0 195.9 177.2 195.5 177.5 190.3 177.8 189.2 178.0 188.4 178.2 185.0 178.5 183.8 178.8 183.5 179.0 180.6 179.2 181.2 179.5 176.2 179.8 176.2 180.0 168.8 180.2 171.9 180.5 169.0 180.8 170.9 181.0 168.9 181.2 168.2 181.5 170.6 181.8 170.2 182.0 169.5 182.2 167.7 182.5 167.1 182.8 170.3 183.0 170.6 183.2 171.0 183.5 172.4 183.8 170.9 184.0 176.9 184.2 173.2 184.5 174.6 184.8 177.4 185.0 171.2 185.2 179.3 185.5 180.0 185.8 178.6 186.0 178.1 186.2 179.8 186.5 174.7 186.8 184.4 187.0 183.2 187.2 182.8 187.5 183.5 187.8 186.9 188.0 192.1 188.2 185.7 188.5 186.5 188.8 183.0 189.0 190.6 189.2 190.0 189.5 193.6 189.8 190.2 190.0 189.9 190.2 189.8 190.5 194.0 190.8 188.7 191.0 192.6 191.2 192.4 191.5 190.9 191.8 190.4 192.0 195.5 192.2 198.3 192.5 191.2 192.8 192.7 193.0 197.8 193.2 190.8 193.5 191.3 193.8 189.8 194.0 191.4 194.2 191.4 194.5 190.8 194.8 190.2 195.0 188.8 195.2 189.2 195.5 189.7 195.8 192.2 196.0 190.3 196.2 189.8 196.5 192.1 196.8 192.0 197.0 190.0 197.2 189.1 197.5 192.4 197.8 192.1 198.0 190.4 198.2 192.2 198.5 192.0 198.8 194.0 199.0 191.1 199.2 194.0 199.5 193.5 199.8 191.5 200.0 194.9 200.2 194.8 200.5 191.6 200.8 196.9 201.0 192.2 201.2 192.8 201.5 194.0 201.8 195.9 202.0 195.9 202.2 195.1 202.5 200.1 202.8 196.2 203.0 197.9 203.2 200.2 203.5 196.3 203.8 192.0 204.0 195.1 204.2 193.7 204.5 194.8 204.8 194.0 205.0 191.0 205.2 187.9 205.5 190.5 205.8 189.6 206.0 184.8 206.2 189.7 206.5 187.6 206.8 187.1 207.0 187.5 207.2 185.5 207.5 187.5 207.8 192.0 208.0 191.0 208.2 191.1 208.5 191.1 208.8 191.4 209.0 196.0 209.2 195.8 209.5 195.3 209.8 193.5 210.0 196.5 210.2 195.8 210.5 201.6 210.8 200.9 211.0 200.4 211.2 202.0 211.5 207.2 211.8 206.0 212.0 203.0 212.2 205.5 212.5 205.0 212.8 205.3 213.0 209.2 213.2 213.4 213.5 215.8 213.8 211.6 214.0 211.5 214.2 212.6 214.5 213.9 214.8 210.2 215.0 209.4 215.2 217.9 215.5 211.9 215.8 213.5 216.0 211.1 216.2 212.5 216.5 209.0 216.8 210.2 217.0 211.3 217.2 210.1 217.5 207.5 217.8 209.3 218.0 206.7 218.2 202.8 218.5 208.3 218.8 212.1 219.0 208.8 219.2 205.6 219.5 210.4 219.8 208.5 220.0 206.8 220.2 203.8 220.5 209.0 220.8 210.4 221.0 208.3 221.2 204.9 221.5 205.3 221.8 209.0 222.0 208.7 222.2 208.2 222.5 207.1 222.8 208.1 223.0 206.6 223.2 206.9 223.5 204.3 223.8 207.4 224.0 206.2 224.2 208.0 224.5 207.4 224.8 204.9 225.0 212.1 225.2 203.9 225.5 207.0 225.8 207.0 226.0 207.1 226.2 201.7 226.5 208.4 226.8 206.9 227.0 210.2 227.2 198.4 227.5 205.5 227.8 207.3 228.0 207.7 228.2 213.8 228.5 209.3 228.8 213.1 229.0 212.9 229.2 210.7 229.5 212.2 229.8 213.9 230.0 215.7 230.2 218.0 230.5 217.3 230.8 219.8 231.0 217.2 231.2 215.9 231.5 220.5 231.8 222.2 232.0 221.4 232.2 220.7 232.5 222.8 232.8 224.9 233.0 221.9 233.2 220.9 233.5 220.6 233.8 224.4 234.0 221.3 234.2 222.0 234.5 222.7 234.8 222.2 235.0 219.1 235.2 223.1 235.5 221.0 235.8 220.2 236.0 220.7 236.2 217.2 236.5 218.6 236.8 217.8 237.0 219.4 237.2 217.2 237.5 218.5 237.8 216.2 238.0 217.2 238.2 216.9 238.5 217.1 238.8 217.3 239.0 216.7 239.2 216.5 239.5 213.6 239.8 218.1 240.0 215.4 240.2 215.8 240.5 214.8 240.8 219.1 241.0 212.9 241.2 217.4 241.5 217.4 241.8 218.0 242.0 217.3 242.2 216.5 242.5 213.9 242.8 219.8 243.0 217.4 243.2 216.9 243.5 216.9 243.8 215.9 244.0 215.2 244.2 217.6 244.5 217.9 244.8 214.7 245.0 219.2 245.2 216.8 245.5 217.8 245.8 217.0 246.0 218.4 246.2 218.4 246.5 219.9 246.8 215.1 247.0 218.5 247.2 217.5 247.5 216.0 247.8 220.1 248.0 213.8 248.2 221.2 248.5 224.0 248.8 218.3 249.0 222.3 249.2 220.3 249.5 220.9 249.8 218.4 250.0 221.6 250.2 221.2 250.5 222.3 250.8 221.6 251.0 223.3 251.2 222.4 251.5 223.1 251.8 224.1 252.0 222.8 252.2 223.6 252.5 222.5 252.8 222.9 253.0 221.3 253.2 223.0 253.5 223.5 253.8 221.6 254.0 222.6 254.2 222.7 254.5 219.6 254.8 221.5 255.0 222.7 255.2 220.0 255.5 218.0 255.8 220.7 256.0 219.3 256.2 222.7 256.5 219.9 256.8 219.8 257.0 217.8 257.2 220.4 257.5 217.8 257.8 218.1 258.0 219.2 258.2 218.0 258.5 220.9 258.8 217.3 259.0 218.7 259.2 217.8 259.5 216.7 259.8 220.9 260.0 215.5 260.2 220.5 260.5 216.3 260.8 218.4 261.0 221.4 261.2 215.2 261.5 216.2 261.8 220.0 262.0 218.4 262.2 217.4 262.5 218.3 262.8 217.1 263.0 219.1 263.2 220.9 263.5 218.5 263.8 219.8 264.0 221.2 264.2 222.6 264.5 219.2 264.8 220.8 265.0 219.8 265.2 220.0 265.5 220.6 265.8 220.5 266.0 219.3 266.2 219.1 266.5 221.1 266.8 222.5 267.0 224.1 267.2 221.9 267.5 222.6 267.8 223.9 268.0 225.5 268.2 223.2 268.5 223.5 268.8 226.3 269.0 223.5 269.2 222.7 269.5 222.0 269.8 225.0 270.0 224.1 270.2 227.2 270.5 224.2 270.8 225.8 271.0 225.9 271.2 226.9 271.5 222.8 271.8 226.7 272.0 224.6 272.2 224.4 272.5 224.0 272.8 223.9 273.0 223.9 273.2 221.1 273.5 224.9 273.8 224.2 274.0 222.7 274.2 223.8 274.5 227.0 274.8 224.3 275.0 223.2 275.2 228.8 275.5 221.2 275.8 223.0 276.0 222.6 276.2 222.9 276.5 224.2 276.8 223.9 277.0 220.8 277.2 222.7 277.5 223.0 277.8 222.2 278.0 222.7 278.2 221.7 278.5 221.6 278.8 222.7 279.0 221.2 279.2 223.1 279.5 222.3 279.8 221.3 280.0 221.8 280.2 222.0 280.5 222.6 280.8 223.1 281.0 222.5 281.2 222.1 281.5 225.5 281.8 225.0 282.0 224.2 282.2 225.6 282.5 225.6 282.8 224.6 283.0 225.3 283.2 233.5 283.5 227.1 283.8 227.5 284.0 225.2 284.2 227.4 284.5 229.9 284.8 227.7 285.0 228.8 285.2 229.2 285.5 229.7 285.8 230.0 286.0 228.3 286.2 228.7 286.5 227.3 286.8 231.7 287.0 228.6 287.2 228.6 287.5 230.2 287.8 227.7 288.0 228.4 288.2 227.4 288.5 228.5 288.8 227.9 289.0 229.2 289.2 228.3 289.5 227.7 289.8 227.8 290.0 228.4 290.2 227.2 290.5 231.4 290.8 229.6 291.0 228.9 291.2 225.3 291.5 229.5 291.8 227.1 292.0 229.1 292.2 229.0 292.5 228.2 292.8 228.0 293.0 228.2 293.2 232.0 293.5 229.1 293.8 229.3 294.0 231.1 294.2 230.6 294.5 233.4 294.8 227.1 295.0 229.4 295.2 235.5 295.5 231.4 295.8 231.4 296.0 232.3 296.2 233.6 296.5 231.1 296.8 233.4 297.0 233.3 297.2 234.5 297.5 234.4 297.8 233.5 298.0 233.4 298.2 231.6 298.5 236.2 298.8 233.3 299.0 234.3 299.2 237.6 299.5 235.1 299.8 236.6 300.0 235.6 300.2 236.9 300.5 236.2 300.8 235.6 301.0 240.2 301.2 236.1 301.5 234.9 301.8 236.2 302.0 237.4 302.2 235.4 302.5 237.9 302.8 238.0 303.0 239.8 303.2 236.4 303.5 239.1 303.8 235.3 304.0 236.9 304.2 237.6 304.5 238.1 304.8 237.6 305.0 237.6 305.2 237.1 305.5 236.7 305.8 238.4 306.0 239.6 306.2 239.0 306.5 239.5 306.8 239.8 307.0 236.2 307.2 237.9 307.5 238.4 307.8 237.9 308.0 240.1 308.2 241.0 308.5 238.9 308.8 239.6 309.0 240.9 309.2 239.0 309.5 239.2 309.8 240.8 310.0 241.2 310.2 241.8 310.5 240.6 310.8 241.2 311.0 239.0 311.2 238.1 311.5 240.8 311.8 237.7 312.0 242.2 312.2 242.4 312.5 241.5 312.8 241.0 313.0 243.0 313.2 241.8 313.5 243.1 313.8 244.8 314.0 243.1 314.2 243.5 314.5 243.1 314.8 242.9 315.0 243.5 315.2 242.9 315.5 244.2 315.8 241.0 316.0 242.4 316.2 243.9 316.5 242.2 316.8 243.0 317.0 242.5 317.2 243.9 317.5 244.4 317.8 247.3 318.0 244.1 318.2 241.6 318.5 243.8 318.8 244.3 319.0 245.3 319.2 241.1 319.5 244.1 319.8 241.5 320.0 244.6 320.2 244.3 320.5 244.4 320.8 244.9 321.0 244.3 321.2 243.1 321.5 244.3 321.8 245.4 322.0 243.8 322.2 244.0 322.5 242.6 322.8 245.4 323.0 243.5 323.2 243.2 323.5 243.6 323.8 243.1 324.0 243.9 324.2 245.7 324.5 245.2 324.8 245.9 325.0 246.1 325.2 243.2 325.5 244.9 325.8 246.2 326.0 247.1 326.2 240.7 326.5 240.7 326.8 245.0 327.0 244.1 327.2 242.0 327.5 245.0 327.8 243.6 328.0 241.9 328.2 244.6 328.5 245.0 328.8 245.5 329.0 245.8 329.2 245.0 329.5 244.5 329.8 243.1 330.0 242.9 330.2 244.3 330.5 246.1 330.8 245.7 331.0 247.4 331.2 244.8 331.5 242.9 331.8 246.0 332.0 246.3 332.2 243.7 332.5 243.2 332.8 245.4 333.0 246.1 333.2 243.9 333.5 244.9 333.8 244.4 334.0 244.0 334.2 243.9 334.5 245.7 334.8 245.1 335.0 244.8 335.2 242.6 335.5 250.3 335.8 244.7 336.0 245.7 336.2 243.0 336.5 247.1 336.8 244.4 337.0 246.4 337.2 246.1 337.5 247.5 337.8 245.2 338.0 245.9 338.2 246.5 338.5 249.3 338.8 245.2 339.0 247.4 339.2 246.4 339.5 247.6 339.8 248.2 340.0 247.7 340.2 247.9 340.5 248.0 340.8 247.1 341.0 247.6 341.2 246.1 341.5 247.7 341.8 247.3 342.0 248.0 342.2 249.2 342.5 248.9 342.8 249.1 343.0 251.5 343.2 242.6 343.5 249.3 343.8 248.8 344.0 248.8 344.2 245.6 344.5 250.5 344.8 250.4 345.0 250.4 345.2 249.1 345.5 250.0 345.8 250.4 346.0 251.5 346.2 250.9 346.5 249.7 346.8 249.7 347.0 249.9 347.2 250.3 347.5 249.2 347.8 250.8 348.0 249.1 348.2 249.1 348.5 250.5 348.8 249.4 349.0 249.9 349.2 247.8 349.5 251.2 349.8 250.3 350.0 250.3 350.2 251.0 350.5 250.8 350.8 249.8 351.0 253.0 351.2 249.6 351.5 251.9 351.8 252.9 352.0 250.2 352.2 251.1 352.5 250.1 352.8 252.3 353.0 250.8 353.2 250.0 353.5 252.8 353.8 252.4 354.0 250.4 354.2 252.8 354.5 251.8 354.8 258.4 355.0 253.6 355.2 250.3 355.5 251.5 355.8 250.8 356.0 252.1 356.2 252.0 356.5 253.9 356.8 252.2 357.0 248.5 357.2 250.2 357.5 253.9 357.8 253.7 358.0 252.2 358.2 252.3 358.5 252.3 358.8 252.6 359.0 250.7 359.2 253.7 359.5 252.0 359.8 253.0 360.0 250.0 360.2 253.5 360.5 254.5 360.8 250.6 361.0 254.9 361.2 254.4 361.5 252.5 361.8 251.6 362.0 254.7 362.2 253.8 362.5 254.2 362.8 253.0 363.0 252.8 363.2 255.9 363.5 251.5 363.8 256.2 364.0 252.1 364.2 253.0 364.5 252.5 364.8 255.7 365.0 252.3 365.2 253.1 365.5 255.2 365.8 254.7 366.0 257.0 366.2 256.7 366.5 255.4 366.8 255.5 367.0 252.7 367.2 253.9 367.5 254.5 367.8 254.8 368.0 253.5 368.2 254.0 368.5 253.0 368.8 256.3 369.0 255.7 369.2 254.9 369.5 255.0 369.8 255.6 370.0 254.6 370.2 254.7 370.5 251.2 370.8 256.2 371.0 256.6 371.2 255.9 371.5 256.1 371.8 256.0 372.0 257.9 372.2 255.9 372.5 254.2 372.8 254.5 373.0 256.5 373.2 256.9 373.5 256.6 373.8 256.7 374.0 256.0 374.2 252.2 374.5 255.1 374.8 253.9 375.0 255.5 375.2 254.4 375.5 256.1 375.8 255.8 376.0 253.9 376.2 256.9 376.5 257.0 376.8 254.6 377.0 256.5 377.2 258.0 377.5 255.5 377.8 258.4 378.0 256.8 378.2 257.6 378.5 256.9 378.8 256.3 379.0 257.1 379.2 258.5 379.5 256.9 379.8 256.2 380.0 255.8 380.2 256.4 380.5 256.2 380.8 257.1 381.0 257.1 381.2 256.9 381.5 257.1 381.8 257.3 382.0 261.0 382.2 258.6 382.5 256.7 382.8 258.4 383.0 257.1 383.2 257.4 383.5 256.9 383.8 256.9 384.0 256.2 384.2 255.0 384.5 258.3 384.8 260.7 385.0 256.9 385.2 259.2 385.5 257.6 385.8 258.4 386.0 257.2 386.2 257.9 386.5 258.1 386.8 255.6 387.0 258.5 387.2 258.2 387.5 255.6 387.8 259.1 388.0 258.4 388.2 258.7 388.5 259.0 388.8 258.1 389.0 257.5 389.2 258.2 389.5 258.3 389.8 261.2 390.0 260.9 390.2 258.3 390.5 258.5 390.8 259.3 391.0 259.6 391.2 257.3 391.5 258.0 391.8 261.3 392.0 260.3 392.2 257.5 392.5 257.3 392.8 258.4 393.0 259.6 393.2 260.0 393.5 259.0 393.8 257.6 394.0 259.7 394.2 260.2 394.5 259.5 394.8 259.0 395.0 260.2 395.2 259.6 395.5 258.4 395.8 259.8 396.0 258.3 396.2 262.1 396.5 260.3 396.8 258.7 397.0 260.1 397.2 261.3 397.5 257.6 397.8 259.6 398.0 261.8 398.2 256.2 398.5 259.6 398.8 258.5 399.0 260.0 399.2 257.5 399.5 258.4 399.8 259.6 400.0 260.4 400.2 261.1 400.5 261.3 400.8 261.6 401.0 261.1 401.2 261.2 401.5 259.3 401.8 260.2 402.0 263.9 402.2 263.0 402.5 261.4 402.8 262.2 403.0 261.6 403.2 260.1 403.5 262.7 403.8 260.2 404.0 260.5 404.2 265.9 404.5 258.3 404.8 261.1 405.0 258.8 405.2 259.1 405.5 260.6 405.8 260.4 406.0 261.0 406.2 260.0 406.5 260.7 406.8 259.5 407.0 259.9 407.2 259.4 407.5 261.6 407.8 259.5 408.0 261.7 408.2 259.9 408.5 260.2 408.8 262.4 409.0 261.2 409.2 259.0 409.5 261.7 409.8 257.9 410.0 261.8 410.2 260.8 410.5 259.7 410.8 261.3 411.0 260.9 411.2 263.5 411.5 260.9 411.8 263.5 412.0 262.9 412.2 260.8 412.5 260.6 412.8 263.0 413.0 261.4 413.2 261.7 413.5 261.3 413.8 260.3 414.0 261.2 414.2 260.6 414.5 260.0 414.8 261.4 415.0 263.7 415.2 263.6 415.5 261.8 415.8 262.0 416.0 262.4 416.2 265.2 416.5 262.3 416.8 260.8 417.0 261.6 417.2 263.3 417.5 264.9 417.8 260.5 418.0 257.0 418.2 263.0 418.5 262.0 418.8 262.3 419.0 263.5 419.2 262.3 419.5 260.7 419.8 260.0 420.0 262.2 420.2 261.0 420.5 262.6 420.8 260.9 421.0 261.9 421.2 260.7 421.5 261.9 421.8 261.8 422.0 263.0 422.2 263.8 422.5 262.2 422.8 260.2 423.0 264.6 423.2 262.8 423.5 263.1 423.8 263.1 424.0 264.0 424.2 263.5 424.5 263.2 424.8 263.3 425.0 261.5 425.2 261.8 425.5 262.3 425.8 262.6 426.0 262.5 426.2 262.8 426.5 262.5 426.8 262.0 427.0 258.5 427.2 263.4 427.5 263.2 427.8 261.5 428.0 263.1 428.2 263.0 428.5 262.6 428.8 260.5 429.0 261.2 429.2 261.1 429.5 264.4 429.8 261.6 430.0 262.2 430.2 259.9 430.5 262.1 430.8 263.0 431.0 257.5 431.2 259.5 431.5 263.4 431.8 262.7 432.0 261.2 432.2 265.0 432.5 265.0 432.8 260.4 433.0 262.5 433.2 264.0 433.5 262.0 433.8 262.4 434.0 263.8 434.2 262.1 434.5 261.5 434.8 262.1 435.0 261.4 435.2 263.5 435.5 261.0 435.8 264.0 436.0 261.1 436.2 263.0 436.5 261.3 436.8 262.6 437.0 264.1 437.2 264.2 437.5 264.5 437.8 262.9 438.0 263.2 438.2 263.3 438.5 263.8 438.8 262.7 439.0 264.3 439.2 263.9 439.5 264.4 439.8 263.7 440.0 263.9 440.2 262.4 440.5 262.8 440.8 260.0 441.0 262.9 441.2 263.1 441.5 264.2 441.8 261.9 442.0 266.9 442.2 263.2 442.5 264.7 442.8 265.9 443.0 257.2 443.2 263.1 443.5 265.0 443.8 260.7 444.0 264.3 444.2 262.4 444.5 262.9 444.8 263.7 445.0 261.4 445.2 263.9 445.5 262.8 445.8 262.7 446.0 264.3 446.2 267.4 446.5 263.9 446.8 264.1 447.0 263.5 447.2 262.7 447.5 263.8 447.8 265.3 448.0 263.8 448.2 265.7 448.5 263.3 448.8 266.4 449.0 261.8 449.2 264.3 449.5 264.2 449.8 263.9 450.0 262.4 450.2 260.8 450.5 263.4 450.8 263.8 451.0 260.7 451.2 261.1 451.5 264.3 451.8 264.9 452.0 263.1 452.2 263.0 452.5 263.0 452.8 266.5 453.0 264.3 453.2 263.7 453.5 264.9 453.8 266.4 454.0 265.1 454.2 262.3 454.5 263.8 454.8 263.4 455.0 263.5 455.2 260.9 455.5 263.5 455.8 262.7 456.0 264.7 456.2 264.0 456.5 262.4 456.8 262.1 457.0 263.5 457.2 264.8 457.5 264.6 457.8 264.0 458.0 260.5 458.2 263.6 458.5 263.4 458.8 263.8 459.0 262.9 459.2 263.8 459.5 263.5 459.8 267.3 460.0 265.1 460.2 264.1 460.5 264.3 460.8 264.3 461.0 264.6 461.2 263.4 461.5 264.5 461.8 265.6 462.0 265.5 462.2 264.9 462.5 266.1 462.8 264.9 463.0 263.6 463.2 262.7 463.5 263.9 463.8 264.7 464.0 265.2 464.2 267.3 464.5 264.2 464.8 262.8 465.0 265.7 465.2 266.2 465.5 264.4 465.8 265.3 466.0 268.2 466.2 265.3 466.5 264.9 466.8 262.7 467.0 266.5 467.2 265.8 467.5 265.2 467.8 264.6 468.0 262.1 468.2 265.1 468.5 265.1 468.8 266.4 469.0 262.3 469.2 266.9 469.5 265.3 469.8 266.6 470.0 264.3 470.2 266.2 470.5 266.7 470.8 265.6 471.0 263.8 471.2 265.1 471.5 266.1 471.8 264.0 472.0 264.0 472.2 265.8 472.5 264.6 472.8 266.4 473.0 264.4 473.2 263.7 473.5 263.8 473.8 267.4 474.0 264.8 474.2 265.8 474.5 266.1 474.8 264.8 475.0 267.0 475.2 266.1 475.5 266.4 475.8 264.1 476.0 261.7 476.2 263.0 476.5 265.8 476.8 265.8 477.0 266.8 477.2 267.7 477.5 265.8 477.8 265.8 478.0 266.6 478.2 269.8 478.5 264.1 478.8 266.9 479.0 265.9 479.2 265.9 479.5 267.1 479.8 265.4 480.0 265.1 480.2 267.9 480.5 266.3 480.8 265.7 481.0 266.2 481.2 266.9 481.5 265.5 481.8 267.3 482.0 266.9 482.2 268.1 482.5 267.9 482.8 267.4 483.0 266.0 483.2 266.7 483.5 265.9 483.8 269.7 484.0 266.4 484.2 267.2 484.5 268.1 484.8 265.2 485.0 265.8 485.2 266.3 485.5 265.6 485.8 265.4 486.0 266.2 486.2 269.8 486.5 267.6 486.8 266.9 487.0 266.9 487.2 265.1 487.5 267.6 487.8 267.4 488.0 264.3 488.2 267.1 488.5 266.7 488.8 266.4 489.0 265.9 489.2 266.3 489.5 264.7 489.8 267.5 490.0 267.4 490.2 267.4 490.5 266.9 490.8 266.1 491.0 271.9 491.2 265.1 491.5 268.4 491.8 267.5 492.0 267.3 492.2 266.6 492.5 267.0 492.8 265.9 493.0 265.7 493.2 267.1" fill="none" stroke="#6ab812" stroke-width="0.8" stroke-linejoin="round" opacity="0.9"/>
<path d="M39.8 355.0L40.5 354.3 41.2 353.7 41.9 353.3 42.6 352.6 43.3 351.1 44.0 350.1 44.7 349.3 45.4 349.0 46.1 347.8 46.8 346.8 47.5 345.8 48.2 344.7 48.9 343.5 49.6 342.0 50.3 341.1 51.0 340.2 51.7 339.2 52.4 337.7 53.1 336.5 53.8 335.9 54.5 334.0 55.2 333.1 55.9 331.7 56.6 330.3 57.3 328.9 58.0 328.1 58.7 326.8 59.4 326.3 60.1 324.3 60.8 323.5 61.5 322.8 62.2 321.3 62.9 320.4 63.6 319.4 64.3 317.2 65.0 316.6 65.7 315.2 66.4 315.0 67.1 313.2 67.8 312.3 68.5 311.6 69.2 309.6 69.9 308.6 70.6 307.6 71.3 306.1 72.0 305.6 72.7 304.3 73.4 303.3 74.1 301.7 74.8 300.4 75.5 299.3 76.2 298.2 76.9 296.5 77.6 296.2 78.3 295.2 79.0 293.6 79.7 292.2 80.4 291.4 81.1 290.6 81.8 289.7 82.5 289.5 83.2 287.5 83.9 287.5 84.6 287.4 85.3 287.0 86.0 286.7 86.7 286.3 87.4 286.4 88.1 287.0 88.8 287.3 89.5 286.3 90.2 286.8 90.9 286.9 91.6 287.3 92.3 287.1 93.0 287.4 93.7 287.8 94.4 287.1 95.1 287.9 95.8 287.2 96.5 287.3 97.2 288.1 97.9 287.9 98.6 289.1 99.3 289.6 100.0 289.3 100.7 289.6 101.4 289.8 102.1 290.1 102.8 290.6 103.5 291.0 104.2 291.0 104.9 291.2 105.6 291.7 106.3 292.8 107.0 292.7 107.7 294.1 108.4 293.8 109.1 295.2 109.8 294.6 110.5 295.4 111.2 296.6 111.9 297.2 112.6 297.6 113.3 299.2 114.0 299.0 114.7 299.8 115.4 300.0 116.1 301.7 116.8 302.0 117.5 302.5 118.2 302.3 118.9 303.9 119.6 304.3 120.3 305.5 121.0 306.6 121.7 306.8 122.4 308.2 123.1 309.5 123.8 310.2 124.5 310.9 125.2 311.5 125.9 312.6 126.6 313.3 127.3 315.2 128.0 315.7 128.7 316.1 129.4 317.5 130.1 318.0 130.8 318.1 131.5 320.9 132.2 321.8 132.9 321.7 133.6 322.9 134.3 324.2 135.0 324.9 135.7 325.6 136.4 326.6 137.1 327.6 137.8 328.4 138.5 329.6 139.2 330.4 139.9 331.2 140.6 332.6 141.3 333.1 142.0 335.4 142.7 335.4 143.4 337.1 144.1 338.2 144.8 339.2 145.5 340.0 146.2 341.2 146.9 341.2 147.6 342.4 148.3 343.1 149.0 343.6 149.7 344.1 150.4 345.3 151.1 345.1 151.8 345.7 152.5 346.2 153.2 346.7 153.9 347.2 154.6 347.5 155.3 348.0 156.0 348.3 156.7 348.8 157.4 349.4 158.1 349.0 158.8 350.1 159.5 349.7 160.2 350.4 160.9 350.5 161.6 350.6 162.3 350.3 163.0 351.7 163.7 351.1 164.4 351.2 165.1 351.9 165.8 351.7 166.5 352.4 167.2 352.4 167.9 352.1 168.6 352.0 169.3 352.2 170.0 351.5 170.7 351.9 171.4 351.9 172.1 351.6 172.8 351.8 173.5 351.1 174.2 351.8 174.9 351.9 175.6 351.0 176.3 351.4 177.0 351.7 177.7 351.2 178.4 350.6 179.1 350.5 179.8 350.9 180.5 351.1 181.2 350.0 181.9 350.2 182.6 349.8 183.3 349.9 184.0 350.0 184.7 349.7 185.4 349.4 186.1 350.2 186.8 349.4 187.5 349.3 188.2 349.6 188.9 349.2 189.6 349.0 190.3 349.3 191.0 348.6 191.7 349.1 192.4 349.2 193.1 349.0 193.8 348.7 194.5 348.7 195.2 348.1 195.9 348.7 196.6 348.8 197.3 349.0 198.0 348.8 198.7 348.6 199.4 348.4 200.1 348.7 200.8 348.8 201.5 349.2 202.2 348.9 202.9 348.8 203.6 349.1 204.3 349.1 205.0 349.3 205.7 348.8 206.4 349.1 207.1 349.4 207.8 350.2 208.5 350.2 209.2 350.4 209.9 350.9 210.6 350.4 211.3 351.3 212.0 351.3 212.7 351.1 213.4 352.0 214.1 351.3 214.8 351.6 215.5 352.1 216.2 352.5 216.9 352.5 217.6 352.1 218.3 352.9 219.0 353.1 219.7 354.2 220.4 354.0 221.1 353.9 221.8 353.7 222.5 354.4 223.2 354.1 223.9 354.7 224.6 355.0 225.3 355.0 226.0 355.4 226.7 355.4 227.4 355.6 228.1 356.5 228.8 356.4 229.5 356.4 230.2 356.5 230.9 357.0 231.6 357.3 232.3 357.6 233.0 358.0 233.7 357.9 234.4 357.5 235.1 358.7 235.8 358.5 236.5 358.5 237.2 358.8 237.9 358.0 238.6 358.5 239.3 358.5 240.0 359.2 240.7 358.5 241.4 358.9 242.1 359.5 242.8 359.3 243.5 359.1 244.2 359.9 244.9 359.0 245.6 359.6 246.3 359.5 247.0 359.8 247.7 359.6 248.4 359.5 249.1 359.9 249.8 359.5 250.5 360.1 251.2 359.9 251.9 360.4 252.6 360.0 253.3 360.0 254.0 360.4 254.7 360.8 255.4 359.8 256.1 360.5 256.8 360.8 257.5 360.2 258.2 360.4 258.9 361.0 259.6 360.6 260.3 360.7 261.0 361.5 261.7 360.8 262.4 360.9 263.1 360.5 263.8 360.9 264.5 361.0 265.2 362.0 265.9 361.9 266.6 361.2 267.3 362.3 268.0 362.0 268.7 361.8 269.4 362.2 270.1 362.1 270.8 361.8 271.5 361.6 272.2 362.0 272.9 362.3 273.6 362.3 274.3 362.3 275.0 362.9 275.7 362.4 276.4 363.1 277.1 362.7 277.8 363.0 278.5 362.7 279.2 363.2 279.9 363.0 280.6 362.8 281.3 363.5 282.0 363.5 282.7 363.9 283.4 363.9 284.1 363.6 284.8 363.8 285.5 363.3 286.2 363.9 286.9 364.7 287.6 364.9 288.3 364.8 289.0 364.7 289.7 364.9 290.4 365.0 291.1 364.5 291.8 364.9 292.5 365.6 293.2 365.7 293.9 365.5 294.6 365.5 295.3 365.5 296.0 365.6 296.7 365.5 297.4 365.3 298.1 366.0 298.8 365.9 299.5 366.1 300.2 366.7 300.9 366.5 301.6 366.3 302.3 366.8 303.0 366.3 303.7 367.2 304.4 367.1 305.1 367.1 305.8 367.5 306.5 367.9 307.2 367.5 307.9 367.5 308.6 368.6 309.3 368.2 310.0 368.7 310.7 368.3 311.4 368.7 312.1 368.6 312.8 369.1 313.5 369.0 314.2 369.0 314.9 369.8 315.6 369.6 316.3 369.0 317.0 369.7 317.7 369.6 318.4 369.7 319.1 370.0 319.8 370.2 320.5 370.5 321.2 370.4 321.9 370.2 322.6 370.7 323.3 371.2 324.0 370.7 324.7 371.4 325.4 371.4 326.1 371.3 326.8 371.6 327.5 371.4 328.2 371.6 328.9 371.6 329.6 372.1 330.3 372.5 331.0 372.0 331.7 372.7 332.4 371.8 333.1 372.3 333.8 372.4 334.5 373.3 335.2 372.8 335.9 373.3 336.6 372.7 337.3 373.4 338.0 373.7 338.7 373.7 339.4 373.0 340.1 374.0 340.8 374.3 341.5 374.6 342.2 374.5 342.9 374.0 343.6 374.5 344.3 375.0 345.0 374.6 345.7 375.1 346.4 374.9 347.1 375.2 347.8 375.5 348.5 375.2 349.2 376.3 349.9 375.6 350.6 375.8 351.3 375.6 352.0 375.9 352.7 375.9 353.4 375.6 354.1 375.7 354.8 376.3 355.5 376.3 356.2 375.7 356.9 375.9 357.6 376.5 358.3 376.7 359.0 376.9 359.7 376.5 360.4 377.1 361.1 376.9 361.8 376.9 362.5 377.1 363.2 377.5 363.9 377.5 364.6 377.6 365.3 377.3 366.0 377.5 366.7 377.3 367.4 377.6 368.1 377.7 368.8 377.7 369.5 378.1 370.2 378.1 370.9 378.3 371.6 378.2 372.3 378.5 373.0 378.3 373.7 378.6 374.4 378.6 375.1 378.7 375.8 378.5 376.5 378.3 377.2 378.3 377.9 379.3 378.6 378.9 379.3 379.0 380.0 378.8 380.7 378.8 381.4 379.8 382.1 378.7 382.8 379.1 383.5 379.1 384.2 378.9 384.9 378.9 385.6 379.1 386.3 379.2 387.0 379.2 387.7 379.6 388.4 379.2 389.1 379.6 389.8 380.0 390.5 379.9 391.2 379.4 391.9 378.9 392.6 380.0 393.3 379.9 394.0 379.7 394.7 380.2 395.4 379.8 396.1 380.0 396.8 379.7 397.5 380.1 398.2 380.0 398.9 380.0 399.6 380.5 400.3 380.3 401.0 379.9 401.7 380.5 402.4 380.6 403.1 380.2 403.8 380.3 404.5 380.5 405.2 380.4 405.9 380.6 406.6 380.7 407.3 380.5 408.0 381.2 408.7 380.5 409.4 380.6 410.1 381.3 410.8 381.4 411.5 380.8 412.2 380.8 412.9 380.6 413.6 381.2 414.3 381.0 415.0 380.8 415.7 381.1 416.4 381.4 417.1 381.3 417.8 381.7 418.5 381.5 419.2 381.3 419.9 381.2 420.6 381.4 421.3 381.6 422.0 381.5 422.7 381.6 423.4 381.4 424.1 381.5 424.8 381.7 425.5 381.3 426.2 381.0 426.9 381.9 427.6 381.6 428.3 381.3 429.0 381.5 429.7 381.4 430.4 381.0 431.1 381.4 431.8 381.1 432.5 381.6 433.2 381.5 433.9 381.9 434.6 381.6 435.3 381.7 436.0 381.5 436.7 381.5 437.4 381.3 438.1 381.9 438.8 381.8 439.5 381.6 440.2 381.8 440.9 381.7 441.6 381.6 442.3 381.9 443.0 382.2 443.7 381.8 444.4 381.5 445.1 381.8 445.8 382.5 446.5 381.8 447.2 382.4 447.9 382.0 448.6 382.3 449.3 382.1 450.0 381.8 450.7 382.1 451.4 382.8 452.1 382.2 452.8 382.5 453.5 382.2 454.2 382.3 454.9 382.5 455.6 382.6 456.3 383.1 457.0 382.5 457.7 382.5 458.4 382.4 459.1 382.2 459.8 382.2 460.5 382.8 461.2 382.2 461.9 383.1 462.6 382.9 463.3 382.7 464.0 382.5 464.7 382.8 465.4 382.8 466.1 383.1 466.8 382.7 467.5 382.8 468.2 382.9 468.9 382.9 469.6 382.8 470.3 382.5 471.0 382.6 471.7 382.8 472.4 383.0 473.1 383.3 473.8 383.7 474.5 383.6 475.2 383.2 475.9 383.6 476.6 383.1 477.3 383.0 478.0 383.8 478.7 382.9 479.4 383.1 480.1 383.2 480.8 383.7 481.5 383.1 482.2 383.5 482.9 383.2 483.6 383.0 484.3 383.4 485.0 383.4 485.7 383.1 486.4 383.2 487.1 383.2 487.8 383.7 488.5 383.6 489.2 383.5 489.9 383.6 490.6 383.4 491.3 383.6 492.0 383.4 492.7 383.2 493.4 383.4 494.1 383.6 494.8 383.6 495.5 383.9 496.2 383.2 496.9 383.6 497.6 383.7 498.3 383.4 499.0 383.7 499.7 383.6 500.4 383.4 501.1 384.0 501.8 383.3 502.5 384.0 503.2 383.6 503.9 383.5 504.6 383.5 505.3 383.5 506.0 383.5 506.7 383.8 507.4 383.3 508.1 384.1 508.8 384.0 509.5 384.2 510.2 383.6 510.9 383.2 511.6 383.7 512.3 383.8 513.0 383.9 513.7 383.7 514.4 383.8 515.1 383.9 515.8 383.5 516.5 384.4 517.2 383.6 517.9 384.0 518.6 384.2 519.3 383.7 520.0 383.9 520.7 384.4 521.4 383.9 522.1 384.2 522.8 384.0 523.5 384.0 524.2 384.2 524.9 383.9 525.6 383.9 526.3 384.3 527.0 384.1 527.7 384.1 528.4 383.7 529.1 384.0 529.8 384.4 530.5 384.3 531.2 384.1 531.9 383.9 532.6 383.9 533.3 384.2 534.0 384.4 534.7 384.1 535.4 384.4 536.1 384.0 536.8 384.4 537.5 383.8 538.2 384.2" fill="none" stroke="#000" stroke-width="4.4" stroke-linejoin="round"/>
<rect x="37.9" y="6" width="2.2" height="393.5" fill="#000"/>
<rect x="37.9" y="396.7" width="502.3" height="2.2" fill="#000"/>
<rect x="39.05" y="398" width="2.3" height="6.4" fill="#000"/>
<rect x="74.80" y="398" width="2" height="3" fill="#000"/>
<text x="40.20" y="422" text-anchor="middle" font-size="15.5" font-weight="bold">10</text>
<rect x="110.25" y="398" width="2.3" height="6.4" fill="#000"/>
<rect x="146.00" y="398" width="2" height="3" fill="#000"/>
<text x="111.40" y="422" text-anchor="middle" font-size="15.5" font-weight="bold">20</text>
<rect x="181.45" y="398" width="2.3" height="6.4" fill="#000"/>
<rect x="217.20" y="398" width="2" height="3" fill="#000"/>
<text x="182.60" y="422" text-anchor="middle" font-size="15.5" font-weight="bold">30</text>
<rect x="252.65" y="398" width="2.3" height="6.4" fill="#000"/>
<rect x="288.40" y="398" width="2" height="3" fill="#000"/>
<text x="253.80" y="422" text-anchor="middle" font-size="15.5" font-weight="bold">40</text>
<rect x="323.85" y="398" width="2.3" height="6.4" fill="#000"/>
<rect x="359.60" y="398" width="2" height="3" fill="#000"/>
<text x="325.00" y="422" text-anchor="middle" font-size="15.5" font-weight="bold">50</text>
<rect x="395.05" y="398" width="2.3" height="6.4" fill="#000"/>
<rect x="430.80" y="398" width="2" height="3" fill="#000"/>
<text x="396.20" y="422" text-anchor="middle" font-size="15.5" font-weight="bold">60</text>
<rect x="466.25" y="398" width="2.3" height="6.4" fill="#000"/>
<rect x="502.00" y="398" width="2" height="3" fill="#000"/>
<text x="467.40" y="422" text-anchor="middle" font-size="15.5" font-weight="bold">70</text>
<rect x="537.45" y="398" width="2.3" height="6.4" fill="#000"/>
<text x="538.60" y="422" text-anchor="middle" font-size="15.5" font-weight="bold">80</text>
<text x="289.5" y="457.5" text-anchor="middle" font-size="24.2" font-weight="bold">2 Theta(°)</text>
<text transform="translate(23.9 223.3) rotate(-90)" text-anchor="middle" font-size="24.2" font-weight="bold">Intensity (a.u.)</text>
<g font-size="9.6" fill="#1a1a1a" stroke="#1a1a1a" stroke-width="0.32">
<text x="97.1" y="52.8" text-anchor="middle">16.8°</text>
<text x="111.3" y="93.8" text-anchor="middle">19°</text>
<text x="214.3" y="14.1" text-anchor="middle">35°</text>
<text x="185.4" y="162.4" text-anchor="middle">31°</text>
</g>
<rect x="390.5" y="59.0" width="82.0" height="15.2" fill="#fff" stroke="#c4c0ec" stroke-width="1"/>
<line x1="392.2" y1="65.5" x2="413.1" y2="65.5" stroke="#b4b2f0" stroke-width="1" stroke-linecap="butt"/>
<text x="415.8" y="68.8" font-size="9.85" fill="#111" stroke="#111" stroke-width="0.22">PLAZrO<tspan font-size="7.2" dy="2.7">2</tspan><tspan dy="-2.7"> 1%</tspan></text>
<rect x="379.6" y="121.8" width="97.9" height="16.5" fill="#fff" stroke="#ababab" stroke-width="1"/>
<line x1="382.9" y1="129.2" x2="404.0" y2="129.2" stroke="#d4ccf6" stroke-width="1" stroke-linecap="butt"/>
<text x="407.4" y="132.6" font-size="10.45" fill="#111" stroke="#111" stroke-width="0.22">PLAZrO<tspan font-size="7.6" dy="3">2</tspan><tspan dy="-3"> 0.5%</tspan></text>
<rect x="375.4" y="213.7" width="108.6" height="17.5" fill="#fff" stroke="#8c8c8c" stroke-width="1"/>
<line x1="376.7" y1="221.0" x2="400.7" y2="221.0" stroke="#d8ecb4" stroke-width="1" stroke-linecap="butt"/>
<text x="402.3" y="225.0" font-size="11.35" fill="#111" stroke="#111" stroke-width="0.22">PLAZrO<tspan font-size="8.2" dy="3">2</tspan><tspan dy="-3"> 0.25%</tspan></text>
<rect x="377.5" y="304.3" width="81.3" height="26.2" fill="#fff" stroke="#8c8c8c" stroke-width="1"/>
<line x1="380.3" y1="317.8" x2="422.0" y2="317.8" stroke="#000" stroke-width="2.5" stroke-linecap="round"/>
<text x="427.1" y="323.9" font-size="15.8" fill="#111" stroke="#111" stroke-width="0.2">PLA</text>
</svg></body></html>
